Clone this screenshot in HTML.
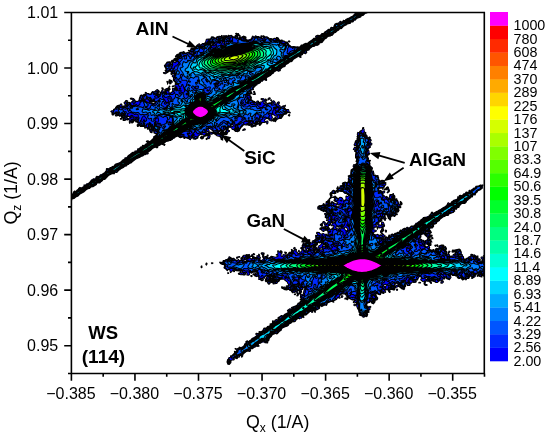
<!DOCTYPE html>
<html><head><meta charset="utf-8"><title>RSM</title>
<style>
html,body{margin:0;padding:0;background:#fff;}
body{width:550px;height:437px;overflow:hidden;}
svg{display:block;font-family:"Liberation Sans",Arial,sans-serif;}
.tk{font-size:16px;fill:#000;}
.cb text{font-size:14.3px;fill:#000;}
.ti{font-size:17.8px;fill:#000;}
.an{font-size:17.5px;font-weight:bold;fill:#000;}
.ct path{fill-rule:evenodd;stroke:none;}
.ct path.cl{fill:none;stroke:#000;stroke-width:1.05;stroke-linejoin:round;}
.ax{stroke:#000;stroke-width:1.6;fill:none;stroke-linecap:butt;}
.ar{stroke:#000;stroke-width:1.8;fill:none;}
</style></head><body>
<svg width="550" height="437" viewBox="0 0 550 437">
<rect width="550" height="437" fill="#fff"/>
<defs><clipPath id="cp"><rect x="71.40" y="12.50" width="412.90" height="360.95"/></clipPath></defs>
<g class="ct" clip-path="url(#cp)">
<path fill="#0000ff" d="M372.4 8.5l-.5 1-1 0-4 3.5-1.5 .2-2.5 2.3-1.5 .2-.7 1.3-4.3 1.6-3.5 3.3-2 .2-.5 1.2-3 .6-4 2.4-2 2.3-2 .5-5.5 4-1.5 2.2-3.5 .7-1.6 1-1.4 1.6-1.3 .4-2.5 3.5-2.7 .6-.5 1.5-2 .9-1-.5-2 1.5-2 .4-2.1 1.6-.8 1.5-2.1 .6-.1 1.9-.9 1-3-.2-.4 1.2-1.8 1 .2 1.9-1.5-.4 .4-1-1.4 .2-5 3-2 2.5-1.5 .1-4 2.7-1 1.9-2.5 .9-1.9 1.7-.6 1.8-1.5 .4-1.5-.8-3 1.6-.4 1-3.1 2.6-3.7 1.9-.3 3-2.5-.8-1.5 1.6-1-.2-1.5 1.8-3.5 1.6 .5 .5-1 .2-3 2.8 .6 1.5-2.9 1 1.5 3-2 .5-.6 1.5 1.2 .5 .8 2-2.2 1.5 2.1 0 1.5 1.5 1.8 .5 2.3 2.5 .6 0-.9-2 .7-1 1.2 .5-.3 1 .6 .5 4.4-2-.9-1.2-1.5-.8 .5-.4 2.5 .2 1 1.7 .4-1.5 1 .5 .7 1-1.3 .5 .7 1.5-2-.7-.9 1.2 .4 .7 1-.3 .5 .6 6-1.2 .5-1.5 1.5-.6 1.3 .8 .7 1.3-.3 1.2 .8 .7 1.5-2.2 1.5-.8 .6 1.3-1.4 1 1.8 1.5 .1 1 1.9 .3 3.5-1.6 0 1.1-1-.2-.1 1.4 1.6 1.9 2.7 .1 .4 2 1.3 1-.4 .6-2-.8-1.5 1.7-2.5 .4-2.5 3.8-2.5 0-2.5 1.8-1 1.7-1-.8-1.5 .1-.3-1 2.8-2.5 1.5 .6 .5-2.1-1.5 .3-3-2.2-1.3 1.4 .8 2-1 3.6-2.2-1.1 .2-.9 1 0-.5-.6-1.5 .5-1.5-.7-2.1 1.2-.2 1.5 3.3 .3 .1 1.7-.8 1-1.3-1.9-3.5 .3-2.5 3-.8-.9 .3-2.5-1.5-.7-1.6 .7 2.1 1-.5 1.3-2.4 .7 .6 .5-.2 .7-1.5-.2-2 1.1-1.5-.6 0-1.4-1.5 .3-1.5-.5-.5-1.4-.7 .5 .2 1.1-1.3-.1-.7-.9-2.5 1.3-.1 1.1-1.4 1.1-1.5 3.2-2 1-1-.6-1 .2-2-2-1 .1-.6-1.5-2.9-1-.6 .5-.3 2.5 .4 .6 1.2-.1-.2 1-1 .1-1.6 2.9-2.4-.2-1 .7-.9 3.5 .3 1.5-1.9-1 .1-1-1.6-1.9-3.1-.6 .1-1-1.5-.1-.5-1.1-3 .9-1.5-1-.5 .3 .8 2.5-1.3 2.7-1.3-.7 .5-1.5-.7-.9-2.5 .7-.5-1-4.5-1.1-1.6 1.8-.5 2-2.4 1.3-2.2-.3 .7-1-.5-.8-2.5 1.3-.5 1.2-7-2.9-3 .9-2.5-1.6-2.5 .8-1.5 1.5-1-.3-.5 1.4-1.9 1-4.5 1-2.4 1.5-1.2 1.6-1.5-.5-.6 .9-2.5 1-.4 1.7-2-.6-2.5 1.1-4.7 3.8-.3 1.9-4 .9-1 1.2-1.5 .2-2 1.4-3.6 1.4-4.4 3.8-2 .6-.9 1.1-1.1 .1-1 1.4-1.5 .2-6 3.9-2 2.4-2-.5-.5 1.7-2-.1-3.5 1.6-4 4.1-2 .2-.3 1-2.7 2.4-1 .2 0-.6-1.5 .4-.9 1.6-3.6 2.3-2 .3-1.5 1.4-3 1-2.7 2.5-3.7 2-1.8 2-2.5 1-1.7 1.5-2.1 .5-.3 1.5-1.2 1.2-2-.1-1 .7 0-5.3 1-2.6 .5-.4 1 1.5 2.7-1.5 1.8-3 1.5 .4 4-4 1.5 .6 2.5-1.5 0-1.5 2-.2 1-1.1 2-.6 2.5-3.1 2-1.2 2.5-.3 .5-1.9 2 .1 2-2 1.5-.3 3-2 1.4-1.9 .1-1.7 2.5-.1 1.5-1.2 3.8-1.5 1.7-2.1 4.5-1.6 4.3-3.3 .2-1.2 1.5 0 5-4.7 3-.8 .5-1.4 2-.1 1-2.1 1 .1 2-2 1 .4 1-2 1.5 .3 1-1.3 1.7-.7 .2-1-1-1 .6-.5 3.5 .2 3.1-2.7 .3-2 2.5-1.5-.4-1.2-1.9-.8-1.1-3.8-.8 .3-.2 3.3-1.5-.6-1.1-3.2 2.3-.5-.9-1.5-1.5 .5 .1 1-1.4 .7-1.5-1.9-1.5 1 0-1.9-4.5 0-1-1.1-2 1.2-.3-1.5 1.9-1-.6 0-1.1-2 .6-1-.5-1.1-.8 .6-.2 1.6-1.2-1.6 .2-1.2-3 3.6-.6 .1-1.4-1.4-.5 1.8-.5-.3-.1-3.1-.9-.6-5 1.2-.5-.6 .4-1.5-1.7-1-.2-1.5-2 .2-1-1-2.7 .8-.4-.5 1.1-3-3 2.4-1 0-.5-.9 .2-1.5-1.3-1 2.5-1 .2-1 1.9-1 1.4-2.5 2.6-.6 1.5-1.4 1 .5 0 2.4 3.3-1.4 .6-1-1.3-.5-.4-1.5 .8-.7 1.3 .7 .2 1 1-1 2-.2 1 1.7 .1-1 2.4-2.5-.5-.9-2-.6 .5-.9 2.5 .3 2 3 3-.3 2-5.6 1-.6 1.5 .7 1-1.3 1.5 .5 0-2.4 5 1.7 2-2.5 2.5-.1 2.5-1.9 2 1.9-1.6 2 1.6 .7 .7-.2 .1-1.5 1.5-1 .7-2-.5-1.8 1.3 .8-.3 2 .4 1.5 .6 .1 1.1-1.1-.2-1.5 4.1-1.9 1.2 1.9-.7 .7-2-.3-.1 .6 1.6 .8 1 2.1 .5 .1 .5-1.1 1 0 .8-1.9-.3-1.7 .5-.6 1.5 .7 .9-2.4-.5-.5 .5-3.5-2-2 .1-3-1.3-1.5 .8-1 1.5 0-1-1.8-2.1 1.3-.2-3-1.7-.6-4 2.8-2-.7 0-.5 3-.3 .2-.7-1.5-1 1.2-1-1.9-4 3-3.5 2.5-.3 1 2.3 1.6-.5 .2-.5-1.4-1 .1-1 2-.6 .6-1.4 1.4-.9 1.5 .4 .2-1.5-1.2-.1-.3-.9 1.3-1.4 2-.6 .5-1.1 4.5-1.4 1 1.6 4-.9 2 .8-.2-1.5-2.3-1 1.5 .4 1.5-2.8 2 .4 0 1.2 .4-.7-.4-.5 1.9-1 2.1-2.7 .5 .2 1.5-1.2 .5 1.4 2.5-1.7 2-.3 1.1-.7 .9-3.3 4-.4 1.5-2 4 1.3 1.5-1.5 1 1.1 .5-1.4 2.7 .2 .3-1.1 .5 1.6 2 2 .3-1.5-1.1-1 .1-1 1.2 .6 1.5-.5 .3 .9 .7 .2 1-1.5 1 .5 2-.4 2.5 1.8 1-.5 .5-1.3 1.2-.3 .2-.5-1.2-1 .8-.3 .5 .5 1.5-.1 1.9 2.4-.4 .6-1.5-1.8-1 .1 .5 3.4 2-1.3 1.5 .2 2-1.1 2.5 .9-.5 2.2 2 .8 3.7-1 1.3-2.8 1.5 .9 2-1.3 1 .8 2-.1 1.5 1 .5-1.5 1-.1-.5 1.6 .5 .8 1.5-.8-.6-1.5 .6-.3 2 1.3 1.5-.3 2.5 2.1 1.5-.3 2.5 .7 1-1 1.5 .5 1-1.3 1.4 .6 1.6 2.4 2-.5 1 1.7 1-.9 1 1.4 2.5 .2 2 3 2 1.5 8 .2 1-.5 .8-1.5 1.7-.1 3-1.6 1.5 .1 6.5-5.2 1.8-.2 .8-1-1-.5 1.9-1.2 2.5 .3 2-2.2 1.7 .1 .8-1.3 4-2.9 1.5 .1 1-2 2.5 .1 1.6-3.5 3.4-.8 2-2 1 .8 1.5-.5 .5-1.3 1.5 .5 .9-1.2 7.1-3.6 2.5-3.1 6-2 .9-2.3zM250.4 122l-.5-.5-.9 .5 .9 .7zM252.7 124l1.2 1.4 1.4-.4-1.4-1.6zM271.5 103.5l.9 .5 1.2-1-.2-.4-1.9 .4zM274.9 109.6l1.8-1.6-2 0zM126 105l.9 .8 .8-.3-.3-.8zM126.9 117.5l1.5 1.3 1-.8 1.5 0-1.5-1.4-1.5-.2zM133.6 117.5l1.3 .7 .6-.7-.6-.7zM149.4 101.5l0 .5 4 1.2 1.7-.7-.7-1.1zM173.4 60.9l.5 1.4 1.5 .4 .5-.7-.5-1.3zM179.1 89l1.3 0 .3-.5-1.3-.1zM192.9 52.5l-1 1 1 .9 .7-.9zM205.6 132.5l.4 .5 2.7 0-.2-1-1.1-.5zM208.1 129l1 1-.2 1.6 3 1.1 1-.6 .2-1.1-3.7-2.8zM211.4 42.6l-.5 2.4 1 .9 1.1-2.4zM223.9 41.2l-1.5 .7 .5 1.3 1-.4zM225.8 129l-.6 0-1.8 2.5 .5 1 1-.1 .5-1.3 1.3-.1zM235.4 125.4l-.7 .6 .7 1.6 .6-1.6zM275.4 110.4l.5 1 1.1-.4zM149.6 123.5l0 1 .8 .5 .2-1zM192.9 134.2l1 1.6 .2-1.3zM221.4 130.5l-.5-.3-2 1.6-.9 2.2 .4 .4 2.5-2.2 .2 1.8 1.3-.3-1.2-2.2zM230.9 125.5l1.5 1.1 .9-1.6-1.4-.5zM290 41.5l-.6 .5-1.2-.5 1.2-.6zM169.4 79.7l2 .8 1 1.5-.5 .4-1.8-.4 1 1.5-.7 .4-.8-.4-.6-2zM166.9 81.3l1.4 .7-.9 2.1zM172.2 86.5l.7-.7 1.2 .2-1.2 .8zM168.9 87l.5-.9 .5 .2-.1 .7zM253.9 91.3l.6 .2 .9 2.7-1-.2-1 .6 1.2-1.1-1.1-1.5zM270.2 98l-1.3 1.7-1-.1 .3-1.1 1.2-.7zM270.9 99.7l.7 .3-.2 .9-.7-.4zM125.6 101l.8-.6 1.4 .6-.4 .5zM288.9 114.6l1 .4-.5 1.1-1.1-.6zM120.4 118.5l1-.3 .3 .8-.8 .4zM483.1 185l-.8 1.5 .1 1.5-2.5 2-2 .7-2.1 2.3-.7 2-1.7-.3-1 2.2-1.5 .2-2.5 2.1-2.5 3.3-1.3 1-2.8 0-2.4 2.5-.5 1.4-1.5 0-1 1.8-2-.2 .4 2-1.5 1.5-4.4 1.4-1 1.6-1.5-.1-3.5 1.6-3.2 2.5-.3 1.1-2.5 1.4-.6 1.5-3.3 1 .6 2-1.2 1.4-2.5 .4-.4 1.2 1.9 3-1.4 1-.2 2 .6 .3 1.5-.8 .3 .5-.3 .9-1.5 .4-1.6 2.2 .6 .8 1.6-.8 .1 2 .9 1-1.6 .5 .7 1.5-.2 1.4-2 0-2.5-1.5-2.1 .6 1.6 2.2 1.5 0 1.5-1.1 1 4 2 .6 1.7-.7 1.3 1.9 .7-.4 .4-2.5 2.8 0 .3-2.5 2.3-.9 2.5 .4-.3 1 .8 .5 1-.4 1 1.4-.2 1.5-1.1 1 1.7 1 .3 1.5-1 .5 .8 1.3 1.1-.3 .9-3.4 1.2 .4-1.7 2 1 1-.2 1 1.2 1 1-.5 1.5 .3 .1-1.3 1.8-1 .6-2.1-3.4 .1 .9-2.1 1 .4 5.5-1.2 1.9 2.9 0 2.5 1 0 .2 1.5 1.1 1-.1 1.5 .9 .6 1.5-.1 2.8-1.5 .2-.8 1.5-.3 .6-.9-.2-1 .6-.3 1.3 .3 0 1.5 .7 .6 .8-.6-.4-1 .6-.2 2 1.5 1.5-.4 .5 4.6 .7 0-.3-1.5 1.1-.1 .5 1.1-.5 1 1 1.1 .6-.1 .4-1.6 2-1.3 1-.1 .5 1.6 2.5-.9 0 15.5-2.5-.9-2 1.8-1.5-.9-.5 .8 .5 1.1-3.5-1.3-1 .6-.3-.9 1.3-.3 .3-1.7-.8-.6-.6 1.1-1.9 .5 0 .9-.2-1.4-1.3-.2 .5 1.7 1 0-.2 1-2.8 1.9-1-.4 .7-.5-.2-.9-1.5-.7-1.5 2.3-2.3 .3-.7 1.5-1-1.5-1 1.1-1.5 .4-1.1-1.5 .1-1-.5-.3-1 1.2-1 .2-1-1.1-.5 .2 .5-1.4-5.5-.9-1-1.3-1.1 1.4 .7 2-1.6 2.2-2.5-.7-.4-2-.6-.3-1.3 2.3-2.1 0-1.1 1.6-2.5 .5-1.6 1.4-1.4 0-4-1.7-2.5 1.1-.5-.8-1.5 .2-1.5-.6-.8 3.3 2.2 1-1.4 .4-1.5-.7-.5-2.9-3-1.8 .4-2.5-1.9-1.1-1.8 3.6-1.7 .1 .4 1.4-.4 .7-2 .4-2-.5-.5 1.1-1.3 .3 0 1.5-.7 .5-2 .1-.7-1.6-.8-.3-.7 .8 .3 2-1.6 3.2-5.3-3.2 1.9-.5-1.6-.9-1.5 1.9-2.4 1-.6 1.9-3.5-.5-1.5 .6 .8 1.5-.3 .9-1.2-.9-.7-1.5-1.1-.4-2.3 .9 1.2 1.5-.4 .4-2-.8 .5 1.9-3-.7-.3 1.7-.7 .2-4-1.4 .4 2.7 1.5 2-.4 1.4-2 .7-.7 2.4-1.3 1.4-1.8-.9-.7-1.3-3.5 1.2-.7 3.1 1.2 .1 .5 1.4 1.5-1.2 1 .7-.9 1 0 1.5-1.6 1.2 .9 1.3-2.2 1 .6 1.5-.8 2.1-1.5-.3-2 .9-1.3-1.2-2.7-1 .5-1.5-3.1-7-.4-3 .5-1-.5-.5-1 .6-1.5-.5-.5 .6-.1-.7 1.2-1-.5-1-2.6-.4-2-1.1-1-2.1-2-.1-.3-.8 1-1-.2-1.2-1.5 1.3-1-.9-2.7 .3-2 1.5 .2 2.8-1.2-.3-.3-1-2 2.6-3 1.4 .5 1.1-3-.7-3.5 1.5-1 2.5-1.5-.7-1.5 1-1-1-.5 .3 .5 1-.5 .6-2-.8-.5 2.7-4.3 2 .3 1.8-.9-.3-.6-1.5-1-.2-.8 .7 .7 1-.9 .5-.6-1-1.4 0-3.5 3.5-1.5-.2-1.2 .7 .2 2.1-1.2-.6-.3-1.3-1 .2-.5 .7 1.4 .4-.9 1.3-1.5-.1-.5 .7-1-.6-2 1.2-1 1.7-3.5 .7-.7 1.1-2.2 1-.6 1.3-6.5 3.1-.9 2.1-1.1 .4-2.5 2.8-2-.3-2.7 1.1-3.4 4-.8 2.5-1.4 .5 .6 1.5-2.8-.3-1-.8-5 1.6-.7 1 1 1.5-1.3 .5-2-1-.4 .5 .5 .5-3.6 2.3-1-.2-1.4 .9 .4 1.6-3-.1-4 2.8-1.5 3.4-1-2.1-1.3 .9-.2 1.1-1.5-.4-1 2-1.5-.8-2 .6 1 1-3 .7-1.5 3.9-2 .1-.9-2.2 .7-2.5 1.2-1.9 1.7-.6-.1-1 1.6-.5 2.6-3-.3-1.1 1.5 .5 .5-.3 .5-2.6 2-.4 .5-1.5 1.5 .6 3.5-2.3 0-1.4 1.7-1-.2-1.5 1.5-.8 .5 .7 1 0 2.7-1.9 .3-1 5.7-3.5-1.7-.4 0-1.1 3-.2 .3-1.8 1.2 .3 2.1-.8 1.4-2.7 1.5 0 1.5-.7 .5-1.1 2.1-.5 .7-1-.2-1 1.4-.1 1-.9 0-2 2 .2 2-1.8 1.5 .6 .6-1-.6-.5 .2-1 3.3-2 2 .2 1.5-1.5 3.4-2.2-.9-1.5 2.5-1.8 1.6 .3 .6-.5-.7-1 4-1.4 2-1.5 .8-1.6 1.2 0 1-1.6 1.2-.4-1.5-1.5 1.7-1-1.4-1.2 .3-2.8-1.1-1-.5-3-1.1 0-.9 1 1.8 2.5-1 1.8-1 .2 .7-2-1.7-2.2-3.5 .9-1.5-2.3-1 .1-1-1.3-2.5 .7-4.3-1.4-.6-1.5 .4-.3 4.5 1.3-.2-2 1.7 .1 .6-1.1-1.1-2.9-2.6-1.6 .4-.5-.8-.9-2-.2-2.5 .6-.7 1.5-2.8 2.5-3.3 .5-.7-1.7-2 .5-1.5 1.5-1.4-1.8 .9-2-1-.3-1 1.6-1.1-.8 .6-2.4 1.6-.1-1.1-.9 1-.9-.5-1-1.7 .8-.8 1.8-4 .2 .5 .8 2.5 .2-.5 1-1 .3-1.5-1.2-1.5-.1-.4-.5 .7-1-1.6-2-1.2 .6-3.5-2 .5-.8 2-.3 2.5 .6 0-1.1-2-.9-3 .2-1.5 .9-2-1-.4 .3 .8 1-.2 1-1.2 .8-1.6-.3 .4-1.5-.8-1.1-.6 .1-.9 2.5-6-.5-.5-1.2 1.5-.3 .5-1.2 1 1.4 1.2-1.2-1.7-1.3-1.5 .4-3-.3-3-1.3-.4 1-2.6 2.1-.7-3.1-1.3-.2-1 1.5-3.2-2.8 .5-2-.8-1.5-3.5-1-.6-1.5 1.1 .5 1.9-.5 .5-1.5 4.1-1.2 2-2.6 3 1.9 1.5-.3 1 1.3 2 .8 1.5-1 1.5 1.3 2.2-1.7-1.2-.3 0-.7 3-2.8 1.5 .1 1.5-.8 .9 .5 .1 1.3 1.5-.7 .9 .9-.7 1.5 2.3 .9 .6-.4 .1-1.5 .8-.4 2 1 2.2-.1-1-1.5 1.6-.5 .7-1.4 .8 .9-.8 1.9 1.5 .6-.5 2.5 2 .5 2.5-3.5 1-.5 3 1.6 3-1.9 4 1.1 2.3-.8 .2-1.5-1.7 0 1.5-1 .2-3.3 1.5 1.6 .5 0 .5-1.6 1.6 .8 .1 1.5-1 1-.1 1.5 .9 1.1 .9-.1 0-1.5 .6-.4 4 .5 2-2.9 1.5 .4 .8-2.1-.4-1 .6-.1 2 1.6 1.5-1.6 1 0-.5 2.1 2 1-.1 1 2.1 .1 0-1.5 1-.2 1.1-1.4-.1-1-1.5-1.5 2.1-1.5-.4-1 1.3-2.8 1 1.1 1-.2 2.9-2.1-.1-1.5 .7-.4 1 .4-.5 1 .4 1 1.1 1 1-.2 .4-1.8 1.6-.4 2-1.8-.3-3.3 2.3-.5-1.3-1.5 .3-1.2 2.5 .1 .2 1.1 1.8 .8 2-.8 6 1.9 0-.7-1.3-.7-.1-3-.9-.5-.1-4-1.6-.2-1.2-2.3 .2-1.1-1.7 .1 .2-1.1 1.3-.4 1.9 2-.3 1 .6 .2 1.7-2.7-.2-2 .9-1-.3-1.5-1.6 1.2-1.7-1.2 .1-2.5-.8-1 .4-.8 1.5 .8 .8-.5-2.3-2.3-1.5 .4-2.8-1.6 .8-1-1 .5-2.5-.4-.2-1.6 1.2-1.6 3.5-.7 1.5-1.7 .8 1.5 .8 0 .9-3.5 3-1.9 .4 1.4-.4 2.4 1.5-.5 1-1.4 3 2 2.5 0 .5-1-3.9-2 .9-1.5-1-1.8-1.3 .3 .3-.7 1.5 .2 .5-1 3 2.6 2-1.3 1.5 .2 1.8 2.5 1.2 .4 1.6-.9-.1-3.1 .5-.5 .2 .6 1.2 0 .8-1-.2-1-1 .1-.5-.8-2-.4-2.5-2.2-3.5-.1-1 1.5-1.5-2.1 3.9-3.5-.2-1 3.8-1.1 0-.8-1.5 .2 .5-1.5 2.5-.7 1 .5 1-.5 1.1 .4-.2-4 .6-1-.7-1.5 3.1-1.5-.6-1 .4-3.5 2.8-1.7-.8-1.8 .8-2 1 .5 1-.7 1.1-1.8-1-1 .7-3-1.2-1 0-2.5 .8-2.5-1.8-1.5 1.6-1-.1-.5-2.7 0 1.4-2.5 1.2 1.4 .3-.4 .1-2-.9-.8-1 .3-.3-1 1.4-3.5 1.6-1 .4-7 .4-.6 1 .3 2-2.1 1-.2 1.3-2.9 .5 0-.3 1 1.4 3.5-1.4 .9 0 .6 1 .4 1-1.3 .5 .2-.4 1.2 1.5 1.5 .4 2.1 1 .2 1-.9 .9 .6-.9 2 1.8 .5-1 2 1.7 1.5-.2 1.5-1.2 0-.2-.5 .1 2.7-2.3 1.8 1.5 4.5-2.2 2.5 1.1 2.5-.6 2.1 2.6-.1-1 1.5 .3 3 2.6 3-.8 2 .6 1 1.4 .5 .4 2-.6 1.1 3 1.2 1.5-.3 .1 1.5 .6 .5 .9 3 .9 .4 1.5-.6 2 .1 .6 1.6 1.6 1-.9 .5 .7 1-.5 .8-1 .1 .1 1.1-1.6 2 0 1-.5-1.6-2.5 .1-1.1 1 .3 2 1.8-.5 1.2 1.5 .6 2.5 2.7 3 1.5-1 1.5 2.1 .9-1.1 .6-3 2.5-.3 1-.7 1.6 3.5-.9 2 2.8-.2-.3 .7 1.7 2.5 .6 2.4 1.4-.9 .1-2.1 1.7 2.1-.2 1-2.1 1 1.1 1.4-.1 .6-2.5 1 .9 1.5-.8 1.7-2.4 .8 0 1 1.4 .5-.1 .5-1.4 .2-1.4 1.8-2.1-.8-1.3 .8-.6 3.5-.6 .1-1.6-1.6-1.1-3.5-.8-.4-1.5 .6 .5 1.9-1.6 .4 .6 1 1.5-.5 .3 .5-1.3 2-1-1.6-2-.5-.1 2.6-2.7 1-.5 2 1.3 1.3 1.8-.8-.3-1.5 1-.9 1 .4 1.2 3.5-1.8 1.5 .9 3-1.7 1.5-.1 1.5-1.3-1-.1-1.5 1.7-3-.8-.8-1.5 .9-.5-.8-1-.1-1 2.1-.3-1.8 1-2-.8-2-.7 0-.4 1 .2 2.3-2.3 .7-.2 2.6 2 .2 .5 .7-2.5 1.2-.5 1.8 2.5 .9 2-.7 1 1.4 1.5-.9 1.5 .6 .5-1.7 2.7 2.4-1.5 1 .1 1-.8 .5 .5 1.2 2.5-2.9 3 .7 0-2.4 .5-.1 .4 1.5 .6 .1 .6-2.1 1.4-.5 1.5 .7 1-1.4 1.5-.1 1-.9 2-.1 1-2.2 1.5 .4 2.5-2.2 1.5 .2 1.5-1.2 2 .7 2-1.9 2.5-.1 2-2.6 4.5-2.6 3-3.2 6-1.5-.2-1 1.2-.3 1.5-2.6 1.5 1.4 13.3-8 1.2-2.6 1.5 .8 1.5-.7 2.5-2.7 3.9-1.3 .5-1-.2-1 1.3 .2 .5-1.7 2.8 0 4.2-3.4 1 .3 2.1-.9-.1-1.2 .5 .9 .7-.2 .5-1 2.7-2 1.6-.3 .5-1.5 2.5-.1 2-1.2zM372.9 297.8l-1.1 1.2 1.1 2.4 .8-.9zM374.4 293.9l-.7 .6 .7 .9 .8-.9zM382.3 290l-.9 .2 0 .9 .8-.1zM383.8 284.5l-.2 1 1.3 1 1-.3 .6-1.2-.6-.8zM397.4 283.3l-1-.1-1 .7-.8 2.1 .3 .6 1.5-1.3 1.5-.4zM408.4 246.8l-1 .6 .5 1.2 1-.8zM423.9 233.7l-3 1.2 .1 2.1-1.3 1.5 4.7 2.8 3-1.6 .5-1.7zM425.9 231.4l.2 2.1 2.1-.5-.8-1.3zM425.4 277.2l0 1.8 1.6 .5-.1-2zM432.4 277.9l-.5 2.4 1.2-.8zM440.9 278l-1 .2 0 1.1 .8-.3zM454.5 255.5l1.4 .5-.5-1zM457.8 255.5l3.1 1.5 .9-.5-1.4-1.5zM471 273l1.4 .7 1-.2-.5-1.2zM475.1 259l1.3 .1 0-.6-.5-.4zM242.2 258l1.2 .9 .9-1.4-.9-.5zM243.8 260.5l1.1 1.1 1.8-1.1-.8-.7-1.5 0zM249 258l-1.1 .1 0 1.1zM270.6 277.5l.8 .7 1.3-.7-.3-.6-1.5-.1zM275.4 280.9l-1 1.1 .5 .5 1.1-.5zM305.6 248l-1.2-.4-1 .5 0 2.8 1.7-.9zM305.4 246l0 .8 1.3 .2zM306.5 249.5l1.9 2.3 .8-.3-1-1 .7-1 1 .9 1.4-.9-1.4-.6-1 .6-1.5-1.1zM311.4 245.4l1 3.7 .5 .1 .8-1.2-.6-1.5zM317.6 238l1.4 1-.1-1.3zM321.9 237.4l.5 1.9 .5-.8zM325.1 245l-1.7-.7-1 3.2-1.5 .8-1.5-.3 .8 2 2.2-.5 0-2 1.5-1.3 1-.1 1.3 1.4zM324.4 237.1l-.7 .9 1.2 .9 .6-.9zM330.6 217.5l1.3 2 .8 0-.8-2.2zM335.4 220.2l-2.6 1.3 .6 1.5 .5 .2zM335.6 227.5l2.3 1.7 1.5-.7 1.5 .6 .6-1.1-1.1-1-1.5 .2-2.5-.6zM341.7 200.5l-.3-.5-1.2 .5 1.2 .6zM344.7 227.5l-.1 1.5 1.8 2.1 1.5-2.1-1.5-1.8zM345.9 216.6l-.6 .9 .6 .7 .7-1.2zM354.9 165l-.5 2 1.1-1zM409.4 281.6l-1 .4 .5 .9 .6-.4zM304.4 287.5l-1.3 .5-.7 1.4-1.1 .1 .3 2.5-1 1.5 1.3 1.6 1.6-1.1 .4-4 1.3-2zM321.4 242.5l-2 .4-1-.8-1 2.6-1.5 .9-.2 .9 1.1 1.5-1.6 1-.8 3.5 1.5-.5 .5-2.8 1-1.2 1.2 0-.2-1.9 2.5-1.5zM331.9 222.3l-1 .2-1 2.9-1.6 .6 1.4 3 1.2 .5 2.5-2 .7-1.5-2.7-.5 1-2zM334.9 244.6l-1.2 .9 .7 1.2 .9-1.2zM340.5 203.5l-2.1 1.4-2-.1-.4 1.2 1.4 .9 2.5-.9zM245.4 129.3l-.5 .8-2.2 .4 1.7-1.7zM200.3 137.5l1.1-1.1 1 .6 1-.8 .7 .3-1 2-1.2 .5zM183.7 138l.7-.5 .7 .5-.7 .5zM206.4 138.2l.8 .8-.3 .6-.9-.6zM163.9 143.8l1.1 .7-.6 1-.7-.5zM337.9 186.4l0 1.6-1 .7zM384.3 189.5l1.6-1 .4-1 1.6-.7 1.6 3.7-.6 .3-1.5-1.3-1.5-.1-1 .6zM335.9 191.2l0 2-1.5 .6-2-.4-.9 .6 .6 1.5-.9 1 .4 1-2.2 1.9-.1-.9 .6-.1 .9-1.9-.9-2.5 .4-1 3.1-2.7zM382.5 192.5l.4-1.4 1.5 .1 .5 .8-1.5 1.2zM387 192.5l1.4-1.4 1 .4-2 1.4zM326.4 220.5l.5-1 1 .5zM321.9 223.3l.7 2.2-.7 .9-1.6-1.4zM320.4 227.9l1.5-.4 .5 .9 1-1.4 1.5-.4 1.4 1.4-.4 2.5-1.5-.6-.5 1.6-.5 0-2.2-2-1.3-.3zM385.9 230.1l.7 .9-.7 1.2-.6-1.2zM431.9 237.3l1 1.4-1-.3zM436.6 245l1.1 0 .2 1.2-1-.2zM435.4 245l.4 .5-.4 .9-.6-.9zM294.9 247.4l.1 1.6-1.1 .1 0-1.3zM298.9 250.2l.5 .8-.5 .6-.5-.6zM284.9 251.9l1.6 .6-.6 1.2-1-.7zM261.9 252.7l2.2 .3-.7 4.3-.9-.3 .3-1.5-1.7-2zM254.6 254l.1 .5-1.3 .2-1.5 1.9-1.2-.1 .7-1.5 1.4-.5 .6-1zM248.7 254.5l.7-.1 0 .9-.9-.3zM267.4 254.9l.6 .1-.1 1.2-.9-.2zM483.3 256l1.1-.8 3.5 1.8-1.5-.3-1 .6zM239.7 256.5l-.3 .8-1-.2-1.5 1.4-.5-.5 .5-1zM481 257.5l.4-.6 2.6 .6-1.6 1.9-1-.7zM206.7 263l.4 .5-.7 1.6-.6-.6zM211.4 263l1.6 0-1.1 .7zM201.4 265.9l.7 1.1-.7 .8zM233.4 271l.5-.4 .7 .9-.7 .2zM227.6 273l.8-.3 .3 .8-.8 .1zM250.8 275.5l1.1 0 .4 .5-.9 .7zM442.9 280.8l.6 1.2-1.1 1.1-1.5 0 0-1.2zM418.7 283l.7-.8 1.2 .3-.2 .6zM430.9 282.2l.6 .8-.6 .5-.5-1zM396.9 288.9l.7 .6-.7 1-.5-.5zM294.3 294.5l.6-.7 .8 .2-.8 .8zM341.4 295.8l1.4 .2-.4 1.3-1-.1zM347.4 297.3l.8 .7-.8 1.8-.6-.3-.1-1.5zM344.9 298.2l.6-.2 .5 1-1.1 .1zM354.4 303.9l1.1 .6-.6 1.3-1.1-.8zM235.1 348.5l.8-.1 .3 .6-.8 .3z"/>
<path fill="#002aff" d="M372.1 8.5l-4.2 2.8-1 1.4-2 .3-2 2.1-1.5 .3-1 1.4-3.5 1.1-3.5 2-1 1.9-1.5-.2-6.5 3.7-10.5 7.5-1.5 2.2-1.5-.1-4 1.8-4.2 3.8-.8 1.5-2.5 .4-.7 1.6-1.3 1-1.5-.4-6.1 3.4-3.8 3 .4 1-1 1.5-1-.9-1.5 .2-1 1.8-3.5 1-5 3.1-1.5 1.9-2 .6-4.7 3.3-.4 1.5-2.4 .9-3.2 3.6-2.3-.4-3.3 1.4-3.5 4-3.3 1.5-.9 2.3-2.5 .1-1 1.5-1-.1-3 2.6-1-.1-3.8 2.7 0 1-1.1 1 .1 1.5-1.7 .2-.7 .8 1.3 2.5-2.1 .9-1.2-.4 .3 2-1.7 .5 .1 1.4 1-.4 1 3.3 2.5 .1 1.1 1.1-.1 .8-1.8 .2 .1 1.5 5.7 .8 4.5 3 1.5-.6 2.5-2.2 2 .4 .5-1.4 1-.4 2.5-.1 1 1.7 3-.6 1.7 .9-.7 1.5-2.4 .5 .1 2.5-1.5 3.5-1.2 .4-1-.7-1.8 .3 1.7 2-.9 .8 .1 1.7-2.6-.2-.5-.8-1-.1-2.2 1.1-.1 1-2.3 1.5 1.2 2.5-1.5 2-.6-1 .8-1.5-1.8-1.7-2.5-.1-.5 3.1-5.5-2.8-3 .7-2-.6-1.5 1.9 .5 1.1-2 .7-1.5 3.2-1 .3-.5 2.1-1 .3-1.5-1.5-.3 1.3-.7 .4-1.1-.9 0-1 2.6-1.3 .9-1.2-1.4-1.9-1.9-.6 .3-1.5-.9-.4-1 1.8-2.6 1.1 .1 1.6-2.2 .4-.8 3-2.3-2-.7-1.5-.8 .5-.3 1.5 .9 .5-1.2 3 1.2 1.5-1.3 1.8-1 3.8-1.7-2.6 .7-1.5 2.3-1-1.5-2.5-.1-2-2.2 1.4-.5-.3-1 2.7-1 .9-2-1.3-2.3 .1 1-1.5-.9-1.5 .4-1.5-3.2-1.5-2.3 1-1.2 2.6-1.8-.1 .3 1.5-.5 .6-2.1-.1-.4 1.5-2-1.1-1.5 .9-1-.1-2-3-1 .3 .4 1-1.9 1.4-1.4-.9 .4-1-1.5-.4-1.5 1.9 1.1 .5-1.1 .3-1.5-.7-.2 .4 2.3 2.5-.1 2-5.5-1.5-.4-.5 .8-1-1.4-.8-2.5 .6-.5 .7 1 .8 1.5-.6 .4 .3-.4 .7-2 .6-2.5-1.6-2 .6-2 1.5-2.2 .2-1.3 2.1-1-.3-1.5 1.2-2 .3-2.9 1.7-.6 1.3-1.5-.6-3.8 2.3 .3 1.3-.5 .2-1-.9-3.5 1.6-7 6.3-1.5-.1-1 1.3-1.5 .2-5 2.5-4 2.7-1 1.4-2 .7-1 1.1-1.5 .1-.5 1.2-1.5 .1-1.5 1.4-1.2-.1-5.8 5.4-1.5-.7-6.2 3.3-3.8 4-1.5-.1-3.5 3.4-1-.4-2.8 1.6-1.5 2-8.2 3.8-3 2.7-3 1.4-2.6 2.6-1.9 .4-4.2 2.6-1.3 2.4-3 .4 0-4.4 1.5-1.5 4.1-1.9 .9-2.3 2 0 3-2.2 .4-1 2.1 0 2.8-2 .2-1.4 1.5 0 1-1.2 1.5-.2 3-3.3 4-1.2 .8-.7 .2-1.7 2 .1 2.1-1.9 4.4-2.2 1.7-2.3 .1-1.5 1.2 .5 3-.8 1.5-1.9 2.3-.8 .6-1.5 3.6-1 8.2-6 4.3-4.1 6-2.2 .9-2.2 1 0 1.6-1.8 1 .2 1-2 1.5 .4 1-1.3 2-1 .4-1-.9-1 1-.3 .5 .7 2-.4 3.5-3 .1-1.5 2.6-1.5 0-1.5-2.4-1.5 .1-1.5-.9-.9 .2-1.1-.8-.5 .8-1-.2-.7-1.5 .5-1.5-1-2.5 2.2-.3-1 1-2-1.2-1.8-.9 .8-.1 1.7-1-.5-2 .6-3.2-.3-.6-1.5 .4-2-1.8-.5 1-4-1-1.5-.3-2.1-2-.5-1.5 .6-1-1-3-1-2.7 1 .1 2-.9 .8-2-1.9 0 1.6 2.7 3-.7 .7-1-.5-1 1.1-1 .2-.7-.5 .3-2-1.6-1.5 2.3-2.5-.3-.5-1.5 .1-1 1.5-1.5 .5-3-3.7-1-.2-1 1.5-1-.2-1 1-.5-1 1.3-1 .7-2.5 4-3.8 1.8 .8 .2 1.1 2 .8 1.5-2 1.5 .8 .5-.7 1.7 0 .9-1-1.3-1.5 .7-1.2 1 0 .5 1.7 1.5 .1 1 .9 3.2 0 .8-1.5 1.5 1.5 2-.6 .7-2.4 1.3-1-.5-1.3-1 1.3-.6-2 1.1-1.5 .1-2 .9-.7 .8 .7-.8 3.7 2.5 .2 .5-.4-1.8-1.5-.1-1 1.4 .2 .6-1.2-.7-.5 .1-.8 2 .7 1-1.8 3 1.1 1.9-.7 .6-1.7 3.5-1.1 1.6 1.3-.3 1.5 1.7 .6 2-.5 0-1.3 3-.2 2-.8 .9 2.2-.9 .6 2.5-.8 1 1.2 1.5-.8 1.5 .4 2.5-1.6-1.6-1.5 2.1-2.5 1.5-.5 1.5 2.5 1.5-.7 1.3 .2-.3 1.4-1.8 .6 .3 1.2 1 .2 1.4-1.4 2.1-.2 1-1.3-2-6.1-1-.4-.3 1.5-1.7 1.2-1.1-1.2-.3-1.5-2.1 0-.7-3-1.8-1.5 1.8-1.5-1.5-1 .2-1.5 .8-1-.8-3.1-1.9 .1 0 1-.6 .1 .4-1.1-.9-1.1-2.5-.8-1.7 1.9-.1-2.5-2.2-3.5 .5-.6 3 .3 .9-.7-.9-1.1-2.1 .1 .8-1.5 1.8-.2 1.2 1.7-.6 1 .4 1.2 .9-.2 .8-1.5 1.2 0-1.7 3 .3 1 1.5-.5 1.5 .3 .5-2 2-.5 1.8-2.3-.3-2.1-.5-.4-1 .7-2.4-2.2 .9-.9 2.5-.1-.5-1.7-1.5-.8 1-1 4-1.4 .2-1.1 1.3 .2 1-.6 1 1.5 4.5-.7 .4 1.1 4.1 1.3 1.5-2.1 .5 .3 .5-.7-1.5 .1-1-1.7-1.5 .4-1.1-.6 1-2.5 1.6 2.1 4-5.3 2 .8 3.5-2.2 1.5 1.3 .5-1.7 2.5-1 .5-1.5 1.4-.5-.7-1 2.3-.6 1-1.9 1.5 .2 1 1.2 2.5 1.1-.4-1 .9-1.4 1.2 1.4-.5 1 .8 1.6 .5-4.6 1.5 .7 1-.3 2 3 1.6-.9-.1-2.6 .5-.2 2.5 2 .8-1.2-.8-.3 0-.8 1 .4 2-.5 1.1 1.2-2.1 .6-.6 2.9 .6 .6 2.2-1.1 0-2.5 1.8 .4 1.5-2.1 1-.4 .2 2.6 .8 .7 2-1.3 1.4 .6 .1 1.1 1.5 1.1 3 0 1.5 .6 3 0 2.5-2.8 5.5-1.2 1 1.3 3.1 .9 1.4 1.2 1.2-1.2-1.2-1 0-1.5 1 .9 1.8-.4 2.4 2 3.8 .7 2 1.2 2.5-3.1 2.5 3.1 2-.6-.9 1.7 .9 1 3 .5 1-1 1.5 .3 2.1 3.7 2.7 1 .4 1 1.8-1.2 5 .1 2.1-.9-.1-1.2 3-.6 1.5-1.1 1.5 .2 6-4.9 2-.3 2.8-2.1-.7-.5 2.4-.2 2-1.8 2-.4 4.5-3.9 1.5 .1 1.3-2.3 2.2 .3 1-.8 1-3 1.5-.5 2.5 .2 4.5-2.6 1.3-.1 .8-1 6.9-3.8 3-3.2 6-2.3 .9-2.2zM260.4 115.9l-2.6 3.6 1.6 .5 .4-.5zM144.4 116l-1.1 0-1.1 1.5-.6 2.5-1.5 1 .8 1 3.5 .1 2-1.4 .4-1.7zM145 100l.4 1.3 8 3.1 2.3-1.4-.2-1.5-1.1-.8-2-.4-2 .5-2-.9-2-2-.3 1.6zM155.1 93l-.1 1 .9 .6 .5-1.1zM162.5 96.5l3 5-1.2 1.5 .6 1.3 1.5-.8 .2-1.5 1.8 1.5 .5-2.5-1.3-2 .8-.9 1.8 .4 .2 1.6 1.6-.1-1-3-1.1-.7-4 1.2-1.4-.5-.6-1.2zM183.8 55.5l1.1 .6 .8-.6zM186.9 93.2l-.9 .8 .4 .8 .7-.3zM202.4 45.8l-1 .4 0 .8 .6 0zM210.7 42.5l-.2 3 1.9 2.5 2.5-.2 1.9-1.3-.6-2 1.1-1.5-.5-1-1.4 .2-.9 1.3 .8 1.5-1.4 1-.9-.5 .7-2-1.1-1.5zM217.9 83l-1 .2-1.2 1.8 .7 1.8 .9-2.3 1.2-1zM224.4 40.1l-4.5 1.4 1.6 2.5-1 1 .4 .6 3.6-1.1 .6-3.5zM226.9 40.9l-.7 .6 .2 .5 .8-.5zM226.7 123l.7 .7 .8-.2-.7-1zM241.9 102.1l0 1.1 1.5 .1-.5-1.5zM245.6 104l-1.7 .4 0 .9 1.5-.3zM148.8 123.5l1.1 1.9 2.7-.4-2.7-2.4zM154.4 98.8l-1.2 .7 .7 .6 .8-.6zM154.5 96.5l1.4 1.8 3-.8-2.5-2.4zM169 122l.9 1.1 1.3-.6-1.8-.9zM238.5 123l.4 1.4 1-.1 0-1.2zM244.4 118.1l-2 .2-.5 2.2 2.2-1zM157.9 117.8l-2.5 .9-.4 2.3 1.3 1-2.2 1 1.8 .3 1 1.1 1-.9 .8-3zM158.4 123.5l2 1.9 .5-.4-1-1.8zM155.4 130l-.7 .5 .7 .6 .7-.6zM242.5 37.5l.9-.9 1.9 1.4-1.4 1.3zM171.8 61l.6-.2 .3 .7-.8 .2zM169.3 81l.6-.6 1.1 .6-1.1 .6zM176.9 86.9l0 .7-1.5 .6 .5-1.1zM167.8 89l1.1-.6 .6 .6-.6 .5zM165.9 90.1l.5-.2 .3 1.1-.8-.1zM157.6 91l1.3 .5-1 .6zM249.9 96.4l.6 .1-.1 1.8zM133.9 99.6l1.5 2.9-1.3 .5-.2 1.4-1.2-1.9zM253.1 102.5l.8-.7 .9 .7-.9 .7zM259.9 103l.8 1-.8 .9-1.2-.9zM277.4 106.3l.9 .2 .1 1.7-1.5-1.2zM283.4 106.4l1.9 3.6 1.4 .5 .4 1.5-.7 1.1-3.4 .9-.2 1.5-2.1 1.5 .7 .6-2 0 .4-1.1-.9-2.2-1.5 .6-2.3-1.9 .3-.6 2-.2 .8-2.2 1.6-1 0-1.5 2.1-.1zM116.9 113.9l1.1 .6-.2 .5-.9 .3zM130.7 116l1.2-.7 1.2 1.2-1.2 .7zM136.4 117.3l1 .1 .9 1.6-1.8 0zM276.5 119l-1.1 2.1-2.5-.6 .5-1 2-1.3zM131.4 119.4l2.6 .1-.2 1.5-1.4 1.3-1.6-1.3zM143.9 119.6l.7 .4-.2 1.3-1-.8zM256 123.5l.9-.9 .9 .4-.4 .9zM248.1 123.5l.8-.4 1.2 .4 0 .5-1.7 .3zM250.9 124l.5-.5 .5 1-.5 .3zM137.6 125l.8-.2 .2 .7-.7 .5zM251.4 126.5l.5-1.4 1.8 .9-1.3 .8zM150.9 129.2l.7 .3 .3 2-.5 .5-1-.5-.4-1.5zM481.7 186.5l.3 1.5-4.4 2.5-2.7 3.8-1.5 0-1.4 2.2-1.7 .5-5.9 6.2-2.5 0-2.8 2.3-.3 1.5-1.4 0-1.5 1.7-1.5-.1-1.5 3.7-2 .4-.5-.7-1.8 1.5-.7 1.6-1-.8-.3 .7-4.2 1.9-5.5 4.7-1.1 1.9-2.9 .7 .5 1.8-1 1.6-2.5-.7-1.4 .6 .8 1-.2 1-1.1 .5-.1 1.2-2-.7-.5 .3-.2 2.7 1.2 .7 3-.6 0 1.5-1.5-.2-1.5 .7-2.5-2.9-2.5 .6-1.3 1.2-.7 3.4-1 .4-1.9-.3-.5 1 .4 .4 1.5-.5 1.5 1.4 1-.6 1 1.9 2-.5-.4 2.9 1.9 1.8 0 1.4-1.5-1.5-1.6 .3-.3-.5 1.1-2-1.7-1.3-1-.1-.9 .9 0 1 1.8 1-.9 .5-.1 2 1.6 2.1 5.5-2.2 3 3.2 1.5-.1 1 1.1 1-1.5 2 1.8 .9-.4 .1-2.1 2.5-.1 1-2.4 1 1.1 1.5-.8 3 0 .2 2.3-1.7 .9-2.5-.5-.1 1.6 2.1 1.5 1-1.8 1.9 .3 .1 1.1-2.1 .9 1.9 1 .7 1.9 2.5 .6 0 1.4 1.5-1.3 2.5 .5 1.5-.7 1 .9 1-1.3 2-.1 3 2.5 2.5 1 1.5-.1 1.6-1.3 2.4-.3 .1 1.3 .9 .5 .7-1-.9-1 1.2-2.4 1 1.4 1.3 .5-.8 .5 .2 1 1.8 1 2-.1-.1 1.6 1.1 1 3.5 .2 1-2.1 1 .7 4-.2 0 7.8-.5 1.1 .5 2-2-.4-.7 1.4 .8 .5-3.1 1.9-2.5-1.2-1 1.4-.5-3-3 .8-1.6-.4-.9-1-2 .2-1.8 .8 .4 1.5-1.1 2.4-1-1-.7 .6 .7 .7 1-.1-.3 .9-3 0-.1-.5 1.3-1-.2-1.5-.7-.1-.8 .6 .2 2-2.4 2.2-1.1-.7-.4-2-.5-.3-1 1.2-1 0-.1-1.4-.9-.9-3-.6-.5-1.4-1.5 1.4-1-1.7-1.5 .6-1.5 3.6 .8 1-.3 .6-2.4-1.1 .1-1-1.1-1 .2-1-1.3-1-3.1 .5 1.1 .1 .3 1.4 1.4 1-.7 1.3-2.5-1.6-1.5-2.1-2-.5-.8 .9 1.3 1.9 1-.8 .7 .9-.8 1.5 .1 1.5-2 .5-1.5-1.1-.8 .6 .3 1-.5 .5-2.2-1 1.6-.5-.9-1-.1-1.5 2-.5-.4-.7-2.5 .8-1.6 3.4-.9 .3-.5-.3 0-1.5-1.5-.5 .5-2.3-1.5 .5-1-1.1-1.5 .1-.5 .8 .5 1.7-2 .3-1.8-2.5-2.2-.3-2 1.8 .9 1.5-.3 .5-2.6-.1-.9 .6 2.4 1.5-1.5 .4-1.2-.4-.3-1.1-3-.8-.8 .4 .1 1-1.1 0 1-2.5-.7-1.2-1.5 .7-.5 1.6-2-1.1-.5 1.8-2.2 .2 1.2 2 1-1.9 2 .3-.1 2.1-1.1 1.5 .4 2-2.7 2.3-1.3-1.8 1.4-.5 .1-1-1.7 .2-2.5-1.7 1.5 0 1.2-1-1.7 .3-2-1.5-2.6 2.2-.7 2 .3 1.7-2 .3-.5 1.1-1.5-.3-2.5 .5-.4-.3 1-.5-.1-1.6 1.5 .9 .4-1.3 1.2 0-1.1-1.6-1.5 1-1.5-.6-.1-.8 2.3-2-3.2-2.4-1 0-1 2-3 2.4 1.6 1-.4 3-1.8 2 .6 1.1 1 .1 0 .8-2 .1 0 1.4-.5 .3-2.5-1.9-2-.2-1.5 1-1-1-1.5 .2-1.4 1.1 2.8 .5 .5 1.5-.4 .4-2.2-.4 1.4 1.5-.2 1-2.4 0 .4 2-1 2-1.5-.3-.7 .8-.8 3.5 2.2 2 .3 1.5-.5 1 .5 1.5-2.3 1 .3 2.8-2 .6-1-1.1-3.1-.3 .2-1-2.2-6 .4-2-1-1.5-.8-3.1-2.6-1.9-2.9-.2-1.8-1.3 .3-.7 2.8 .2 .2 .8 .5-1.1 1.5 0 .8-.7 .2-1.3-1.5 .2-1.1-.9-1.4 0-1-2.2-1.3 1.2 1.2 1.5-1.4 1-1.7-.5 .1-2.5-.9-.8-1.5 1.2-1.5-.8-4 1.7-1.5-.2-1 .4-2.5 3.2 0 .6 1.3 .7-3.3 2.2-2-.1-3.5 1-1 3-2-1-5 .9-.5 .5 .2 1-.9 .5 .7 1-.5 .8-4 1.5-1-.3-3 .7-4 3.6-1-.4-2 1.4-2 .2-5.5 3.4-.7 2.1-3.3 .2-1.5 1.7-2.1 .6-1.4 2.3-5 1.9-1.6 1.3 .4 1-.8-.1-1 1.6-1.9 .5 .7 1-1.3 .6-1-.7-3 1.1-4 4 0 1.8-2 1.7 0 .6-4.5-.4-1.5 1-2 .2-4.1 3.1-.2 1-4.2 2.1-.8 1.4-3.9 1-2.4 2-.4 1.7-1-.8-3 1.1-1.8 1.5 .3 1-1.5-.9-2 .2-1.5 1.1-.2-1.9 5-4.5 .7-3 1.5 .2 .5-1.4 1.5 .4 3-1.7 2.4-3-.1-2 .7-.4 1 .8 1-.2 3.8-2.2 .2-1 4.5-2.7 2.8-3.3 3.2-1.5 .5-2.2 1.5 .7 2.5-2.5 2.1-1 2.9-3.8 5-1.8 2.7-3.9 1.3-.6 1.5 .3 3.5-2.2 1.9-2-1-1.5 1.1-.7 .5 .8 .8-.1 2.2-1.6 1-1.6 4.1-1.8 .7-2 1.2 .1 .7-1.6 2-1-1.2-1.7 2.5 .6 .3-.4-.8-1.9-.5 .5-1.6-1.1 4-2-.5-1 1-1.5 .1-3.6 .5-.3 1.5 1.4 1.4 0-.9 0-1-2.4-3-.5-1.5 1.1-2-1.2 .9-2-1.4-.4-1.4 1.9 1.6 1 1 4.5-.7 .5-.7-2-1.3-.5-2.5 1.2-2.2-.7-.7 1.5-.6 0-1.5-2.2-1.1 .2 .1-1 1.1-.5-1.6-1.3-2.8 2.3-1.9-1 2.2 .4 .5-1.6 2.5-2.8 .6-2-.3-1.5-2.3-1.1 .5-2.2-3 .7-1.6-2.9-1.6 0-.4 .5 .6 1-.2 1-.8 .8-2 .2-1 2.1-1.5 .4-2-2.3-1 .2 .7 1.6-.6 1 1.6 1-1.7 .7-.7-1.7-1.8-.1-1.5-1.2-1 .1-.9-1.3 .9-.9 4.2-.6-.2-1.5-1.5-.2-1.5-1.1-.9 .3 1.2 1.5-.3 .8-1.8-.8-1.2-1.8-2 1-1 1.6-.9-.3 .2-1.5-.8-.8-1.5 1.5-2 .4-.5-.8 .9-.8-1.4-.5 .4-2.5-1.9-1.6-2 .9-3 .3-4.5-1.4-1 .6-1.5-.8-2 .5-2-1.3-3.5 .8-2-1.4-3.5-.8-3 .7-1 1.2-1-1.5-2-.9 .5-1 1.3-.3-1.8-2.5-1-.6-1 .7-1.2-1.1 1.7-.4 1.1-1.6 3.4-1 1-1.1 .8 .6 1.2-1.5 2 1.3 1.5-.7 3.5 4 5-2.6 .5 .5-1.1 .5 .3 .5 3.8 .7 2-1.7 2 .7 2-1.5 1.5 .7 1-.2 .8-1.2-1.8-.4 0-1.6 2 1.4 3.5-.1 0 1.7 3 1.5 2.1-1 .4-1.8 1.5-1.3 3 1.2 3-1.5 1 1.4 1.5 .1 1.5 1.1 2.5-.7 3.5 .2 4.5-3.6 1.5 .5 1-1.3 3 .7 0-1-1-.9-1.5-.1 .5-.7 1 .5 1.5-2.4 3.5 4.7 2-.8 2.7 .2 1.3-2.3 .5 1.7 .5-.1 1.2-2.8 1.3-.6 0 1.3 .5 .3 1-.9 .6 .4-.1 1.2 3 .6 1.5 1.3 2.5-1.2 2.5-2.6 2.4-.3-.9-.9-1 0 0-.6 1.5-.1 .5 1.6 1.5 1.6 1-1.1 1.7-.5 0-2 .8-.7 1.5 .6 2-.3 1 .8 1-1.4-.5-1.2-2 .6-1.5-2.8-3-1.2-1.5-1.9-2 .9-2-2.6-1.5 1.4-.4 1.3 1.9-.4 0 1.3-.6 1.1-1.7 1-.2 2.4-1-.4-1.1-4.5 .6-.9 1 .8 .4-.4-.8-1.5 2.4-2 .2-3 3.3-.5 0 1.5 1.6 2.5-.9 1 2.3-.6 1.5 .9 1.8-2.3-1.3-3.2 1-.5 1.5 1.2 2 .6 1-.4 0-1.8 2.2-1.4 .1-2 .6-.5-.8-1.5 .4-.4 1.5 1.1 1.5-.4 1.5 1.7 1.5-1.2 1 .1 3.3 2.6-.3 2.5 3 .2 .1-2.7 3.4-2.3 .5-1.2-.7-2-2.6-2 1.4-2-1.3-2 .1-2.5 .9-1.5-1.8-1.2-1.2 1.2 1.3 4-.8 1-1 3.5-1.2 1.5 .4 1-.5 .7 0-1.2-2.5-1.8-2 .6-1.8-.8-1.5-2.5 1.5-2.5 1.7-1-.1-1-.8-.5-3.5 1.9-.2-.9 1.2-1.7 1.8-1.3-.3-1-1.5 .7-1-.5-4.5 1-2.5 1.9-1.3-1.1 .7-2.5 4.1-.5 .5-1-3 .2-1.2-.7-.3-2.2-3 .6-1.9-.9 .4-1-.5-.4-2.5 .3-.5-.4 .8-1-.5-1 1.2-.6 3 .1 1-1.2 1 .6 2.5-.8 .9-1.6-1.7-1 2.3-1.8 .7 1.3-1.1 1.5 1 2-.8 1 .2 .6 1.7-1.1 1.3-3.2 3.1 4.2 5.4 1.9 1.9-2.4-.7-1.5 .3-.8 1 .3 0 1.7 1.4-.7-.2-2.5-.7-1 3.5-1.7 2 1.5 .7-.8-.8-2 1.6-1.5-1-3-2.4-1-.6-1.3-1.5 .4-2-1.4-2 .4-1-.9-2.1 .3 1.6-2.3 2 .8 .3-.5-.8-2.1 3.5-1.4 .4-1.5-1.4 .2-.4-.2 .4-.5 2-.6 1.5 .9 .5-.6 .5 .8-1.5 .7 0 .6 2 .8 1.6-.6 0-1.5-.8-1.5 .8-1.5-1.3-1.5 .4-3 .8 .1 2.2-1.6-1-1 .5-3.5 2.5-1 3.5-6.5-1-1.5 .3-3-1-.5 .5-.9 1 .9 .9-.5-1.4-1.5-.3-1.5 .6-1.5-2.1-1.5 1.6-1-.3-5.5 .7-1.5-1.5-.5 .3-1.1 2.2-.9-.7-1.5 .3-2.5 1.3-1.5 1.4-3.5 2.5 3 3 .8 1.5 3 2.6-.8-1.2 2 .4 1-.9 1 .9 3.5-.6 1 .7 1-1.9 1.4 .4 2.1-1 2.5 .3 3.5 .8 1.5-.9 3 1.9 .8 .8 1.7-.4 1.5 2.8 3-.8 2.5 1.9 5 1.8 0 .9 1.2 2-.8-.4 1.1 1.6 3.5 1.3 .7 2-.6 .7 1.4 1 .5-.2 1.6-1 .2-2-.9-1.6 1.1 3.6 .9 1 1.1-.5 1.2-1.5-.5-3.7 1.3 .4 3 2.7 .5 2.1 5-1 .5-.2 1.5 5.2 .5 4-1.2 .6-1.8-1.5-1.5 1.9-.2 1.5 1 .5 1.2-1 1.3-1-.4-.2 .6 3.7 1.2 2.1 2.3-.6 3.1 1.5 1.8 1-.5 .7 .6-1.7 0-1 1.5 .8 2-.8 1.1-2 .2-.1 2.2-.9 1.7-3-.4-1.3 1.2-.2 2.3-1-.3-1.8-3 .8-.4 1 .5 0-1.2-4.5 .2-.7 1.9-1.2 .5-.1 .9-1.6 .6-.6 2-.8 .6-1.5-.3-.5 1.4-1.5 .4-1 1.8-2.5 .6 .2 2-1.3 4 1 3.5 2.6 1.3 1.5 1.8 2.3-.1-.3-1 2-1.5 1.9 1.5-.7 1-.1 2 1.4 .9 1-.7 1 .7 .6-.9-.2-2 1.2 0 .3 1-.6 .5 .7 .4 3.7-2.9 .6-2 1.2 0 1.3 1 .7-1.8 2-.3 1-1 2.5 .7 1.5-2.1 2.5-.5-.5-1 .5-1 2.5 1.3 .8-.8-.9-1 .4-.5 1.7 .9 3-2.1 2 .3 2.5-3 3-1.6 2-2.2 1.5-.3 .5-1.4 1.5 .3 .5-1 4-.9 2.5-4 1 1.4 3.1-1.4 14.9-9.1 1.3-1.4 4.7-2.4 2.7-2.6 .1-1.5 2.2 .4 2-1.8 1.8-.6 .7-1.1 1 .4 3.6-1.3 2.9-2.8 2-.7 .5-1.5 3.5-.8zM377.4 201.2l-1.1 .3-.1 2-1 1.5 .7 1.5 2.5-2.5-.3-2zM379.4 210.2l-.6 1.3 .6 .5 .8-1zM380.1 213.5l.7 3 1.6-.3 0-1.7 .6-.5-1.6-.7zM391.4 212.8l-.3 1.2 1.3 .8 .8-.8zM394.9 209l0 .6 1.1-.1-.1-.7zM380.9 237.2l-1.7 .8 1.7 .7 .4-.7zM405.9 245.5l-.3 1 1.3 4.8 1.5 .2 1.2-1 .1-2 1.2-1.5-1.5-1.4zM411.4 252.5l-.7 1 .7 .7 .7-.7zM413.9 240.2l-.2 .8 .7 .2 .5-.7zM436.4 251.8l0 1.1 1.5-.2 1.3 1.8 1.7 0-1.8-1.5-.2-1-1 .3zM441.9 255.5l-.4 2.5 .9 .5 2.2-.5 .1-1zM447.8 275l.6 .6 .6-.6-.6-.5zM454.5 273.5l2.2-.5-1.8-1.1zM462.9 271.8l-.5-.3-.6 1-1.4 .5-1.4 2 1.9 .8 1.3-.3-1.1-1 1.3-1zM468.3 259.5l.1 .6 1-.1-.5-.7zM354.9 297.9l0 .9 2 .4-1-1.6zM231.6 260.5l.8 .6 1.7-.6-1.7-.7zM261 272l1.4 1.2 .9-.2-.4-1.4zM290.7 285.5l1.7 1.7 1.5 .4-1.5-2.2zM294.4 279.5l.5 1.3 1.5-.1 2 1.1 .8-.3-.8-1.7-1.7 .2-1.3-.9zM299.4 277.2l-.9 .8 .9 1.2 .8-1.2zM302.4 281.7l-1.1 1.8 .6 1.4 1.1-.9zM306.4 286.3l0 1.1 .5 0 0-.9zM310.1 289l.8 .3 .6-.8-1.1-.1zM319.4 236.9l-2.2 1.1 1.2 1.6 1.2-.6zM338.4 243l-1-.2-1 1.2-1.5-1.4-1.5 2.1-1.5-.3-1.2 .6 1.8 2.5-1.7 1-.1 1 2.7 2.1 1-1.7 3.1-.4-1.6-3 .5-1 2.2-1.5zM344.9 236.3l-1.5 1.3 .5 .4zM327.4 208l-.5 1.8 2 0 2 2.4 .5-.2-.6-2-1.4-.5 0-.8zM333.4 213.5l.5 1 1.9-1-1.4-.8zM334.5 210l1.4 .5 1.7-1-1.7-.2zM348.9 201.5l-.5 1.5 1.7 .5 .1-1zM348.4 188.2l-.7 2.3 1.7 1.9 0-2.9zM375.6 217l.8 .8 2.2 .2-1.7-1.4zM378.4 213.2l-.6 .8 1.1 .7 .3-1.2zM381.4 239.8l-.5-.1-.1 1.3-1.5 1.5 .6 1.1 1.5-.2 1-.9zM411.9 277.6l-.3 1.4 1.3 .5 .2-1zM440.4 273.5l.5 .7 .8-.2-.3-.6zM296.4 288.4l-1.3 .6 .3 .9 1.1-.4zM350.4 208.6l-1.5-.5-1.5 2.2-2-.3-.8 .5 1.4 1.5-.1 1 1 1.3 1.9-.8 .2-2 2.4-1.4zM348.7 217l.2 1.2 1.1-.2-.1-1zM226.9 132l-.5 2.4-1.5-.4 .5-1.6zM220.4 133.3l.3 1.2-.8 .3-.4-.8zM206.4 133.7l.7 .8-1.7 1.5-.2-1zM207.4 134.5l2 0 0 1.3-1.5-.5zM191.9 134.8l1 1.2-1.5 1.7-.5-.2 0-1.5zM194.3 137.5l1.1-1.1 2.3 .6-1.8 1.7zM201.1 137.5l1.6 .5-.8 .6zM369.9 142.5l.2 1-.7 .4-.5-.4zM368.9 153.1l.1 .9-1.2 .5zM387.9 187.3l-.2 1.2-1.2 0-.1-.5zM335.6 191.5l.1 1-.8 .7-3.5 .1-.4 1.2 .4 1-.5 .2-.5-2.2 2-.7 .3-1.8 1.7-.1zM334.9 197.3l3.8 2.7-1.8 .5-.5 .9-1.6-.9 .7-1zM386.4 197.2l.8 .3-.3 .8-.5 .1zM400.9 202.3l.9 1.7-1.4 .7zM346.9 212l.5-.9 1.3 .4-.8 .9zM330.4 219.2l.5-.1 .9 1.4-.4 1.2-.7-.2zM328.9 221.5l1.2 1.5-.2 1-1 .7-1.3-1.2zM321.4 224.1l.5 0 0 1.7-1.1-.8zM382.9 224.5l1.2 1.5-1.7 1-.4-1.5zM323.2 228l1.2-.9 1.4 1.4-.4 .5-.5-.9-1.5 1zM327.9 227.3l.7 .7 .2 1.5-.9 .5-.5-.5zM320.5 228.5l.9-.6 .3 1.1-1.1 0zM382.4 228.7l.9 1.3-1.9 1.7-.2-.7zM401.4 231l-1 .5-.3-.5 .8-.5zM428.5 231l1.4-.3 .7 1.8-2.2-1zM330.4 230.7l.3 .8-1.8 1.4-.2-.9zM321.9 235.2l.9 .3 .6 1.9-1.8-.9zM428.9 236.2l.9 1.3-1.4 .9-.4-1.4zM427.9 240l2.5 .2 .3 1.3-.7 1.5 .4 1.6-2.5-.2-1.1-.9 1.1-1zM426.1 241.5l.3 .5-2 1.5 .4-1.5zM306.9 242.5l2.5-.2 .9 .7-.7 2.5 1.4 1.5-2.1 1.9-1.2-.9-.2-1.5-2.6-1.5 .3-1zM302.5 245.5l1.4-.8 .4 1.3-1.4 .1zM440.6 246l.8-.6 2 .1-1 1zM302.9 247.3l-.5 2.2-1.2-1zM313.9 249l.6 1-1.1 .6-.2-.6zM461 253.5l-2.1 1.2-2.5 .1-1.1-1.3 1.6-1.3-2-1.1-2.5 .4 .5-1.1 1 .3 5.5-1.4 .7 .7zM310.9 250.5l2.3 .5-.3 2.3-.6 .2-.4-1-1.1-.5zM280.9 251.3l.8 .7-.3 1-1-.4zM262.4 252.9l1.3 .6-.8 1.4-1.1-1.4zM249.7 256.5l-.3 .9-1.5 0-1 1.9-2.5-.3 .5-1.1 1-.3-.2-1.6 1.2-1 1 1.9 1-.6zM474.9 256.5l.5-.3 .6 .8-.6 .4zM476.9 257.2l.7 .3-.2 .9-.7-.4zM243.4 272.6l1.9 .4-.4 1.2-1.1-.2zM487.9 273.1l0 1.7-1.1-.8zM254.9 275l.5-.9 .9 .4-.9 1zM471.4 274.1l2 .5 .4 2.4-.4 .5-1-1.5-1.5-.5zM266.4 279.4l.5 1.1-1 1-.3-1.5zM428.8 280.5l-1.4 .6-.9-.6 1.4-1.3zM424.9 280.7l.2 .8-.7 .3-.1-.8zM269.4 281.1l.6 1.4-1.1 1.4-1-1.4zM407.2 282l1.2 1.6 1 .1 .2 1.3-2.1 0-.9-2zM281.9 287.5l.5-.5 1.3 1-1.3 .4zM385.4 287.2l.5 1.6-2 1-.7-.8 1.7-2zM392.4 289l1.5-.4 .4 .9-.9 .2zM388.9 290.3l.8 .7-.3 .8-.8-.8zM375.4 295.5l.5 1.5 1.5 1.5-.5 1.1-1.8 .4-1.1 2.5-1.1 .9-.9-.9 2.1-1.5-.4-2 1.8-1-1-2zM370.9 298.7l1.2 1.8-.2 .9-2-1.4zM257.4 344.6l.6 .4-.1 1-.9-.5zM227.9 359.8l1.5-.5 1 1.4 0 1.5-2.5 0zM228.5 363.5l.4-.7 1.2 .2-.7 1z"/>
<path fill="#0055ff" d="M371.5 8.5l-5.1 3.7-3.7 1.8-2.3 2.5-7 2.9-1 1.1 0 .9-1-.5-7 4.1-10.5 7.5-1.5 2.1-2.5-.1-3.4 2-5.1 5.3-2 .3-2 2.2-1.5-.2-6.5 3.7-5 4.1-11.5 6.6-8.5 6-5 4.8-6 1.9-4 3.8-2.5 1.5-1.5 2.4-2 0-5 3.8-3.4 1.3-3.6 2.9-1.5 3.6 .6 2.5-2.6-.5-1 2-1 .5-1.5 4.5-1 .7-1.8-.2-1 3.5 3.3 3.3 3.5 .2 2-1.6 1 1.9 2-1 3.5-.2 1.5 2.4 2-.2 1.5 .9 3.5-1.9 1 2.1 1.5 .7 .9-.6-1.4-.4-.7-1.6 2.7-2.4 .3 .9 2.7 2-.3 2-1.7 1.7-2.4 1.3-1.1 1.5-2 .6-.5 1.5-1.5 .9-.1-1.5-.9-1-2 .1-1.5-1.3-1 0-1.8 4.2 1.3 .2 1-.7 .5 .7-3.5 2.1-.5 1.5-1.5-1.5-1 .4-2-.6-2.1 .9-1.1-1 .1-1.5-.9-1-3-.2-2.5-1-2.3 1.7-.2 2.7-4 .4-1-1.6-1 0-.4 1 2.1 1-.6 2-1.6 .6-2-2.5-4.5-1.2-3 2-2.3 3.1 .3 .5 1-.2 3-3.1 1.5 0 4 2.8-1 1.2-1.3 .3 1.3 1.1 0 1.3-1.6-1.4-.9-2.2-3 .4-1.5 2.9-1.1-1.1-.4-2-1.5 1 0-1-1.5-.6-.6 1.1 .6 1.5-.5 .4-1-1.3-2 0-1.5-1-4.5 .5-.5 2.5-2.5 .4-1 2-2 .9-2-1.6-3-1.2-5 .4-2 1.4-2-.5-3 .8-4.5 3.5-7.5 2.4-3.3 2.9-7.2 2.7-2.5 1.9-6 2.7-4.2 3.2-2.8 3.1-1.5-.1-1.1 1.5-1.9 .1-5.5 3.1-7 5.2-1.5 0-1 1.1-3.7 1.5-2.4 2.5-1.6 .5-1.6 2.5-1.2-.7-7 3.5-3.5 3.8-2.8 .9-.2 1.1-6 2.7-3 3-2.5 .5-3.5 1.9-3.5 2.9-3 1.4-3 2.9-1.5 .3-4.5 2.8-1 2-3 .6 0-3.9 6.7-4.2-.2-1.6 1.5 .3 2.5-2.1 4-1.5 7.5-5.3 2.5-2.8 1.5 .2 3.5-2.7-.3-1 1.8 .2 8.3-5.2 1.2-1.3 3.5-2 1-1.7 3-1 .3-1.5 3.7-.9 8.5-6.4 1-1.6 8.6-4.1 3.4-3.6 1.8-.9 .2-1.2 1 .5 10-7.3 3.7-4-.6-1.5 .4-1-1.1-1 2.1 .1 .2-.6-4.6-2.5 .6-4.5 .7 0 .3 1 1.3 .9 2 .1 1 1.7 1-.2 1-2.6 4.2-1.4 .8-2.9 2 4.3 3-1.2 .6-4.7-1.1-2-1.6 .5-.9 1.9-1 .4-.3-2.3-1.7-1.1-1.5-.1-1.5 1.1-4-1.8-4.8 2.9-.1 2-.6 .8-1.5-.2-.7-.6 .5-1.5-.3-.7-2.5 .5-1.2-1.3-.1-1 1.3-1.6-6.5-.6-1.5 .6-2.5-2.3-6.5-.4-2-2.1-1.5 1.3-.9-3.4 2.4 1.9 .4-1.9-.6-2 .7-.6 3.5 1.3 2-.7 2 1 2.5-.3 3 .7 1.2-2.9-.9-2.5-1.8-1.5 1-.4 1.2 .4 .6 1.5 3.5 2.5-1.5 3 .4 1 1.3 .7 1.9-1.7 1.1-2.4 1 .1 1 1 2.5-1.1 1.6-1.6-1.1-2 2-.9 2-2.1 1 .8 1.8 .2 .7 1.5-1.5 .6-1.3 2.9 .2 1 1.6 .4 .5 1.1 2.5 .5 1-2.1 2.7-.9 .5-3 2.8-.2 .4-2.3 1.5-1 1.1-3.8 1.5 .3 1 1.5 1.5 .5 3-2.9 .9 .4-.1 2.5 1.2 1.8 1.4 .2 1.6-1.2 .2-4.3-.7-1.6-2.2-1.9-.4-1.5 1.6-2 1.1-3.5-.8-2-4.8-.2-.4-2.8 1.1-2-1.2-1.3-1.2 1.8 .4 1.5-2.2 2 .8 2 1.7 .1 0 .9-2 1-2 0 .4-4.5-.9-1.7-1.4-.8 1.1-1.5-1-2-.2-2.5 2.6-1.5 .6-2.5 2.2-2.5-.5-2 2.5-2.5-.4-2 .9-1 1.2 0 .1 2 1.3 .6 1.2-.6 .1-3.5 .7-.5 2.4 2.5 .1 1.6 1-.1 1-2.3 2 .1 2.7-.8 1.5-4-2.7-.3-.8-1.2 1.3-1 .2-1.5 1.3-1.6 1.5 .7 1.5-.4 1 1.2 1 .2 1-1.5 3-1.9 1.9-2.7 1.6 0 .1-1.5 1.7-1.5 .2-1.2 1.3 .2 .2 .7-1.4 2.8-1.9 1.5-.3 2 1.1 3.5-.3 1.5 .8 .5 6-2.4 1.5-1.9 2 .8 3.5-.5 2-2.7 2 .2 .5-1-3.5-4.5 .5-.8 2.5 1.8 1.3-1-.9 3 .6 .5 1.5 .2 1.5-.8 .4 1.6 3.6 .6 1.7-1.1-.5-1.5 1.2-.5-.1-1 1.2-1.3 .7 .3 .3 2 1 .8 2 .5 2-.4 3.5 1.6 3-1.1 2.1-1.9 .4-1.5 1 .2 2.5-.7-.9 1.5 .4 .8 2 0 4.5 1.5 1-.5 .5-1.5 2-1.2 1 1.2 6.5 2.1 2-3 1.4 2.6 1.3 .5 .8 2.1 4 .7 1.9-1.3 .6 .3-.2 1.7 1.4 1.5-1 2-.4 5 .7 .1 2.5-2.2 3.8-1.4 1.2-2.2 4.5-.2 2-.8 1.5-1.6 4-.9 6.2-4.8 1.8-.5 9.9-6 .4-1 2.7-1.8 1.9-.2 1.1-2.3 1.5 .6 2.5-1.8-.5-.5 .5-1.7 6-.8 11.5-7 3-3.1 1 .1 .6-1 1.4 .2 3-1.6 1.6-2.6zM165.6 126l-1.2-.3-1.7 1.8 .2 1.3 1 0zM191.5 87l1.9 2.5 2 1.4 1-2.2 1.6-.2 .5-2-.6-.5-2.5 .3-.3 .7 .8 1.6-1-.2-.6-1.4-1.4-1.1zM197.9 79.9l-.5 1.1 1 .6 .1-1.1zM204.9 48l-1 0-1 1.3-3-1.2-1.5 3.3 2 1.2 2 0 1.1-1.1zM209.9 86.9l-6.3 2.1 .8 3.6 3 1.4 3.1-2.5-.7-1.5 .6-2zM217.4 81.6l-1.2 .4-1.4 3.5 1.1 2.8 1.5-.2 1.1-2.6 2.1-1-.7-1.6zM234.9 117.4l-.2 1.1 .7 .6 1-1.1zM236.4 35.9l.7 .6-.7 2.6-1-1.6zM221.9 37.3l1.1 1.2 0 1.5-3.1 .7-.4-.7 .4-1.5 1 0 .1-1zM243.1 37.5l1.5 .5-.2 .5-.9 0zM212.5 41l1.4-1.4 1.5 .8 2-.5 2.5 3.1-1 .2-2.5-1.7-2.5 1.2 .1-1.2zM183.4 52.8l.2 1.2-.7 .3-.6-.8zM176.7 55.5l3.2-1.5 1 .3 .5 .7-.1 3-2.4 .4-1-1.9-1.4-.5zM175.4 59.5l3.1 0-1.6 .9zM165.6 66.5l.3-.5 2 .2 1.3 .8-.1 .5-2.2 .9zM169.2 69l.7-.3 .7 .8-1.2 0zM172.1 70.5l.8-.9 1 .9-1 .6zM176.4 89.5l.5 .5-.5 .9-.7-.9zM206.9 90l1.1 0 .7 1-1.5 0zM165.9 92.6l.1 .9-1.1 .3-1 1.2-1 .3-.8-.8 .3-1zM153.9 93l.5 1-.5 .6-.5-.6zM157.3 95l2.6 .1 .6 .9-2.1 .3zM146.4 96l3 2 1-.8 1.4 1.8-.3 1-.6 .4-.5-.4 .3-1-.8-.7-1.5 .9-2.2-2.2zM246.9 98.5l1 .2 0 1.9 1.3 .9-.3 2.3-1-.7-.5 .4-2.2-1.5zM247.9 101.4l-.7 .6 .7 .9zM118.9 106l.7 1-.7 .8-.9-.8zM123.5 108l.4-.7 2.8 .7-.8 1.3-2-.5zM116.2 108.5l.7-.9 2.6 .9-2.6 .9zM278.6 112l.3-1.5 2.5-2.6 2.6 .6 .3 1-1.4 1 .5 1.3 2.5-.9 .3 .6-1.8 1.7-1.8-.2-1.7-1.4-1.5 1.1zM118.9 109.1l3.5 .4 1.3 1.5-2.4 2-.4 1.6-1.1-1.1-.4-1.8-.5 1.2-.6-.4zM124.9 111.6l1.5 .4-.6 1.5-1.1-.5-.3-1zM280.1 114.5l.8-.5 1.4 1-1.4 .3zM123.9 115.2l1.5 3.3-1 1.7-.8-.2 .6-1.5-.3-1.1-1.6-.9zM273.5 120l1.9-.5-.5 .8zM133.4 119.9l.1 1.1-1.1 .7-.7-.7zM239.7 122l1.2-.6 1.4 1.1-1.4 .8zM143.4 122.9l1.5 1.1-.4 1.5-1.1 .5-.5-.9 1.5-.6zM141.4 123.5l.6 1.5-1.1 .9-.7-1.4zM237.3 124l.6-.1 .5 1.1-.8 0zM151.5 126l1.3 0 0 .5-.9 .2zM238.4 127l.4 2.5-.9 .6-1.2-1.6zM216.4 128.9l1 .6 0 1.7-.9-.7zM235.4 128.9l0 1.3-.8-.7zM215.6 130.5l.3 1.8-2.2 .2 .7-1.8zM221.9 131l.5-.9 .9 .4-.9 .9zM216 132.5l1.4-.4 .3 .4-.8 1.1zM225.9 132.4l.7 1.1-.7 .8-.7-.3zM480.4 186.5l.3 .5-.8 2-3.5 1.8-1.5 2.2-1.5 .8-1.5 2.2-2 1-5.7 6-1.8-.1-2 .8-1.9 1.8-.1 1.2-1.5 .1-1 1.5-1-.3-1.1 .5-.9 2.1-3 .7-2 2.3-2.3 .4-9.7 7.7-.5 1.7-2.7 .6-.4 1 .8 1-.7 1.2-1.4-.2 .1-1.5-1.2 .3-2.4 2.2 1.4 1-1.5 .9-1.5-.2-3 2.5-2 .7-3.5 3.8-2 1-.5 1.5-1.7 .3-.3 1 .5 1.4 1 .1 1.5-1.5 .2 1-1 1 .1 1 2.4 2-2.7 1.5 1 .1 .5 1.9-2.1 1.5 .6 1.2 2.5-.5 2-1.6 .8 1.4 1.1 0 1.6-1.5 2-.5 2 2 1.5-1.1 .5 .5-1.4 1.1 .4 1.4 2.5-1.4 1.5 1 1.5-1.5 2.5 3.2 1 .3 1-1 0 3.9 1.1-.4 .4-1.4 1 .3 .1 2.6 2.4 1.1 5-.8 5.5 1 3.5-1.1 2-1.9 .6 .2 0 1-1.5 0 .4 1 1.5-.3 4.5 2.4 2.5-.3 1.6 .7 2.9-.9 1.5-1.3 1.5 1.2-1 1 .3 .5 1.2 0 1-1 .8 1.5 1.7 1.1 1.5-.4 2 .5 2.5-1.8 3.5 .2 0 5.9-1.5 1.1-1.5-.6-1 1.3-1 .2-.3 1.5-.8 .5 .2 2 1.9-.9 .3 .9-.8 1.1-2.8-1.6-1.2-2-1 .6-1.4-.1-.1-1.5-1.5-.6-2.5 1.6-2.5 .4-2-1.7 .1 2.3-3.6 1.9-1.1-3.9-.9-.5-6 5-1.2-.5 1.6-1 .1-1-1.1-1-1.9-.5-7.5 3.2-2-1.2-1.5 0-1.5-1.2-6 2.4-3.5-1.3-2.5 1.2-2.5-.8-5.7 .7-.3 1.1-2.5-.4-4.5 1.6-2.1-.3-1.9 3-.6-.5 .6-1-.5-1.5-2.4 0-2.1 1.3-1.5-1.2-1.5 1.9-2 .7-1.5-.4-.2 .7 1.6 2 1.6 .5 .5 1.3 .6 .2 .9-1.2 .8 .2 .5 1-1 1.5 .5 1.5-.8 .5-1.5-1.7-1.5-.3 .9-1.5-.4-.5-2 .2-1.5-1.5-2-.1-3-2-2 .4-2 1.2-1-1.5-2-.3-3.5 2.3-1 1.7-2 .5-1.8-.9-.2-1.3-.5 .1-1.5 1.9-2 .7-.2 .6 1.2 1.8 1-1.1 1.5 .2 1-.6-1.1 1.7 1.6 4-2 1.3-1.5-1.5-.5 1.2-3.5-.4-2.4 2.4-.5 5-1.9 3-1 4 .8 1.8 1.7 .7 .2 3.5-2 1-.3 1 .7 1.5-1.3 .6-.5-1.4-2.7 .3-2-3-.8-3.5 .3-2.5-1.6-4.5-1-9-2.7-.7-2 .6-1-3.1-1.5 .7-.5 1.8-3-.6-3.5 1.3-2.5 0-3.7 2.5-3.3 4.4-.5 1.8-1.5-.2-.5-1.5-5.5 4.4-5.8 1.1-2.6 3.5-5.6 1.4-2 1.4-1.5 2.3-2 .2-1.5 1.4-4.5 1.1-1.5 1.8-2 .8-2 1.8-3.1 .8-.9 1.2-2 1-1.9 2.3-4.8 2-3.3 3.3-2 .5-2 1.9-2 .3-2.5 2.3-2.1 3.2-.3 1.5-1.6 1.2-2-1.2-5 1.7-5.5 4.7-4.5 2.7-4 1.4-1 1.5-5 1.9-2 1.7-2.3-.1 1.3-2.4 2.5-1.6 .5-2 3.2-1 3.3-2.6 1.9-2.4-.4-2.2 3 .3 3.8-2.1 4.7-3.9 3.6-4.1 2.4-.6 5-3.8 4-4.7 2.5-.3 2.4-1.1 1.6-2.3 7.6-4.7 2.9-3.3 4-2.7-.1-1 4.6-1.8 2.3-2.7-.2-1 3.9-2-.5-3.3 3.2-1.2 1.5-2.5 0-1.5 2.3 .1 1.7-2.1 1.5-3 .2-2 1.2 0 .9 3.3 1-.1 1.3-3.7-.6-3.5 1.1-2-1.3-.9-2 .7-1-1.3-1 0-.4 2-1.3 1.5 .1 2.5-.9 3-3 1.2-2-1.8-1.5 1.3-.8-.7-.9-3.5 1.8-2-2.8-1-2.3-3-4.5 .7-3 2.3 1.4 1.5-1.9 1.5-5-8.5-3-.6-3.5 2.2-2.5-.7-1 .5-2-1.8-.3 .4 .8 2.2 2-.1 .7 .9-.2 .5-2 .3-.5-1-1.9 1.7-.4-3 1.1-2-1.3-1-1.6 1.5 .7 .5 0 1-2.6-1.4-1.1 1.4 .6 1-.5 .2-2-3.2 1.5 .1 1.4-1.1-1.3-1-3.1 1.8-.7-.8 1-1-.2-.5-3.6-.2-1.5-1.4-1.1 .1-.9 .9-2.5-.3-1.5 1.4-2 .1-2.9-1.6-1.1-1.4-4-.2-1.5 1.5-1.5-.8-4 .1-6-2.2-3 .3-.5-.3 .2-2-1.7-.4-2.1-2.1 1.1-1.1 2.5 .6 .3-1.5 .7-.4 1.5 1.1 .4-.2-.2-1.5 .8-1 .8 1-.8 1.5 1 1.4 5 1.2 5-1.2 4.5 .8 1.5-2 2.5 .6 1.8-.8 3.7-.4 1-2 1 .4 .1 1.5 .9 1.2 3 .5 2.5-.8 2.5-3 3 .9 4-.1 2.5 1.3 2-.8 3 .3 1.8-.5 3.3-2 .4-1 .8 .5-.1 1.5 1.9-1 .4-1.6 4 1.8 3 .4 2.5-.4 1-1.3 2-.4 2-1.7 3 .8 2-.8 1.2 1.7 2.8-.1 4.5-3.6 1.5 1.1 5 1.3 .3-.7-2.3-.9 .5-.7 2 0 1.5-.7 2 .6 2.5-1.4 2 1.8 1.8-.2 .7-1.7 3.5-.9 .5-.5-2.2-2.4 1.7-1.6 2.5 .5 1-.4 .7 1 1.3-.1 .8-1.4-1.8-2.5-1.5 2.2-3.5-3.4-2 .7-2.2-1.5 .6-1.5-.5-4 .5-1 1.1-.5 2.2 1.5-.7-2.5 2.5-1.2 .6 1.7-1 1.5 1.9 .7 .5 1.3-1 1.8-1.5-.2-.8 .9 1.3 1.8 1.5-.2 1-1.2 2-.1 1.5-1.9 2 0 .4-1.4-.9-1.6 4.4-5.9-.5-3.5-1.2-2-.3-3 1.6-2-.4-2.5 1.5-2.5-.3-4-2.8-3-2.5 3.1-1.5-.4-2.5 1.1-.9-.8 1-2 2.9-.5-.5-2 .5-1.3 .5-.2 2.5 1.8 2-.1 .8-1.2 .7-3-2.1-1.5 1.3-2-1.3-2 .3-3-.6-3 .3-1.5 1.2-1.5-.7-3-1.1-1 1.9-3-1.3-2 .6-1.5 1.8-.5-1.4-2 .8-3 2.6-1 3.1-4.5 1.1-4-.5-.9-.5 1.4-.8-.5 .5-2 1.9-.5-1.6-4 .7-2.5-1.1-1.5-.2-5.5 1.5-4-.6-2 2.2-5.5 2 2.3 2.5 .4 1 2.5 2.5 1.4-.9 1.9 1 3.5-1 .5-1.1 2 .6 2.5-1.1 3 1.1 6.5-1.4 2.5 2.1 1.5 2.7 3.8 1.4 .7-1 2 1.7 9.5 2.4 1.4 1.3 3.1 1.2 .8 .2-.8-1.2-1 .8-1-.5-1 .4-1.5-1.8-.5-.3-1 .4-.9 1.8-.6 1.8 4.5 4.5 2-.6 .5-3-.4-1.9 .9 1.3 3-1.8 1.5 .4 2.4-2 .4-2.2 1.7-.1 1.5 1.2 3 2.6 .4 3.5-1 .5 2.9 3 .6 0 2.3 2 0 1.5 1.4 1.5-1.1-1.5-3 2.5-.9 5 1.4-.8 .5 .1 .5 1.2 .5-.5 .6-1-.2-.1 1.1 1.6 .4 2.4 3.1-.8 1.5 1 2-1.6 1-1.1-1 .8-1.5-.5-.5-1.2-.2-.7 2.2 1.2 .3-.3 3.7-.7 1-1.6-.5 1.3-1.5-.2-1.2-3 .5-.3 1.2 .9 1-.6 .7-1.5-2.1-2.4-.1 .4-2-.6 .5 0 1.5-2.9 1.1-2-2.1 .5-1.5-1.8-1.5 .8-2.2-.5-.5-1.5 .6-1.1-1.4 1.6-2.5 1.9 0-.9-1.5-1 1.5-1.1-1 .1-1.8-2-1-2.5 1.5 .1 2.3-.8 2 .3 3 1.4 4.2 1.1 .3 .5 2-2.1 .4-.1 5.6-1.4 1-1.2 2.5 0 2.5-1.4 4 1.1 1.5 0 2.5 1 1.2 1.5 .2 2.5 1.9 1.8 .2 .7 2.5-1 2 1 1.5 3-.8 1-2.4 2.5 0 3.5-1.7 .5-1.7 2-1.1 1-1.4 1 1.6 2.9-2-1.9 0 .3-1 2.2-.3 1-1 2 .7 1.5-1.7 2.5-.6 .1-2.1 2.4 1.2 1.5-1.4 3-.3 5.1-3.5 .3-1 5.1-3.8 1.9-.7-.1-.5 6.3-2.5 1.9-3.2 1 1 8.5-4.2 11.6-8.1 3.9-1.9 3.8-3.1-1-.5 .2-.9 1 1.1 1-.4 2-1.9 8-2.8 4.7-3.6 .3-1zM386.9 208.2l-.5 1.9 .9-1.1zM390.4 205.7l-2.3 .8 .7 1.5-.7 1 .7 1-.8 1.5 1.4 .8 2-2.3-.7-.5-.2-1.5 .5-2zM390.9 199.6l-.9 .9 .4 1.5 1-1.5zM376.4 243.9l-.5 .6 .5 .6 .7-.6zM400.6 249l1.3 2.1 1.6-.6 .1 1.5 1.8 2.1 2.2 .4 .8-1.7 .8-.3 1.7 4.1 3.1-3.1-3.6-4 2.1-2-1.9-3-4.7 .4-2.1 3.1zM294.5 276l-1.6-.2-1.1 1.2 .6 .7 1 0zM321.9 275.3l-.9 .2 .1 1.5-1.5 1 1.3 .6 1.5-.6zM341.9 246.5l-.7 1 .7 1.4 .6-1.9zM351.9 233.9l-.5-.3-1.5 2.4 1.5-.9zM222.4 134.7l-.5 2.5-1 0-.3-.7zM191.9 135.5l.5 .5-.5 .5-.5-.5zM188.1 136l1.1 .5-.3 1.2-.6-.2zM350.1 186l-.5 1-2.2 .8 0 1.9-3.5-.9-.5 1.2-2.5 .5 1.9-2.5 0-1.5 .6-.6 3.5-.5zM334.4 191.4l1 .4-.1 .7-1.1 0zM378.2 193l.7-.7 2 .7-2 .6zM392.7 196l.8 0-.1 1-.8 0zM328.9 200.8l.2 .7-.7 .7-.4-.2zM328.7 205l-2.3 4-1.5 0-1 1.3-.5-1.2-1.5-1-2 .3-.2-.4 .2-1.6 2 1.4 4.5-.8-2.5-1 2.5-.7 1 .4 1-1.1zM331.9 205l4.8 3-.3 .6-3 .4-.5 2.4-1.5-.8-.2-1.1 1-1.5-.9-2zM376.9 208.7l1.1 2.3-1.1 1.1zM327.4 211l2.1 .5-1.6 1.2-.9-.7zM339.9 210.7l1 .2 1.6 1.6 .4 1.5 1.8 0 .5 1-1.3 1.2-1-1.1-1.7 1.9 .7 1.3 1.5-.5 1.6 2.2-.5 1.5-4.6 1.3-1-.3-.5-1 2.1-3-2.5-2-.1-2-1-1 1-1.2 1 1.1 .5-.2zM332.9 211.6l.1 2.9-.6 .3-.9-1.8zM326.1 217l.8-2.3 1 .6 2-.6 .5 .3-3.5 2.4zM347.8 215.5l1.1-.6 .5 .6-1 .5zM381.6 217.5l-2.2 2.8-1.3-.8 1-1 .3-2zM389.4 216.3l.8 .7-.3 1.4-.8-.9zM341.9 224l1.2 1-.7 1-1.3-1zM348.9 224l.6 0 .8 2-1.9-.8zM331.4 235.5l1-1 .8 .5-.8 .9zM428.6 237l.8-.1 .1 .6-.6 .3zM327.4 238.1l5-.1 1.4 2.5-.8 1 .4 2-.8-.5 .1-1.5-4.8-.3-2-1.2zM316.2 240l-1.3 1.3 .4-1.3zM429.9 240.5l.3 1-.8 2.1-1.5 .2 .7-.8-.2-2.3zM322.9 240.8l.9 .7-.4 1-.8-.5zM418.4 240.5l.8 1-.8 .9-.5-.9zM324.9 242.7l2.5 .1 .4 .7-.9 .7-1.7-.7zM316.9 242.8l-.5 1.4-1.5 .5-.6 1.3 .4 1-.6 0-.6-2zM305.3 244.5l2.1-1.5 2.5 .2-.7 2.3 1.2 1-.5 .4-2-.6zM328.9 244.4l0 1.5-1 .6-.5-.5 .3-1zM445.2 248l-.3 1.4-4 .2-.5 3.2-1.5-1.6-1 .3-1.2-1 .7-.8 1 .6 1.5-2.1 .5 .5 2-1zM458.1 250l1.3-.4 .4 .4-.4 1.2-1 .3zM455.9 250.9l.5-.2 .6 .8-.6 .2zM291.9 252.3l.5-.1 .8 1.8-1.4-.5zM457.1 253l.8-.6 1.5 1.6-1 .5zM442.9 254l2.5 .5 .5 .8-2.5 .1zM246.4 256.5l1.2 1-.7 1-.9 0zM447.4 257l.6 .5-.6 .6-.5-.6zM486.4 270.3l-2.5 2.5-.3-.8 .8-1.4zM467.5 274l1.8 .5-.3 1-1.2-.5zM285.4 276l1-.3 .3 1.3-.8 .2zM429.4 276.4l1.8 .6-.3 1.8-1.7-1.3zM461.9 276.3l2.1 1.7-.6 1.3-1.4-.3zM413.9 276.8l.6 .7-.6 .4-.5-.4zM278.3 278l1.1-.6 2 .1 .2 .5zM433.7 278.5l.2-.6 2.5-.6 2.2 1.7-.7 .6-1.5-.7-2 .4zM268.5 279.5l4.9-.9 .2 2.4-2.2 .5-1-1.9-1 .8zM275.6 279l1.8 .6 1-.3 .1 1.2-1.6 .3zM265.9 280l.6 0-.1 1-.5 0zM394.8 282l-.4 1.2-1-.5-2.5 1.7-.8-.4 2.3-2.7 1 1zM299.9 289.9l-2.4-.4-1.1-2.3-1.5 1.1-2-3.7-2 .1-.1-1.2 1.1-.4 1 1.1 3.5 .2 1.5-1.5 1.5-.3 .4 .9-1.9 3 .5 1.1 1 .4zM391.4 284.7l2 .7 0 1.6zM301.4 286l1.7 1-.9 .5-1-1zM381.6 286l.4 .5-.6 1.3-1.3-.3 .1-1zM289.9 287l.5-.5 1.2 .5-.7 .6zM390.9 287l1 .3-.2 1.2-1.1-.5zM403.4 286.8l-.1 1.2-.9 .5-.4-1zM292.9 287.9l1.5 .9 0 .7-2 1.6-.8-1.6zM379.9 289.9l.5 2-.9-1.4zM371.6 294.5l.8-.2 .4 .7-.9 .1zM376.7 299l-1.3 .1-1 .9-.3-.5 1.8-1zM228.9 360.6l1 .3 .1 .6-1.2 0z"/>
<path fill="#0080ff" d="M370.9 8.5l-2.2 1-1.8 1.8-4.6 2.2-2.4 2.7-6.5 2.7-21 14.2-6 3-4.3 3.9-.7 1.4-1.5 .1-7.5 4.1-8.5 6-11.9 6.9-11.1 8-2 2.5-2.5 .4-3.4 1.6-6.6 5.3-1 1.4-5.6 2.8-1.4 1.5-4 1.7-4 3.3-1.5 2 .5 2.1-1.9 .4-1.1 2.3-1.5 1.2-1.5-.1 0 2.5-2.5-.4-3.5 3.1 1.1 3.4-1.5 4 .4 .5 1-.4 .2-1.1-.6-1 1.9-.5 1.5 .9-.2 1.6 2.2 2.1 2.5-1 2.5 .5 1.5-.6 1 1 1.5-.4 4.5 1.9 3.5-.7 1.6 1.2-.6 1.4-2-.5-1 .8-2-.6-4.5 4.4-1.5-1 .6-2.5-1.1-.5-1 .4-1 1.5-2.5-.8-1.6 .9-.4 1.3-4-1.3-3 1.4-2.5-.2-4.5 2.6-.2-.8-3.3-1.4-2 .9-3.5 .1-4.5 4.6-1.5 .1 .1 3.2-.6 .7-1.1-.2-.4-2.4-2-1.1-.5 .9-2-.1-1 1.4-4.1 2.3-1.4 2-1.5-.2-1 .6-1.5-.7-4 .3-2-.6-2.5 1.6-5.5 .8-4.5 3.4-7.5 2.9-3.5 3-7 2.6-3 2.2-5.5 2.4-2.9 2.7-2.2 1-1.9 2.6-1-.2-23 13.2-4 3.4-9 4.4-3.5 3.2-9.5 5.6-2 1.8 .1 .5-5.6 2.1-20.5 13.6 0-3.1 6-3.6 4.5-3.9 4-1.7 9.1-6.9 2.9-1.2 6.5-4.8 7-4 6-4.6 6-3.4 15-11 3.5-1.4 2.5-2.9 5-2.8 14-10.7-.1-1.2-1.6-.5 .7-1.2 1-.4 .5 1 1 .1 1.5-2.3 5.5-1.7 3.5-3.4 1.4-2.1 .7-3.5-.6-3.5-3-.1-1.5-1.1-2 .1-2.5-1.1-2 .8-3-.7-4 1.6-1.5-1.3-2 .9-1.5-3.2-2 1.2-2-1.7-2.5 .5-1.1-.4 .6-3 6.5 1.3 1.5-1.2 3.5 .7 .7-.3 0-2 .8-.5 2.5 2.6 2-1.9 6 .9 1.2-1.1 0-1.5 .8-.3 2.5 2 1.3-1.2 .2-3.4 2.5 2.1 1-.7 2.5 .1 1.1-1.6-1.3-1-.4-1.5 .8-2-2.2-.9 .5-.4 4.5 2 2-1 1 1.7 1 .1 1.5 1.9 .6-.4-.1-1.5 2.8-2 2.6-3-1.4-.4-1 2.3-1-.5-.3-3.4-1.5-3.5 .8-1.9 1 .7-.1 2.2 1.1 .8 2-1.1 .6 .8-.4 1.5 .8 .6 3-1.4 1-1.6 5-.6 .8 3 4.2 2.6 4-2.1 .8-1.5-.4-1.5 1.6-2 1 .2 .4 2.3 .7 .5 3.9-1-.6-1 .6-.9 .6 1.4 1.9 .9 1.1-.9 .3-2.5 1.6-.5-.9-1.5 .4-.4 3.5 .7 1.5-1.7 1.5 1.1 .8-.2 1.2-3.5 2.2-1-.7-2.3-1 0-2 1.5-2-.6-1 2.7-3-2.8-2-.4-.5 .4 1.2 1.5 2.4 1 .1 1-1.2 .6-1-.1-1-2.3-2 1.5-4-1.2-5 .6-.7 .4-.8 2.6-.5 0-.7-2.6-1.3-.5-1-1.6-1 1.5-.8-1.4 1.1-1-3.3-3.4-.7 .4 .2 .7 1.7 1.3-3.1 2.5 2.2 2.5 .3 2 2 1-.1 2-1 .1-1-1.3-4.7-2.8 .6-2.5-1.1-2-.3-2.2-3-.2-2 1.8-3-1.2-1.5 2-4.5-2.7-4.3-8.5 3.1-1.5-1-1.5 1.2-3.3 2.5 1.1 2.3-1.3-.7-1 .4-.4 1.5 .7 1.5-.7 1.5 .1 2.5-3.2 1.5-.1 1.5-1.4 1.8-.5 .7-1.3 2.5 .2 1.5-1.9 1.6-.5 .9-1.7 1 0 1 .9 3 0 1.5-1 12-3.2 1.5-1.7 2-.4 1.5-1.8 3.5 1.4 4.5-.9 11 .3 3-.8 2.5-1.5 5-.1 2 1.5 5.5-.6 8.5 .6 1-1.4 .5 1.7 2-.9 0 3.1 .5 .4 4-.6 2.5 .7 .2 1-1.2 3.3-2.3 2.7 .3 1.5-.5 1.5 .5 .8 3.8-.8 2.7-2.1 2.8-.9 5.1-4 4.1-1.1 2-1.6 3.9-1.3 6.1-4.6 12.5-6.7 6-4.4 2-.7 1.5-1.6-.5-1 .4-1 5.6-.5 4.7-2.5 10.3-7.2 5.5-2.7 1.9-2.1 0-1zM236.5 77l.9 1 2.7-.5-1.7-2-1 .2zM249.4 76.4l-2-1.4-2.5 1.1-2.5-.5-2.2 3.4-.2 1.5-1.1 .5-1-.6-.2 1.6 2.2 .1 1.5-1.3 2.5-.3 1.8-1.5 .1-2.5 2.6 1zM249.3 73l1.6 1.9 2.3-.4-.3-1-2-1.2zM222.7 38.5l-.1 1-.7 .5-2 0 0-.7 1.3-.3 .2-1.1zM239.9 38.2l.4 .8-.4 .5-.7-.5zM269 40l1.6 .5 .8 1.3zM277.1 40.5l.8-.5 .4 .5-.9 .5zM208.9 42.2l.3 2.3-1.3 1-1.5 2.9-2.7-1.4 2.7-1.7zM196.3 48l1.1-1.4 1.5 .8 1.5-.4-3 1.6zM209.4 47.1l.5 1.4-1 .9-.5-.9zM180.4 54.4l.4 .6-.9 2.6-1 .1-1-1.6-.8-.1 .3-.7zM177.9 70.5l1.5 2-1 1.7-1.2-.2-.9-1 .4-1.5zM188.4 80.7l2 .7 .1 .6-1.1 .2zM206.5 81.5l.4-.4 1.3 .4-.8 .7zM228.4 81.8l.6 .7-.3 1-.8 .1-.5-.6zM195.5 82.5l.9-.3 1.2 .8-1.2 1.3zM221.9 82.7l.5 0 .4 1.3-.9 0zM213.9 83.4l.8 .1-.3 .8-.5 0zM187.7 85l.7-.6 1.9 1.1-.9 .6zM160.4 101l-.5 1-1.3 0 .8-1.2zM159.4 103.7l0 3.1-1.5-.1-.6-.7 1.6-1-.1-1zM145.9 106l0 1.5-.5 .4-.2-.9zM131 107l1.6 0-.2 1.3-1 0zM136.2 109l2.4 0-.1 .5-2.1 .2zM263.4 112l.5 0 0 1.3-.5-.3zM249.2 117.5l-.3 1.5-.7 0 .1-1zM251.9 117.9l.7 .6-.2 .8-.6-.3zM216.5 123.5l.9 0-.2 1-.6 0zM154.9 125.8l1.5 1 1.5-.2-.3 1.4 1.9 .5-.1 1.4-.5 .2-1-1-2.3-.1-1-2zM237.3 128.5l.6-.3 .5 .8-.5 .5zM360.9 135.4l1.5 1 1.8 .1 1.5 5 1.9 2-1.8 2.5-.6 2 .8 2-1 3 .6 4-.7 1.5-1.5 .9-2.4-2.4 .3-2-1.7-1.5 .5-2-1.3-1.5-.6-3.5 1.3-2-.6-2 .4-3.5zM472.4 192.5l.2 1-1.2 1.9-6.5 5.4-1 2.2-1.5-.5-2 .6-4.5 3.7-7 4.3-1 1.4-3 1.3-13 10.5-2.5 1-6.5 6.1-5.1 3.1-1.3 2-4.1 2.3-.6 .7 .1 2-1.7 1.5-4.8 1.5-2.5 3-3 .5-.9 2-1.6 1-2.1 3 1.1 .9 2-.7 1-1.4 1.5 1.1 1.5-1.1 2.5 3.8 .9-1.1 2.6 .2 3 2 2.5-1.2 1-1.2 2.5-.1 3-3.1 1 .4-.2 1 3.7 .3 1.5-1.4 .4 .6-.4 1-4 1.5-.1 1 .6 .3 3-.6 2.5 .5 3-2.7 .5 1.4 2.5-.2 2.2 .8-.2 1.3-2.9 .7 1.4 1.3 4-.4 4 1.5 6-.4 2 .9 6.5-.3 3-.8 2 1.9 4 .8 3-.3 2 1.6 2-.7 5.6 1.9 .6 2.5-1.2 2-2.5-.7-2.5 1-1-2-6 2.2 .7 2-1.2 1.6-1.2-1.1 .9-1.5-2.7-1.7-4 .7-1 1.2-4.5-.9-6.5 2.2-3-.5-1-1-1 0-4 1.3-4-.7-4.5 1.3-6.5-.3-7 2.4-4-.8-3 .9-5.5-.3-2 1.6-3-.2-1-1.3-1-.1-.6 .7 1.3 2.5-.2 1.2-2-.2 .3-2.5-1.3-.5-3.5 2-5-.3-1.5 1.5-4.1 1.3-.4 1.5-2-2.4-2.5 1.5-2.1-.6-.6 .5 .2 1.1-1.6 .9 1.6 2.9-2.1 .6 .3 2.5-2.1 1.5-1.6 8-3.1 5.5 .7 3.5 .9 .8 2 .2-.3 3-3.2 2-3.6-1.5-.7-4 .2-4.5-1.4-2-1-10-2.2-1.5-.6-3.5-4.2-1.3-3.2 4.3-2.3 .3-2.5 1.3-3 0-7.5 5.8-3.5 1.6-3.5 4.1-5.5 1.2-3.5 2.7-.6 1.5-4.4 .6-3.5 3-8 3.6-2 2-4 2.5-3 .8-4.9 4.5-4.6 2.1-3.5 3.3-2 .6-1.7 1.5-2.3 .6-4.4 4.4-.6 3.2-1.5 0 .7-1.2-7.2 2-8.3 6.5-6.2 2.2-1.2 1.8-1.6 0-.1-1.5 4.3-3 2.8-4 5.8-3.1 7-7.2 3.5-1.4 4.5-3.3 4.5-5 2 .1 2.5-1.4 2-2.6 4.5-2.5 6-5.5 8-5.3 6.7-5.8 .2-2 1.5-.5 2.1-1.8 .5-2.1 2.3-.6 1.2-2.5 1.4-1 .6-2 .6 1.5 2.4-.5 3.6-3 .5-1-1.6-.8-1-1.8 .5-.6 1.5 .7 .5-.5-.5-2.4 2-.6 2.3-2-1.8-1.8-3-1.2-3.5 .2 0 1.8-1 .8-3.7-1.3-.7 2-1.7 1-.8 2.5 1.7 .5 .2 1.8-1 1-1-.6-.9 1.8-.6 0-1.7-1.5 2.2-2-1.7-.5-1.3-2.5 .1-2 1.2-1.5-.8-1.1-2.5 .7-1.5 1.8-.7-.4-.4-1.5-3.4 .8-1.5-2.1-1.5 .6-2.5-1.3-2.5 1.4-1.9-1.4-3.6-1.2-2.5 1.9-2.5 .7-2-.4-1.5-3.3-4.5 1-1-.8-4.5-.7-2-1.3-1.5 .9-4-1.4-5 2.2 .4-1.1-.8-1-2.6 .1-2-1.6 1.9-4 2.1-.3 2-1.2 5 1.5 3 0 4-1.3 1.5 .1 1.5-1.4 3-.3 4 1.1 15.5-2.1 2 .6 1.5-1 2 .4 3-.5 4-2.5 9.5 1 2.5-1.4 1.5 .9 2.5-2.1 5 1.4 4.5-2 1.5 .5 6-1.4 1.5-1.8 7.5-.1 1-.8 1.5 .1 2.7-1.4 1.8-2.5-2-1-.2-1.5-1.3-.7-1.5 1.5-1 0-1.3-1.3 .7-1.5-1.4-.2-1.7-1.3 1.7-.3 1.5-1.2 3 .9 4.5-5.9-.1-2.5-1.7-1.5 1.4-3.5-2.5-6 1.3-1.5-.4-3 1.4-3.5-.1-4-1.2-2 1.1-2.5 .3-3.5-2-7.7 .7-3.3-.9-1 1.5-1.5-.7-4-.8-1.5 1.5-2.5-1.7-2 .4-.8 1.5 .5 .6-.7 .1-4-1.6-.5 .4-1.4 2 .5 1.6-2.6 3.4-3.7 1.5 .1 2-1.4 4.5 1.4 3 4.1 0 4.5 1.4 7 5.1 6-1 1.7-1.7 .8 .7 2-1.6 1-.8 2.5 1.1 5.5-1.1 9 1.8 4.5-.7 5-1.4 1.5 .1 2.5-2.1 8.5 1.4 7-.7 2.7 2-.4 1.5-2.1 2.6 1.8-.3 1 1 1-.3 1.3-2.5 .7 1 2.6 2.5-1 1.5 .8 3-1.7 1.5-2 5.5-1.3 2-2.5 4.5-1.9 1.6-1.5 .4-1.9 2 .8 2-1.5 9.5-3.7 8.5-6.8 10-5 2.5-2.1 9-4.3 1-1.2 3.5-1.8 7-5.3 3-1 7.6-6.2zM369.9 244l.5 1.3 1 .6 1.5-1.4-1-1.2zM420.9 253.6l-1.5 1.6 .1 1.3 1.6-1zM277.4 273l.5 .2 .5-.9-.5-.3zM310 276l-1.6-.1-1.2 1.1 1.2 .5zM378.2 182l.7-.6 .6 .6-1.1 .5zM343.9 186l.8 .5-.2 1.5-.6 .2-.6-1.7zM346.4 186.5l.6 .5-.1 2-.5 .2-.9-.7zM342.9 188.8l.3 .7-.9 .5-.2-.5zM392.4 200.1l1.2 .4-.3 .5 .6 1-.5 1.3-2.2-.8zM393.4 203.7l1.8 1.3-.3 1.2-1.3-.2-.8-1zM387.7 205l1.2-.7 .7 .7-1.2 .5zM382 205.5l1.6 0 .1 2-1.3 .4-.7-1.4zM391.9 205.4l1 1.1-.9 1.5-.6 0zM394.5 207.5l2.4-1.6 .9 1.1-.9 1.4zM323.7 208.5l1.7-.8 .9 .3-.4 .6zM394.3 208l-.5 3.5-3.1 .5 2.1-3.5zM385.4 208.4l.2 1.1-1.7 1.3-.8-.8zM332.4 208.8l0 1.9-.7-.7zM396.9 209.7l.9 .3 .1 .7-1 0zM382.7 212.5l1.2-1.2 2.4 .7-.3 1-1.1 .7zM340.9 212.6l.1 1.9-.6 .4-.8-.9zM342.2 220l1.2-.7 .8 1.2-.8 .8zM432.4 225.8l-.2 1.2-.8 0 0-.9zM332.1 239l-.2 .7-2.9 .8-1.2-.5 .6-.8zM305.7 244.5l2.2-1 1.4 .5-.9 2.1zM414.2 244.5l.7-.2 .9 .7-1.4 .6zM347.4 245l.8 1.5-.8 1.3-1.7-.8zM441.3 249l1.1-1 1.1 1zM228.4 260.7l2.5 2.2-.1 1.1-2.5 0-.3-1zM483.6 264l.8-1.3 1.2 .3-.7 1.2zM486.8 263l1.1-.2 0 2.2-.7-.5zM244.3 264.5l-2.9 3.8-2.5 .3-3-1.3-3-.3-.2-.5 3.2-1.8 2.5 .4 3.5-.8 1-.8zM485.4 265.9l1-.2 .9 .8-.4 1.4-1.6-.4zM480.8 267l2.1-.5 .8 1-.2 1.5-2.4-.5zM480.9 270.1l0 2.7-1.2-1.8zM274.4 275.3l.4 1.2-.4 .6-.8-1.1zM462.4 278.2l1 .2 .1 .6-1.1 .1zM272.6 279.5l.3 1.1-1.5 .4zM298.9 283l.3 .5-1.3 1.2zM294.3 285l2.6 .3 .4 1.2-1.9 .1-1.3-1.1zM292.4 290.4l0-.8 1.3-.1zM236.9 354l-.5 1-.6 0 .1-.7z"/>
<path fill="#00aaff" d="M370 8.5l-1.6 .5-1.9 2-4.6 2-1.4 2-7.1 3.4-2 1.7-4.5 2-14.4 10.4-8 4.5-4.4 4-8.2 4.3-8.1 5.7-12.9 7.7-12 8.9-8 4.3-6.3 5.6-5.2 2.6-1.5 1.5-3.5 1.5-6.6 5.4-1.4 2.5-3.3 1-.3 1-3.1 2-.4 2-3.9 3-1.5 .1-1.5 1.2-2 .5-1 1.7-2.2 0-.8 1.7 4 1.8 1.5-1 0-2 2.7 0 .2 1-1.8 1 .8 2 2.6 1.3 2-.3 1.5 1.7 2.2-.2 1.3 .9 2.4-.9 .4 1.5-1.8 1.3-1-1.1-1 1.8-2.5-.3-2.5 1.2-3.5-.5-1.5 .7-2-.6-1 1.3-1 .3-2.5-1-4.5 1.2-3-.4-2 4.4-.7 .2-.3-1.5-1-.1-2 2.7-.7-1.6-.8 0-2 2.1-4.8 2.4-3.7 3.5-1.5-1.1-2.5 .7-1.5-1.5-2 1.6-1.5-.1-8 2.3-4.5 3.3-8 3.7-3.5 2.9-6.5 2.4-9 5-7 5.4-21 12-7.5 5.4-8 4.1-9 6.6-3.5 1.7-4 3-4 1.8-20.5 13.5 0-2.1 6.5-4.1 3.6-3 4.4-2.2 9.5-7 16-9.8 27-19.1 3.5-1.4 2.5-2.6 5.7-3.4 2.6-2.5 11.2-7.6 3.6-3.4 .8-1.5 3.6-1.2 3.7-3.3 2.3-4.2 3.5-3.8-.8-1-1.7-.4-2-1.7-2.5 .3-2-1.8-1.8 .6-2.2-1.2-2.5 .9-3.5-1.9-1.2 .2-.8 1.6-1.5 .2-1-1.8-1.4-.5 .4-1 3-.8 2 .9 2.5-1.5 6 .2 2.5-1.4 2.5 .2 2.5-1.9 6-.9 2.7-3.8-1.6-1 .4-.8 1 .1 .6 1.2 1.5 .5 .4 1.4 3.5-.2 2.1-1.2-.3-2 1.7-.7 2.4-3.3 .5-2 3.6-2.3 2 0 5.5 4 5 1.8 3-2.8 2-.7 0-1.6 2-.6 5-.3 1-1.4 3.4-1.1 2.1-2.1 3.3-.9 1-1 0-3 4.2 1.7 2.5-.7 9.4-5 1.6-1.7 2-.3 2.5-3.5 2.6-.5 2.7-2 .5-2.5-3.8-.3-2.5 1.5-.5 2.1-7 .7-1 2.2-2 .3-1-.7-.5 1.3-2.5 .6-3-.7-2 1.3-4.5-.3-4.5 2.2-4-1.6-2.5 2.4-3-1-2 1.9-4 .8-2-2.7 .5-1-2.5-.5-3.5-2.3-2 .6-1 1.3-2-.8-3.5 .3-2-2.5-1-.2-1.8 1.6 .3 2-1 0-.6-.5 .1-1.5-2.1-.5 .1-.9 1.2-.1 0-1-1.7 .2-1.5-.6-.2-1.6 2.5-2 2.2-5 1-.8 2-.2 5.5-5 5-2 4-2.5 4.5-.6 2-1.1 7-1.4 3-1.6 13.5-2.9 12-.1 6.5-2.5 6.5 1.8 2-.7 4 .2 8 2.1 2-.9 .5 2.2 2.5 1.4 2-2 2 0-1.1 3.6-.9 .4-3-.8-.4 1.9 1.6 1.5-.3 3 2.1 2.3 2-1.3 2.9-.5 10.1-6.7 4-1.4 5.5-3 11.5-7.8 7.5-3.6 5.5-4.1 2.5-1.1 3.5-3.1 2.5-.5 6-2.9 9-6.7 6-2.8 2.5-2.7 2.5-1zM281.1 58l-1.7-1.6-1.5-.4-1.7 2 1.5 2-1.3 .1-2-1.2-1.6 2.1-1.9 .2-.9 1.3 1.9 1.1 .6-.1 .4-1.7 2.5 1 3.5-1.8 2-2zM208.6 43.5l0 1-1.2 .3zM178.4 55.9l1-.4 0 1.5zM187 76l.9 0 .5 1.2-1-.2zM219.5 79l1.4-.4 .5 1.4-1 .2zM362.4 137.9l1.6 2.1-.8 2 1.8 1-1.1 5 .5 2.5-1 3.7-2-1.2 .1-1.5-1.2-1.5 .2-1.5-1.4-2 1.4-2-.2-5.5zM362.4 156.5l1-.7 1 .7-1 .8zM471.2 194l-3.5 4-2.3 1.3-2 2.2-3.5 1.2-4.5 3.7-3.3 1.6-2.1 2-5.6 3.4-12.5 10.2-2.5 1.1-12 9.3-1.3 2-4.6 2.5-1.6 2.9-2 1.5-1.5-.1-3.8 3.7-3.1 1-4.1 4.8-2 .9-1.1 1.3 2.6 1.7 2-.2 2.5 .7 1.5-1.2 3.5 2.1 3-.6 4 1.3 3.5-.1 3-.9 4 .6 9-.4 .6 2.5 3.9 .7 3.5-.5 4.5 .9 5.5-.1 1.5 .5 6 .4 3.5-1 1.5 1.3 4.5 1.1 2.8-.3 .2 1 1.8 1.5-.4 1-4.9 2.7-2.5-.7-4 .4-1.5 1-2-.7-8 1.2-4.5-.5-6 1.1-3.5-.2-5 1.2-5-.3-6 2-2.5-.9-7.5 .9-4.5-.4-4 .8-2.5-.3-2.5 1.1-2.8 .1-.7 1.6-1.5-.7-4.5 .5-.7 1.6-1.3 .7-5-.2-5 1.3-3 2.7-1.1 2 1.2 4-1.9 1.5-1.8 8.5-2.4 3.4-1 .5-2-.7-.8-1.2-1-3-.5-6-2.3-3.5 .3-2-1.2-1.1-4.5-.9-4 3.7-3 1.8-4.3 1-7.4 5.5-3.8 1.5-4 3.1-2.6 .9-5.9 4.4-1 1.7-4.5 .7-7.5 5.1-3.5 1.5-4.5 3.4-5 2.2-4.6 4-4.4 2.3-3.4 3.2-5.6 2-2.1 2.5-2.4 1.5-1.5 2.6-7 2-8.7 6.9-2.3-1 1.5-2.5 8.2-5 4-5 3.3-1.4 5-3.4 4.4-4.7 3.6-1.3 2.5-2.9 3-1.2 8-7.1 5.5-3.4 7-5.6 7.5-7.9 2-.7 1-2.4 5.4-2.5 1.4-2 2.2-1.3 1-1.4 1.9-.8-.5-2 1.6 0 1.6-1.5-1.4-1.5 0-2-1.4-2.5-4.3-1.4-4.5 .4-1.5 1.5-2.5-1-3 .5-1-1.6-1.5 .7-1.5-.9-2 .5-1.5-.8-3.5 1.4-3.5-2-1.5 1-2-.9-2 .7-1.5-1.4-1.5 .4-3.5-.8-3.5 .7-2-1.4-4.5-.4-1.5 .7-2-1.1-2 .8-6-3.6-2.5 1.1-1.4-2.1 1.4-.9 2 .5 2-1.5 2.5-.9 3.5-.1 2.5-1.3 3 .9 16.5-2.1 2.5 .2 1.5-.6 4-.1 4.5-2.2 2.5 .7 2.5-.4 2 .4 8.5-.8 2-1.3 3.5 1.1 4.5-1.5 4 .1 .9-1.2 3.6-.6 1.5-1.2 3 1.2 4.5-1.7 1.5 .2 2-1.9 2.2-1 2-6-.9-2 1.6-2.5-.6-1.5 .3-6.5-.7-7.5-1.3-7.5 .9-3.5-.4-6 .7-2-.1-4-.8-2.5-.1-8 .5-2-.9-3.5 .8-2-.1-4.5 .9-2-.2-4 4.7-5.6 4-2.2 3.5 .4 3.2 4.4 1.5 11 1.8 5 2.5-.3 .7 .8-3.3 3-1 5.5 .9 6-1 9 1.7 3.5-1.1 1.5-.3 2 .5 1.5-1.1 1.5 .1 2.5-1.6 6.2-.4 11.8-1.1 2 .3 2.5 3.2 5.5 3-.3 2-2 2.5 0 5.5-3.6 6.5-2.4 1-1.4 4-1.8 2-2.4 13.5-6.4 12.5-9 6.5-3 2-1.7 4-1.7 3-2 2.5-.8 1.2-1.5 7.3-4.3 2.9-2.7 2.6-.4 8.8-7.1 5.2-1.3zM329.4 276.4l-.2 1.6 1.7 .5 .2-1.5zM351.4 241.1l1.3 .9-.8 .6-.6-.1zM308.8 244.5l-.9 1.2-1.9-1.2 1.9-.5zM251.9 266.5l1.4-1.5-.5-1.5 1.1-1 1.5 1.3 1 .1 1.4 1.6-2.9 2.5zM361.4 309.2l.6 1.3-.6 .6-.5-1.1zM364.9 311l1-.7 .7 .7zM364.9 311l-1 1.7-1.1-.7 .6-.9z"/>
<path fill="#00d4ff" d="M366.9 9.5l-3 2 .5-1zM360.5 13.5l-1.2 1.5-3.4 1.4 .4-.9zM340.4 26l-8.5 6.3-4.5 2.2 .4-1 3.6-2.8 7-4.3zM327.4 34.5l-3.5 2.2-4.5 4-8 4.3-21 13.5-12 8.5-7.5 4.3-7 5.7-10 5.7-5.5 4.6-12.1 8.2-1.8 2.5-4.6 2.7-1.3 1.3-1.7 .4-2.2 3.6 .1 1 4.6 3 1.5-1.2 1 0 1.4 1.2-.4 1.1 6 .2 1.2 .7-1.2 1.2-3.5-1.1-2.5 1.2-1.5-.4-2.5 1-2.5-.2-8 1.2-3 2.3-5 2.2-10 7.2-1-1.4-4-.4-2.5 1.4-9.5 3-5 3.3-7.5 3.7-3.5 3-6.9 2.8-8.6 4.8-8.6 6.2-22.4 13-5 3.8-7.5 3.8-15 10.4-5.5 2.7-11.5 7.8-2.2 .5 3.7-3.2 4-2.1 18-12.5 8-4.6 27-19 3.5-1.6 4.5-3.8 3.5-1.9 14.3-10.3 4.7-4.3 4.5-2.7 5.2-5.5 1.8-1 .6-1.5 1.9-.1 .5-2 2.2-1.4-.2-1.2-4 .8-2.5-1.2-2.7-2.4-2.3 .5-2-1.6-5.5-.4 4-1.3 1.5 .3 1.1-1 6.9-2.5 4 .3 3-2.7 3-.1-1.3 1 .3 1 5.6-4 1.9-3.1 1.6-.9 0-1.5 2.4-3.4 2.5-1.1 3.5 .8 3.5 4.3 3.5 1.2 2.5-1.8 2.3-.5 .8-1 5.9-3.4 2.2-.1 1.3-1.8 3-.3 4.5-3 6.6-1.9 2.4-2 12-6.5 3.5-3.2 3-.9 2.3-2.4 2.1-3.5-.1-1.5-1.3-.2-3 .9-2-.3-2.8 1.6-1.7 2.2-8.5 1.1-4.5 2.7-3.5 .1-2 1.1-3.5-.6-3 1.6-6.5-.7-1 1.7-2.5-.9-2 .8-2-.1 .5 1.5-.5 .1-1.2-1.1 .2-1.5-1.5 .4-3-2.3-2 .3-2.5-2-1 .1-2.5 1.5-4-1.8-2 .1-2.2-1.3-.8-1.8-1.5-1.2 1.9-4.5 1.6-.6 1.5 .6 1.3-3.5 2.2-1.9 1.5-.3 1.5-1.7 3.5-.3 5.2-2.8 11.3-3.1 2.5-1.5 12-2.4 3 .1 1.5-.6 5.5-.3 3.5 .3 6-2.5 6.5 2.1 6.5-.1 2 1.5 2-.1 3.9 4.1-.7 5-2 1-2.3 3.5-3.4 1.1-.3 1.9-1 1 .3 1 2 1.2 1.5 0 4.5-1.4 7-5.2 11-5.3 5-3.6 12-6.3 3.5-3 12-6.3zM362.4 145.5l.7 1-.7 1.6-.8-1.6zM468.9 195.5l-2.5 2.5-2 .5-1.5 2.6-3.5 1-4.7 3.9-2.8 1.2-2 2-6 3.6-12.5 10.4-2.5 1.2-1.4 1.6-8.6 6-3.3 3.5-2.7 1.1-4 4.2-3 1.3-4.4 3.9-2.6 1.1-2.5 2.9-2 .5-2.5 2.2-1.3 2.3 .8 1 3.5 1.4 5 .6 2-.6 2.5 .9 3-.2 1.5 1.1 6 .3 2-.9 10 .6 1.5-.7 1.3 .5 1.7 1.9 4 .6 4-.5 17.5 2.2 2-.8 1.7 1.1 .3 1.3 3.5-1 2.7 .7-.2 1-3 .1-2.5 2.1-1.5-.2-2 .6-1.5-.4-4 1.2-6 0-13 1.2-4 1-6.5-.1-5 1.6-2-.6-18 .6-7 1.2-4 1.6-2.5-.1-2 2.3-2-.5-2.5 .3-8.5 2.4-2.8 4.2 .8 4-3 11-2.5 1.9-1.2-.4-.9-1.5-1.1-7.5-1.2-3.5-.1-3.2-1.5-1.4-4-.6-1.5 .4-7.5 5.2-7.5 3.3-4 3.5-4.5 1.8-6.4 4-2.6 2.5-4.8 3-3.7 1.3-5.5 3.9-18.7 10.8-8.8 7.1-5.5 1.4-2 3.1-3.5 1.5-1.5 2.7-2-.1-2 1.2-1.2-.4 1.2-3 4.3-2 4-3 1.7-.2 .9-2.3 3.5-3 4.3-2.5 1.8-2.1 3-1.2 8.5-7.7 3-1.5 13.5-10.6 6.5-6.8 2-.6 1.2-1.5 2.2-1 1.6-2.2 5-3.3 1-1.8 2.5-1 2-3 2.6-1.2-1.2-1.5-3.4-1.2-2.5 .5-1.6-1.8-1.9-1-4-.2-5.5 .7-9.5-1.4-6.5 .4-4.5-1.3-4.5 .7-1-1-2.5-.6-5 .4-7-1.2-5.7-1.5-1.8-1.5-2-.5 2.5-1 2 .1 1.5-1.3 3.5 .1 2.5-1.1 6 0 6.5-1.3 10-.6 5.5-1.4 17.5-.5 7-1.7 5 0 5.5-1.2 1-.8 5.1-.3 3.4-1.1 4.5-3.4 1.3-2 .4-7 1.1-3.5-.9-3 .5-1.5-2.4-14.5 .6-6.5-.3-5 .7-2.5-.9-7 .5-9.5-.5-3 1.1-12.5 4.3-5.4 3.5-1.7 2.5 .3 2.7 2.3 .8 2 2 12 1.6 5-1.3 7.5 .6 9-.8 5.5 .2 8.5-2 10.5-.5 11-1.4 3 .2 2 1.3 2 .3 3.5 2.3 1.3 4-.2 1.5-1.3 5-2 6-4.2 3.5-1.1 5.5-3.5 1.5-2 14.5-7.3 11-8 7.4-3.7 1.7-1.5 9.9-4.5 1-1.3 7-4.2 2.5-2.4 3-.4 8.6-7.2zM74 195.5l-6.6 4.7 0-1.2 4.5-3zM251 345l-1.1 .7-.8-.2 .8-1z"/>
<path fill="#00ffff" d="M321.7 38l-6.3 4.5-2.4 .5 1.8-2zM273 50.5l.2 4-1.4 1-1.1 3-2.8 1-1.5 2.2-4 1.7-1.3 1.1-3.2 .4-3.4 1.6-1.6 1.5-9 2-2 1.6-7 1.5-4-.2-2.5 1.7-6.5-.9-2 .6-2-.8-3 1-5.5-2.2-2.5 .1-5.5-2.8-1.5 0-1.5 .8-2.5-1.6-1.5 .4-1.2-.7 .7-1.5 1.5 .5 .3-1 1.2-.7 .2-2.8 1.2-2.5 2.6-1.5 1.5-1.8 3.5-1 2-1.7 4.5-1.7 21.5-6.2 5.5-.2 7-1.1 3.5 .3 6-2.2 8.5 3.1 6.5 .7zM310.4 45l-1 1-3 1.2 2.7-2.2zM306.3 47.5l-6.8 5-28.6 18.3-13.5 9.7-4 1.9-5.5 4.6-12 7.7-2.5 2.8-7 4.1-4.2 5.9 1.1 2 2.1-.3 1 1.1 3.3 1.2 .3 .5-.6 .6-6-.1-4.5 .9-16.5 10.4-2 .7-3-.9-2.5 .4-11.5 4.5-12.5 7.1-3.5 2.9-7 3.1-8.5 4.8-9 6.3-22.5 13.1-4.9 3.7-6.6 3 52-36 2.5-2.4 8.3-5.6 2.7-2.9 5.5-3.7 3.6-3.9 .4-3.4-5.5 .7-1.5-1.6-6.5-1.4-.3-.8 1.3-1.2 13.5-1.4 9.5-7.4 1.8-5.5 3.2-2.1 3.5 .6 2.7 4.5 1.3 .9 3 .3 2-1.2 3-.6 3.5-2.8 7.5-3.1 6-3.7 7.7-2.8 2.8-2.3 13-7.1 2.2-2.1 2.8-1 4-2.6 1.2-1.9 2.3-.3 2.2-1.7 5.3-2 10.7-7 10.3-5.3 2-1.7zM441.6 213.5l-3.7 3.7-1.5 .6-1.5 1.9-15 10.6-4.9 4.7-4.8 3-2.2 2.5-15.8 10.5-4.2 5 3.9 1.7 6 1.3 4-.4 4.5 1.2 7.5 .5 3-.6 2 .6 6.5-.5 3.5 .4 2.5 1.3 2.5 .4 6-.1 7 1.4 3.5 0 4.5 1.8 0 2-2-.8-1.5 1.4-2.5 .7-3-.1-16.5 2.1-7 0-10.5 1.3-13.5 .1-7.5 1.3-4 1.4-2.5 0-3 1.4-12 2.8-1.5 1-1.9 3.9 .3 4.5-1.9 7.1-1 .2-1 1.8-1.5-.2-1.5-2.9-1.5-10.1-2.4-2.4-3.6 .2-5 2.5-4.5 3.3-7 3.3-5 3.8-4.2 1.9-6.2 4-2.6 2.5-2 .5-3.5 2.5-3 1.1-5.8 4.4-2.7 .8-6.5 4.5-9.5 4.9-8.8 7.3-3.8 .5 3.1-3.5 9-5.5 8.7-8 2.3-1 7.5-6.3 6-3.9 6.5-6.9 2.8-1.4 14.7-12.1 4.5-2.9 1.4-2-2.4-1.6-4.5-.2-6.5-2.3-11 0-2-.8-8.5-.3-3 .3-6-1.2-4 .3-4-1.2-4.5 .3-2-.9-4.9-.4-2.4-2.5 .3-.5 2.5 0 2-1 12-2.4 10-.6 5.5-1.1 22-1.1 2.5-1.1 6-.2 6-1.8 5.5-.3 7-3.7 2.5-2.7 .1-5.5 1.2-5.5-1.5-12-1.5-7.5 .5-7.5-.4-4 .6-2.5-.6-7.5 .2-15 1.2-9 1.2-2.5 2.1-2.5 5.4-1.3 2.6 1.8 3.9 18-.9 12-.2 21-1.7 8-.9 10.5-1.4 5.5 1.2 5 1.9 2.5 2 .8 4.3-.3 1.7-1.6 4.8-1.9 5.7-3.9 6.5-3.2 7-4.9 11.5-6.2 10.9-7.8 5.1-2.5 4.3-3 2.2-.5 4-2.3zM107 174l-6.5 5-4.9 2 4.6-3.5zM94.9 182l-1.5 1.6-3 1.3 1.5-1.9zM454.2 204.5l-.3 1-1.3 0 .7-1z"/>
<path fill="#00ffd4" d="M271.3 51.5l-.3 2.5-4.3 3.5-1.7 3-9.1 3.5-5 3.2-3.5 .6-10 3.7-3-.7-2 .9-8 1.3-2.5-.8-2 .3-3.5-.5-2 1-1.5-1.1-6.5-1.2-4.5-2.7-2 0-1.1-2.5 2-4.5 2.3-2.5 4.8-3.1 12.5-4.4 13.5-3.7 16.5-1 3.5-.9 5.5 .1 4.5 2.3 2 0 1.5 .7 2-.5 .6 .5-.1 1.5zM289.2 58l-2.3 2.1-16 10.1-11.5 8.3-6.3 3.5-5.7 4.7-7 3.9-7 5.8-7.3 4.6-5.6 6-.6 4.9-1.8 .6-11.7 8.3-6 2.7-3-.6-3 .2-11.2 4.9-12.8 7.3-3 2.6-7 3.2-33.4 20.4-2.7 1 37.4-26 23.2-17.8 .8-3.2-1.3-2.1-3.5-.4-1.5-.8-5.8-.2 .3-.5 9-.5 2-.8 8-7 2.2-1.2 1.6-5.5 1.2-1.2 2.5-.9 2 .4 1.7 2.2 1 3 2.3 1.5 1.5 .1 5.5-1.8 4.7-3.3 3.1-1 9.2-5.5 9.4-4 2.6-2.1 12-6.4 2.5-2.1 7.3-3.9 1.2-1.3 6.5-3.8 3-1.1 10.9-6.8zM434.9 217.5l-.5 1.6-15 10.6-5 4.8-2 1-5 4.5-15.5 10.5-5.3 4.5-.8 1.5 3.1 1.7 8.5 1.6 16 1.2 11.5-.2 9 1.8 9 .6 4.5 1.7 1.7-.4-1.7 2-4 1.2-29 3.1-15.5 .1-15 2.8-16 4.8-1.3 1.5-1.2 3.5 .2 4-1.2 4.4-1 1.2-2.5 .8-.6-.4-1.2-8.5-1.2-3.5-2.5-1.4-3.5 .7-6 3-4 3-6 2.7-16 10.2-3 2.5-8.9 4.3-5.6 4.4-2.5 .8-5.5 3.8-5.2 2 .7-1.6 2-.9 14-11.5 3-1.6 7-7 2.5-1.3 14-11.6 6.7-4.5 1.1-2-.8-1.2-3.7-1.3-4.3 0-6.5-1.8-24.5-1-4.5-.9-5 0-6-1.4-2.5 .5-1.6-1.4 0-1.5 3.5-2 5.6-1.3 15-1.4 19-.8 6-1.5 5-.2 6.5-1.6 5-.4 8.5-3.6 2-2.3 1.7-11.4-3.2-22.5 .5-12.5-.3-22 .8-7.3 3.5-6 5.5-.9 1.5 1.2 .9 2 2.4 12.5-.4 35.5-4.3 25 1 4.5 2.4 3.9 2.5 .6 4.8-1 1.7-1.6 4.6-1.9 24.4-15 10.5-5.6 7-5.2 9.5-5.5z"/>
<path fill="#00ffaa" d="M266.3 51l-.6 2.5 .6 2-3.9 4.1-7 3.2-4.5 2.8-12 4.1-5 .1-6.5 1.4-15.5-.5-6.5-2.6-1-1.3-1.5-.8-1.1-2.5 .2-1.5 1.9-2.6 4.9-3.4 12.1-4.4 13-3.4 24-1.4 2 .3 1.5 1.4 3.5 1.1zM274.8 67l-1.9 1.6-1.7 .4 2-2zM269.9 70l-7.5 5.8-9.5 5.7-6.4 5-6.1 3.4-15.5 11.2-5.5 5.4-1.7 .5-1.5 1.5-.3 1.5 1 2-.7 1-9.8 7.3-5.5 2.5-6.5-.5-11.5 5.3-11 6.1-5 3.8-6.5 3-18.5 11.5-2 .7 4-3.6 18-12.1 23.9-18 1.4-2.5-2.2-5 3.5-4 7.4-5.5 1.2-5 1.4-1.5 1.9-.6 2 .6 1.3 2 .7 3.1 1.5 1.5 3 .6 3.5-1 18.5-10.5 10.5-4.8 3-2.4 11-5.8 12.2-7.7zM365.4 169l1.8 2 2 9.5 .5 6.5-.5 32-4.3 25 .9 4.5 1.7 4 3.4 1.4 5.5-1.3 17.5-10 17.5-10.9 5.5-2.4 .5 .7-3.7 4-27.7 20.5-1.3 1.5-.2 1.5 3.9 1.4 9 1.6 27.5 1.1 11.5 2.1 2 1 2.5-.2 .7 1-1.2 1.3-2-.2-2 1-2-.1-2 .7-18 1.9-15.5 .3-22 4.3-10.5 4-1.4 4.3-.6 6-2.5 2-1.5-2.5-1.8-8-2.2-1.2-2.5 0-5.5 2.2-5 3.6-4.8 1.9-22.2 14.4-8 3.9-2-.1 .1-.7 2.4-1.6 4.9-4.9 5.6-4 9-7.8 12-8.6 .9-1.6 .1-1.9-5.5-2-4.5-.1-5.5-1.4-27-1.3-10-1.3-2.9-2.5 1.9-1.6 4-1.3 32.5-2 22-3.6 10.5-4.5 1.2-3 1.4-9-3.4-24 .2-36 .8-5.5 2.8-5 1-.6 2.5 .2zM425.6 224l-4.2 3.5-1.5 .8-.7-.3 2.6-2.5zM302.6 308.5l.3-1 1.2 0z"/>
<path fill="#00ff80" d="M263.6 52.5l0 2.5-1.2 2.3-2 .6-4.5 3.4-7 3.7-3.5 .8-6.5 2.8-6 .2-7 1.2-15-1-1.5-.5-5.3-5 .8-3.1 6.5-4.3 9.5-3.7 13.5-3.5 16.5-1.1 6.5 .1 4.8 2.6zM251.7 81.5l-5.7 4.5-5.1 2.8-14.2 10.2-6.8 5.6-3 1.7-2.1 2.2 .5 4-3.9 3.9-5 3.5-6 2.5-6.5-.7-11.5 5.5-10.5 5.9-5 3.6-13.2 6.8 33.2-24.5 1.4-2-2.2-4.5 .2-1.5 3.5-4 6.4-4.5 1.2-5 1.5-1.7 2-.4 1.5 .8 .8 1.3 .7 4 .9 1 5.6 1 21-11.6 10-4.8 3.5-2.6zM365.4 170.4l1 .6 1.2 4 1.5 12-.6 32-4.3 22.5 .2 4 2.4 7.5 4.1 1.5 4.5-.8 18.5-10.4 14.3-8.8 4.5-2-.2 1-9.6 8-18.1 13-1.3 2 0 1.5 1.4 1 12.5 2.2 27 1.1 6.8 1.7 .7 2-1.5 1.2-6 1.4-30.5 1.8-16.5 3.6-11.4 4-1.4 3-.7 5-1 .9-2.1-1.9-1.9-5.5-2.5-1.2-3 .2-5.5 2.5-5 3.4-4.5 1.8-8.5 6-11 5.9-3 2.4-1.1 0-.6-1 14.7-12.6 12-8.8 1.6-2.6 .1-1.5-1.2-1.1-3-1-7-.7-5-1.3-28-1.2-8.5-2.2-.3-1 2.8-1.9 8.5-1.2 19.5-.9 17-2.1 9.5-1.9 10.7-4.5 2.3-8.2 .4-4.3-.3-5-1.8-7.5-1.4-11.5 .1-36.5 1.1-5 1.9-3.7 1-.7z"/>
<path fill="#00ff55" d="M260.2 53.5l-.2 2.5-4.3 4-7.3 3.8-10 3.6-13 1.3-8-.1-6.5-1.8-3.4-3.8 .1-1.5 1.3-2 4-2.9 9-3.5 12.5-3.2 16.5-1.3 4.5 .4 3.6 1.5zM236 91l-3.1 3-18.2 13-.8 1.5 .5 4-3.1 3.5-4.9 3.5-6 2.4-5-1.1-2 .3-21.5 11.2-5.1 3.7-3.5 1.5 1.1-1.5 17.5-12.1 7.1-5.9 .1-1.5-2.5-5 3.3-4.1 7-4.9 .8-4.5 1.2-1.7 2-.5 1.5 1 1.3 5.7 3.7 1.5 3 .3 2.5-.9 19-10.9zM365.4 171.6l1.5 3 1 4.5 .6 10.9-.6 29-1.5 8-1.4 3.5-1.7 11 .3 3.5 2.3 8 1.5 1.2 2.5 .8 5-.5 27-14.7-.3 1.2-17.7 13.4-1.7 2.6 .1 1.5 2.6 1.3 11.5 1.8 27.5 1.6 2.5 .8 1.7 1.5-1.2 1.2-2.5 1-29 2-16 3.1-13.5 4.5-3.5 6.3-1.5-1.2-2-4-2.5-1-2.5 .3-3.7 1.3-11.8 6.3-9.5 6.4-5 1.9 0-.6 4.6-4.5 13.1-10 2.6-4-.5-1-2.3-1.5-3-.9-7-.6-5-1.2-27.5-1.4-1.4-.9-.7-2 4.6-2 22-1.2 19.5-2.8 5.5-1.5 9-3.5 1-.9 2.4-8.1 .3-7.5-2.7-12.4-1.1-8.6 .2-36.5 1-4.5 1.4-2.7 1-.7z"/>
<path fill="#00ff2b" d="M257.7 52l0 3-.8 1.5-4.5 4.1-10.5 4.4-6.5 1.7-9.5 .7-8.5-.3-5.5-1.8-1.5-2.3 .6-3 2.9-2.8 5-2.3 11.5-3.3 7-1.3 13-.8 5 1.1zM226.8 97l-12.9 9.5-.8 2 .6 4-2.9 3.5-4.4 3.1-6 2.4-5-1.2-2.6 .2-15.1 7.5 12.2-9.9 .1-1.1-2.8-5.5 3.2-4.1 7.3-4.9 .4-4.5 1.3-1.6 1.5-.1 1.5 1.2 .6 5 3.9 1.9 3 .6 3-.8 12-6.7zM362.9 173.2l2 .1 1 .8 1.6 5.4 .5 4.5 .1 17.5-.9 18.5-1.4 6-2.5 3.5-.9 4.1-.3-2.1-2.2-3.5-2-11.4-.3-25.6 .4-10.5 .9-4.5 1.5-2.4zM423.2 265.5l-2.8 2-25 1.7-15.5 2.9-14.5 4.9-3 5-1-.4-1-2.6-1.5-1.5-4.5-.6-6.5 2.3-10 5-.7-.2 5.1-5 3.3-4-.1-1.5-1.5-1-5.1-1.9-12-1.7-21-1.2-4.1-.7-1.7-1.5 1.3-1.2 27-2.4 17.5-3.1 12.6-4.8 1.1-2 1.3-5.3 1.5-1.9 2.5 7.8 2.5 2.2 4 .8 3.5-.4 13-6.4 .5 .2-1 1.8-4 3.1-2.5 3.1-.1 1.5 1.3 1 3.1 1 11.2 1.7 22 1.2 2.5 .6z"/>
<path fill="#00ff00" d="M254.7 53l-.4 3-2.9 3.5-7.5 3.7-7 2-9.5 1.2-6.5-.2-3.5-.8-4.5-2.5-.7-.9 1.7-3.2 4.5-2.8 15-4.3 17-1.2 2.2 .5zM213.3 105.5l-1 2.5 1.1 3.5-.2 1-2.4 3-4.4 3.3-6 2.4-5.5-1.4-2.5 .1-6.1 2.6 4.6-4.5-3.1-5.5 .1-1.5 3.4-4 7.3-4.5-.3-3.5 1.1-2.1 1.5-.2 1 .8 .5 1.5-.5 3 1 1 5.5 2.3zM361.4 174.5l3.5 .2 .9 .8 1.7 8.5 .1 17.5-.8 17.5-1.4 5.2-3 3.3-1.5-1-1.5-3.4-1.3-15.1 .4-27.5 1.3-5zM305.4 265.5l1.9-1 26.6-2.7 11.5-2.3 13.5-5.1 1.1-1.4 1.4-4.7 1-.6 2.3 5.8 2.7 1.7 6.5 .8 8-2.6-2.5 4.6 1.1 1.5 2.4 1 13 2.1 18 1.1 4 .7 1.7 1.1-2.7 1.5-3.5 .7-15 .6-15 2.3-18 5.9-3 3.8-3-3.2-4-.9-4 .7-7.2 2.6 2.4-4 .1-2-5.3-2.9-14.5-2.2-17-1.1z"/>
<path fill="#2aff00" d="M252.6 53.5l-1 3-4.4 3.5-3.3 2-6 2-11 1.3-6.5-.5-3.1-1.3-2.4-2.5 .6-1.5 3.3-2.5 6.6-2.6 8.5-2.1 14.5-.7 2.4 .4zM200.4 97.1l1 .4 .7 1.5-.8 3.5 6.6 3.1 3.3 .9 1.8 5-1.3 2.5-2.8 2.7-3.5 2.3-5 1.8-8.6-1.8-.5-2-3.3-5 1.3-2.5 2.4-2.5 7.8-4.5-.8-3.5 .6-1.5zM361.4 176l4 .9 1.5 7.1 .2 17.5-.9 17-1.3 4.2-2.5 1.7-2-1.7-.5-1.2-1.3-13.5 .1-23.5 1-6.5 .7-1.5zM310.2 265.5l4.7-1.5 14-1.1 14-2.1 16.5-6.1 3-4.7 1.6 3.5 1.7 1.5 6.2 1.5 6.5-.5-.3 2.5 4.5 2.5 12.1 2 18.7 1.5 1.8 1-2.3 1.5-14.5 .8-14 2-19 6.2-3 2.7-2.5-1.9-2.2-.8-3.8-.3-5.5 .7-.9-3.4-6.1-3-14.5-2.1-12-.8-3.5-.7z"/>
<path fill="#55ff00" d="M249.8 54l-1.4 3-2.5 2.2-8.4 3.8-13.1 1-5-1.4-1.3-1.6 .8-2.5 3.4-2 11.6-3.4 11-.6 4 .6zM200.4 97.5l1 1-.6 .5 .6 1.5-1 .8-1-.6-.2-1.2 .2-1.4zM200.4 102.8l9.8 4.2 2.3 5-1.6 2.5-3 2.6-3 1.9-4.5 1.5-7.5-2.1-4.5-6.4 1.3-2.5 2.5-2.5 3.7-2.4zM362.9 177.7l2 .8 1 2 .7 15-.7 20-.5 3.5-2 1.5-2.5-.5-.5-.9-1.4-11.1 .5-26 .9-3.4zM314.1 265.5l1.8-.8 26.5-3.2 17-6.2 3-3.2 1.5 2.3 1.8 1.1 10.2 1.8 2.3 2.2 4.3 2 28.9 4-2.5 .9-24.5 2.9-19.5 6.5-2.5 2-3.5-2-8-1-3.7-2.8-5.8-2.5-24.8-3z"/>
<path fill="#80ff00" d="M246.7 55l-1 2-4.3 3-6.5 2.4-10.5 .1-2.5-1-.8-1.5 .7-1.5 2.9-2 10.2-2.8 7.2-.2 3.2 .5zM200.4 103.2l9.5 4.3 2.2 4.5-1.6 2.5-2.9 2.5-2.7 1.7-4.5 1.6-7-2.3-4.6-6 1.2-2.5 2.6-2.5 3.3-2.1zM362.9 180l2 .4 .5 1.2 .7 13.9-.6 17-.6 3.1-1.5 .8-2.5-.2-.5-.7-.8-7 .1-24 .7-3.6zM318.4 265.5l23.5-3.4 10.5-4.4 7.5-2.1 2.5-1.9 3 2.1 9.5 2.1 7.7 4.1 23.6 3.5-3.1 1-19.2 2.4-11.5 4.5-7.8 2.1-2.2 1.4-3.5-1.5-7-1.1-10.5-5.3-17.5-2.2z"/>
<path fill="#aaff00" d="M242.9 55.5l-.3 1-2.2 2-6 2.7-9-.6-1.1-.6 .2-1.5 2.1-1.5 8.5-2.5 5.8 .2zM200.4 103.6l8.7 3.9 1.9 2.5 .7 2-1.6 2.5-2.9 2.5-6.8 3-6.8-2.5-3.2-3.3-1.2-2.2 1.2-2.5 2.6-2.5 3.4-2.1zM362.9 182.9l1.5 .3 .7 1.3 .5 18-.7 7.6-3 1.4-1-.3-.7-2.7 .2-24.3 .5-.9zM322.5 265.5l19.4-3 10.5-4.4 7.5-2.1 2.5-1.3 3 1.6 8.5 1.8 9.5 4.5 19 2.9-18.5 2.9-11.5 4.7-10 3-10-2.3-11-5.2-17-2.4z"/>
<path fill="#d5ff00" d="M238.4 56.5l-.8 2-3.7 1.3-3.5-.6-1.3-1.2 3.3-1.8 3-.7zM200.4 103.9l4 1.3 4.5 2.6 2 2.7 .4 1.5-1.6 2.5-2.8 2.4-6.5 2.8-6.5-2.4-2.9-2.8-1.5-2.5 1.3-2.5 2.6-2.5 3-1.8zM362.4 187.5l1.5 .4 .6 1.1 .5 13.5-.6 3.3-3 .7-.5-2-.2-14 .7-2.7zM397.6 265.5l-13.7 2.5-11.5 4.8-10 2.7-10-2.2-11.5-5.3-15.2-2.5 15.7-2.5 11.5-4.8 9.5-2.7 11 2.9 10 4.7z"/>
<path fill="#ffff00" d="M200.4 104.1l4 1.4 4.2 2.5 1.9 2.5 .5 1.5-1.6 2.5-2.5 2.1-6.5 2.9-6.3-2.5-2.7-2.5-1.5-2.5 .8-2 2.7-2.7 3.5-2.1zM329.5 265.5l11.9-2.1 11.5-4.9 9.5-2.4 11 2.7 10 4.7 10.5 2-10.5 2.2-11.5 5-9.5 2.3-9.5-2-12.5-5.5z"/>
<path fill="#ffd500" d="M200.4 104.4l4 1.4 3.7 2.2 2.1 2.5 .4 1.5-1.2 2-2.8 2.5-6.2 2.7-6-2.3-2.6-2.4-1.6-2.5 .9-2 2.8-2.7 3-1.8zM333.6 265.5l8.3-1.9 11.5-5 9-2.1 10 2.3 10.5 4.9 7.9 1.8-7.4 1.8-12 5.2-9 2.1-9-1.8-12-5.4z"/>
<path fill="#ffaa00" d="M200.4 104.7l3.5 1.1 3.7 2.2 2.2 2.5 .5 1.5-1.4 2.2-2.7 2.3-5.8 2.5-6-2.5-2.5-2.3-1.3-2.2 .8-2 2.6-2.5 2.9-1.8zM337.1 265.5l5.3-1.7 10.5-4.8 9.5-2 10 2.1 10.5 5 4.9 1.4-15.9 6.6-9.5 2.1-9.5-1.9z"/>
<path fill="#ff8000" d="M200.4 104.9l3 .9 3.8 2.2 1.9 2 .8 2-1.2 2-2.8 2.4-5.5 2.3-5.6-2.2-2.7-2.5-1.2-2 .9-2 2.6-2.5zM339.4 265.5l13.5-6.2 9.5-2 10 2.2 12.9 6-13.4 6.3-10 2-9-1.8z"/>
<path fill="#ff5500" d="M200.4 105.2l6.4 2.8 2 2 .8 2-1.2 2-2.5 2.1-5.5 2.4-5.5-2.3-2.5-2.2-1.2-2 .9-2 2.3-2.2 3-1.8zM340.5 265.5l11.9-5.8 10-2 10 2 11.7 5.8-11.7 5.9-10.5 2.1-9-1.8z"/>
<path fill="#ff2a00" d="M200.4 105.4l6 2.6 2 2 .9 2-3.6 4-5.3 2.2-5.4-2.2-3.4-4 .9-2 2.4-2.3zM341.3 265.5l11.6-5.7 9.5-1.8 9.5 1.8 11.4 5.7-10.9 5.6-5 1.4-5.5 .7-9.5-2z"/>
<path fill="#ff0000" d="M200.4 105.6l6 2.7 1.7 1.7 .8 2-3.5 3.9-5 2.1-5-2-2.3-2-1.2-2 .9-2 2.1-2zM341.9 265.5l11-5.4 9.5-1.8 9.5 1.8 10.8 5.4-10.8 5.6-10 1.8-10-2.1z"/>
<path fill="#ff00ff" d="M200.4 105.9l5.8 2.6 1.9 2 .5 1.5-3.2 3.6-5 2.2-5-2.1-3.2-3.7 1-2 2.1-2zM342.5 265.5l10.4-5.2 9.5-1.7 9 1.6 10.8 5.3-10.3 5.3-10 1.8-9.5-1.9z"/>
<path class="cl" d="M372.4 8.5l-.5 1-1 0-3 2.2-1 1.3-1.5 .2-2.5 2.3-1.5 .2-.7 1.3-4.3 1.6-1 1.5-1-.1-1.5 1.9-2 .2-.5 1.2-3 .6-1.1 1.1-.9 .2-2 1.1-2 2.3-.5-.1-1.5 .6-1 1.2-1 .4-2 1.8-1.5 .6-1.5 2.2-1 .1-1.5 .8-1-.2-1.6 1-1.4 1.6-1.3 .4-1.2 2-.5 0-.8 1.5-2.7 .6-.5 1.5-2 .9-1-.5-2 1.5-1.5 .1-2.6 1.9-.8 1.5-2.1 .6-.4 .4 .3 1.5-.9 1-.5 .3-1.5-.7-1 .2-.4 1.2-1.8 1-.2 .5 .6 1-.2 .4-1.5-.4 .4-1-1.4 .2-5 3-1.1 1.8-.9 .7-1.5 .1-1.5 1.4-2.5 1.3-.6 .5 0 1-.4 .4-2.5 .9-1.9 1.7-.5 1 .4 .5-.5 .3-1.5 .4-1.5-.8-3 1.6-.4 1-1.7 1-1.4 1.6-3.7 1.9-.4 .5 .4 2-.3 .5-.5-.1-1-.7-1 0-.7 .3-.8 1.3-1-.2-.6 .4-.4 1-.5 .4-3.5 1.6 .5 .5-1 .2-1 1.3-2 1.5 .7 1-.1 .5-2.1 .4-.8 .6 1.5 3-2 .5-.6 1.5 1.2 .5 .8 2-.6 .9-1.6 .6 .6 .2 1.5-.2 1.5 1.5 1.8 .5 2.3 2.5 .6 0-.9-2 0-.5 .7-.5 .6 0 .6 .5-.3 1 .6 .5 1.5-1.1 1.5 0 1.4-.9-.9-1.2-.5 .1-1-.9 .5-.4 2.5 .2 .5 1.6 .5 .1 .4-.5 0-1 .6 0 1.1 1.5-1.3 .5 .7 1.5-.5 .1-1.5-.8-.9 1.2 .4 .7 1-.3 .5 .6 4.5-1.3 1.5 .1 .5-1.5 .5 .1 1-.7 1.3 .8 .2 .9 .5 .4-.3 1.2 .8 .7 .9-.7 .6-1.5 1.5-.8 .6 1.3-1.4 1 .8 1 1 .5 .1 1 .4 .4 1.5-.1 1.5-1 1 .2 1-.8 0 1.1-1-.2-.3 .9 1.8 2.4 2.7 .1 .4 2 .3 .5 1 .5-.4 .6-2-.8-.5 .2-1 1.5-2.5 .4-2.5 3.8-.5 .3-2-.3-.5 .6-1 .3-1 .9-1 1.7-1-.8-1 .4-.9-.8 .9-1.7 2-1.3 1 .8 .5-.2 .5-2.1-1.5 .3-1.7-.8-.8-1.5-.5 .1-1.1 .9-.2 .5 .8 2-.7 1.5 .3 1-.6 1.1-2.2-1.1-.2-.5 .4-.4 1 0-.5-.6-.5 .4-1 .1-1-.7-.5 0-2.1 1.2-.4 1 .2 .5 .8 .4 2-.3 .5 .2 .1 1.7-.8 1-.4 0-.1-1-.8-.9-.5 0-1 .5-2-.2-1.9 2.6-.6 .4-.5-.2-.3-.7 .3-2.5-.5-.5-1-.2-1.6 .7 1.1 .3 1 .7-.5 1.3-1.5 .1-.9 .6 .6 .5-.2 .7-1.5-.2-2 1.1-1.1-.1-.4-.5 .3-1-.3-.4-.5-.1-1 .4-1.5-.5-.5-1.4-.5 0-.2 .5 .2 1.1-1.3-.1-.7-.9-1 .9-1.5 .4-.1 1.1-.9 .4-1.5 2.3-.5 1.6-2 1-1-.6-1 .2-2-2-1 .1-.5-.5-.1-1-2.9-1-.6 .5 0 1.5-.3 1 .4 .6 1.2-.1-.2 1-1 .1-1 1.4-.6 1.5-.9 .2-1.5-.4-1 .7-.6 1.5 .4 1-.7 1 .3 1.5-.4 .1-1.5-1.1 .1-1-1.6-1.9-1 .1-2.1-.7-.2-.5 .3-.5-1.5-.1-.5-1.1-3 .9-.8-.2-.7-.8-.5 .3 .4 .5 .4 2-.3 1.2-.4 .3-.1 1-.5 .2-1.3-.7 0-.5 .5-1-.1-.5-.6-.4-2.5 .7-.5-1-2-.6-1 .1-1.5-.6-.3 .8-1.3 1-.5 2-2.4 1.3-2.2-.3 .7-1-.5-.8-.5 .2-.5 .7-1.5 .4-.5 1.2-1.5-1-3.5-1.3-1 .1-1-.7-3 .9-.6-.2-1.9-1.4-2.5 .8-1.5 1.5-1-.3-.5 .4 0 1-1 .3-.9 .7-1.1 0-.8 .5-2.6 .5-.6 .7-1.8 .8-.3 1-.9 .6-1.5-.5-.6 .9-2.5 1 .1 1-.5 .7-1 .1-1-.7-2.5 1.1-2.5 2.4-2.2 1.4-.4 .5 .5 1-.4 .4-1.5 0-1 .8-1.5 .1-1 1.2-1.5 .2-2 1.4-3.6 1.4-3.3 2.5-1.1 1.3-2 .6-.9 1.1-1.1 .1-1 1.4-1.5 .2-1.5 1.3-2 .9-1.5 1.3-1 .4-2 2.4-1 .1-1-.6-.5 .5 0 1.2-2-.1-3.5 1.6-4 4.1-.5 .2-1-.3-.5 .3-.3 1-2.1 1.5-.6 .9-1 .2 0-.6-1.5 .4-.8 .6-.1 1-3.6 2.3-2 .3-1.5 1.4-1.5 .2-1.5 .8-2.7 2.5-3.7 2-1.8 2-2.5 1-1.7 1.5-2.1 .5-.3 1.5-1.2 1.2-.5 .2-1.5-.3-1 .7 0-5.3 .7-1 .3-1.6 .5-.4 .5 1.3 .5 .2 2.7-1.5 .5-.5 .3-1.5 1-1 .5 0 .5 .5 .5-.1 1.2-1.4 1-.5 .5-1 1.3-1.1 1.5 .6 2.5-1.5 .3-.5-.3-1 2-.2 1-1.1 1 .1 2.2-1.8 1.3-2 1.5-.5 .1-.5 .4-.2 1.5 .2 1-.5-.1-1 .6-.9 .5-.3 1.5 .4 1.5-1.1 .5-.9 1.5-.3 3-2 1.4-1.9 .1-1.7 .5-.3 2 .2 1.5-1.2 1-.1 1-.9 1.8-.5 .8-1.5 .9-.6 3-.8 1.5-.8 2-2 2.3-1.3 .2-1.2 1.5 0 1-.8 1-1.6 2-1.1 1-1.2 1.5-.8 1.5 0 .4-.3 .1-1.1 2-.1 .7-.8 0-1 .3-.3 1 .1 2-2 1 .4 .6-1.7 .4-.3 1 .5 .5-.2 1-1.3 1.7-.7 .3-.5-.1-.5-1-1 .6-.5 1-.3 1.5 .7 1-.2 2.2-2.2 .9-.5 .3-2 1.1-.4 1.4-1.1 0-.5-.4-.7-1.9-.8-.1-1.5-.8-1-.2-1.3-.5-.1-.3 .4 .2 2-.4 1.3-1.5-.6-.9-2.2-.2-1 .6-.3 1.7-.2 .2-.5-1.1-1-1.5 .5 .1 1-1.4 .7-.5 0-.2-1.2-.8-.7-1.5 1-.3-.8 .3-1.1-4.5 0-1-1.1-1.5 1.2-.5 0-.3-1.5 1.3-1 .5 .4 .1-.4-.6 0-1.1-2 .6-1 0-.5-.5-.6-.6 .1-.2 .5 .1 1-.3 .6-.5-.2-.7-1.4 .4-1-.2-.2-2.3 3.2-.7 .4-.6 .1-.4-1-1-.4-.5 1.8-.5-.3-.1-3.1-.9-.6-1 .6-1.5-.4-1 1-1.5 0-.5-.6 .4-1.5-1.7-1-.2-1.5-.5-.2-1 .5-.5-.1-1-1-1.8 .8-.9 0-.4-.5 .9-1.5 .2-1.5-.5 0-.6 1-1.1 .5-.8 .9-1 0-.5-.9 .2-1.5-1.3-1 1.1-.8 1 .1 .4-.3 .2-1 1.9-1 .1-1 1.3-1.5 1.6-.8 1 .2 1.5-1.4 .5-.1 .5 .6 .1 1-.4 1 .3 .4 1-.7 2.3-.7 .7-.5-.1-.5-1.3-.5-.4-1.5 .8-.7 1.3 .7 .2 1 .1-.5 .9-.5 2-.2 .9 .7-.4 .3 0 .6 .5 .1 .4-.5-.3-.5 2.4-2.5 0-.6-.5-.3-2-.6-.1-.5 .6-.4 2.5 .3 1.5 1.6 .5 1.4 2 0 1-.3 .6-.6 .5-3 .5-.5 .1-1 .3-.5 1-.6 1.5 .7 1-1.3 1.5 .5 .3-.8-.5-.5-.1-.5 .3-.6 .5-.1 1 .9 1.5 .3 1 .7 1.5-.2 .4-1 1.1-1.4 1 .3 1.5-.4 2-1.8 .5-.1 1.5 1.1 .5 .8-.2 .5-.9 .5-.5 1 1.6 .7 .7-.2 .1-1.5 1.5-1 0-1 .7-1 0-.5-.7-1 .2-.3 1.1 .3 .4 1.5-.5 .5 .4 2 .6 .1 .9-.6 .2-.5-.4-1 .2-.5 1.6-.9 1 .1 1-1 .5-.1 1.3 1.4-.1 .5-.7 .7-2-.3-.1 .6 1.6 .8 .4 1.7 .6 .4 .5 .1 .5-1.1 1 0 .8-1.9-.3-1.7 .5-.6 1 .8 .5-.1 .9-2.4-.5-.5 .5-1.5 0-2-.5-1-1.5-1-.1-.5 .5-1-.5-2-1.1-1 .8-1 1.5 0 0-.5-.5-1-.5-.3-2.1 1.3-.4-.5 .4-2-.2-.5-2.2-.6-.2 .6-1.3 1.1-2 1.1-1.5-.3-.5-.4 0-.5 1 .2 1-.6 1 .1 .2-.7-.2-.5-1-.1-.3-.4 1.2-1-1.9-3.5 0-.5 .7-.5 1.8-2.8 .5-.2 2.5-.3 .4 .3 .2 1.5 .4 .5 1.6-.5 .2-.5-1.4-1 .1-1 .5-.6 1.5 0 .6-1.4 1.4-.9 1.5 .4 .4-.5-.2-1-1.2-.1-.5-.4 .2-.5 1.3-1.4 2-.6 .5-1.1 1.5-.7 1.5 .1 1.5-.8 1 1.6 1 0 1-.5 2-.4 1 .6 1 .2 .2-1-.4-.5-1.3-.3-1-.7 .5-.2 1 .6 .8-.9 0-1 .7-.9 .9-.1 1.1 .5-.2 .5 .2 .7 .4-.7-.4-.5 1-.8 .5 .1 .4-.3 .4-1 1.7-1.7 .5 .2 .7-1 .8-.2 .5 1.4 1.5-.7 1-1 1 .1 1-.4 1.1-.7 .9-3.3 4-.4 .5-.3 .5-1.5 .5-.2 1.8 .2 .7 .9 1.5 .2 .5-.3 .5-1 .5-.2 1 1.1 .2-.2 0-1 .3-.2 1-.1 1 .6 .7-.3-.1-1 .4-.1 .5 .6-.2 .5 .2 .5 1 .6 .5 1.2 .5 .2 .4-.5-.1-1-1.1-1 .1-1 1.2 .6 1.5-.5 .3 .9 .7 .2 .6-1.2 .4-.3 1 .5 2-.4 1 1 1.5 .8 1-.5 .5-1.3 1.2-.3 .2-.5-1.2-1 .8-.3 .5 .5 1.5-.1 .7 1.4 1.2 1-.4 .6-1.4-1.1-.1-.7-.5-.2-.5 .3 .3 1.1-.3 1.5 .5 .8 .5-.1 1.5-1.2 1.5 .2 2-1.1 2.5 .9 .2 1-.7 1.2 2 .8 2-.3 1.7-.7 .8-1.2 .5-1.6 .5-.1 1 1 .6-.1 .8-1 .6-.2 1 .8 2-.1 .5 .8 1 .2 .5-.5 0-1 .5-.3 .5 .2 .1 .6-.6 1 .1 .5 .4 .3 1-.1 .5-.7-.6-1.5 .6-.3 2 1.3 1.5-.3 1.5 .9 1 1.2 1.5-.3 2.5 .7 .3-.7 .7-.3 1.5 .5 .5-1.2 .5-.1 1.4 .6 .4 .5-.1 .5 1.3 1.4 2-.5 .5 .4 0 .9 .5 .4 1-.9 1 1.4 .5-.4 2 .6 2 3 1 .5 1 1 2.5-.3 2.5 .5 1-.3 1 .4 1-.1 1-.5 .8-1.5 1.7-.1 1.2-.9 1.8-.7 1.5 .1 2-1.8 3-1.8 1.5-1.6 1 .1 1.4-.8 .2-.5-1-.5 .4-.5 1.5-.7 2.5 .3 1.4-1.1 .6-1.1 1.7 .1 .6-.5 .2-.8 2.1-1.2 1.9-1.7 1.5 .1 1-2 .5-.2 1.5 .5 1-.7 .1-1 1-2 1.9-.8 1.5 0 2-2 .5 .7 2-.4 .5-1.3 1.5 .5 .9-1.2 2.1-1.1 1 0 1.5-1.2 2.5-1.3 1.8-1.9 .7-1.2 2.5-1.1 1.5-.2 2-.7 .6-.8 .3-1.5zM250.4 122l-.5-.5-.9 .5 .1 .5 .8 .2 .5-.2zM252.7 124l0 .5 1.2 .9 1.4-.4-1.4-1.6-.9 .1zM271.5 103.5l.4 .5 1-.2 .7-.8-.2-.4-1.9 .4zM274.9 109.6l1.8-1.6-.8-.3-1.2 .3zM126 105l.9 .8 .5 0 .3-.8-.3-.3-1 0zM126.9 117.5l1 1.2 .5 .1 1-.8 .5-.1 .5 .4 .5-.3-1.5-1.4-1.5-.2-.8 .6zM133.6 117.5l.2 .5 1.1 .2 .5-.2 .1-.5-.6-.7zM149.4 101.5l0 .5 4 1.2 1 0 .7-.7 0-.5-.7-.6-2.5-.2zM173.4 60.9l0 .9 .5 .5 1.5 .4 .5-.7 0-.8-.5-.5-.5-.2-.5 .4zM179.1 89l1.3 0 .3-.5-1.3-.1zM192.9 52.5l-1 1 .3 .5 .7 .4 .7-.9-.2-.8zM205.6 132.5l.4 .5 2.4 .3 .3-.3-.2-1-1.1-.5zM208.4 128.5l-.3 .5 1 1-.2 1.6 1 .6 1-.2 1 .7 1-.6 .2-1.1-3.7-2.8zM211.4 42.6l-.3 .4 .2 1-.4 1 .5 .8 .5 .1 1.1-2.4zM223.9 41.2l-1.3 .3-.2 .4 .5 1.3 .5 0 .5-.4 .3-1.3zM225.8 129l-.6 0-1.8 2.5 0 .5 .5 .5 1-.1 .5-1.3 1 .3 .3-.4 0-.5-.7-.5zM235.4 125.4l-.7 .6 .2 .9 .5 .7 .3-.1 .3-1.5-.1-.5zM275.4 110.4l-.1 .6 1.1 .5 .6-.5zM149.6 123.5l-.2 .5 .5 1 .5 0 .4-.5-.2-.5zM192.6 134.5l1.3 1.3 .4-.8-.2-.5-.7-.5zM221.4 130.5l-.5-.3-1 1.1-1 .5-.9 2.2 .4 .4 2.5-2.2 .3 .3-.1 1.5 .3 .2 1-.5-1.2-2.2zM230.9 125.5l.5 .7 1 .4 .8-.6 .1-1-1.4-.5zM290 41.5l-.6 .5-1.2-.5 .2-.4 1-.2zM169.4 79.7l2 .8 1 1.5-.5 .4-1-.6-.8 .2-.1 .5 1.1 1-1.2 .4-.3-.4 0-1-.6-1 .1-1.5zM166.9 81.3l1.4 .7-.3 1.5-.6 .6 .2-1.1-.7-1zM172.2 86.5l.7-.7 1.2 .2-1.2 .8-.5 0zM168.9 87l.5-.9 .5 .2-.1 .7zM253.9 91.3l.6 .2 .9 2.7-.5 .3-.5-.5-.3 .5-.7 .1-.4-.1 .7-.5 .7 0 .2-.5-1.1-1.5zM270.2 98l.1 .5-1.9 1.4-.5-.3 .3-1.1 1.2-.7zM270.9 99.7l.7 .3-.2 .9-.7-.4zM125.6 101l.2-.5 .6-.1 1.4 .6-.4 .5zM288.9 114.6l.5-.1 .5 .5-.5 1.1-1.1-.6zM120.4 118.5l1-.3 .3 .8-.8 .4-.5-.4zM483.1 185l-.8 1.5 .1 1.5-2.5 2-2 .7-.7 1.3-1.4 1-.7 2-.6 0-.6-.6-.5 .3-.6 .8-.4 1.4-1.5 .2-.6 .9-1.9 1.2-.5 .8-1 .6-1 1.9-1.3 1-2.8 0-2.4 2.5-.5 1.4-1.5 0-1 1.8-.5 .2-1-.7-.5 .3 0 1.3 .4 .7-.9 .6-.6 .9-1.4 .3-1.5 .8-1.5 .3-.4 1.1-.6 .5-1.5-.1-2 1.2-1.5 .4-3.2 2.5-.3 1.1-2.5 1.4-.6 1.5-1.9 .7-1 0-.4 .3 .6 1 0 1-1.2 1.4-1.5-.1-1 .5-.4 1.2 0 .5 1.1 1 .8 1.5-1.4 1 .2 1-.4 1 .6 .3 1.5-.8 .3 .5-.3 .9-1.5 .4-.5 1.2-.9 .5-.2 .5 .6 .8 1.6-.8 .1 2 .9 1-1.1 .1-.5 .4 .7 1.5-.2 1.4-2 0-2.5-1.5-2.1 .6 1.6 2.2 1.5 0 1.5-1.1 .8 1.9-.5 .5 .7 1.6 2 .6 1.7-.7 .6 .5 .2 .9 .5 .5 .7-.4-.2-1.5 .6-1 .9-.2 1.5 .6 .4-.4 .3-2.5 2.3-.9 2 0 .5 .4-.3 1 .8 .5 1-.4 1.1 1.9-.3 1-1.1 1 1.7 1 .3 1.5-1 .5 .8 1.3 .5 .2 .6-.5 .9-3.4 1.2 .4-1.2 1.4-.5 .1 0 .5 1 1-.2 1 1.2 1 1-.5 1.5 .3 .2-.3-.1-1 .9-.8 .9-.2 .6-2.1-.5-.3-2 .6-.9-.2 .1-1 .8-1.1 1 .4 5.5-1.2 .7 .4 1.2 2.5 0 2.5 1 0 .2 1.5 1.1 1-.1 1.5 .9 .6 1.5-.1 1-.8 1.8-.7 .2-.8 1 0 1.1-1.2-.2-1 .6-.3 1.3 .3 .3 .5-.3 1 .7 .6 .8-.6-.4-1 .6-.2 2 1.5 1.5-.4 .2 3.6 .3 1 .7 0-.3-1.5 .6-.3 .5 .2 .5 1.1-.5 1 1 1.1 .6-.1 .4-1.6 2-1.3 1-.1 .1 1.5 1.4 .1 1.5-.9 0 15.5-2.5-.9-.5 .1-1.5 1.7-1.5-.9-.5 .3 0 .5 .5 .5 0 .6-2-.5-1.5-.8-1 .6-.4-.4 .4-.9 1 .1 .3-1.7-.3-.5-.5-.1-.5 .3-.1 .8-1.9 .5 0 .9-.2-1.4-.8-.4-.5 .2 .5 1.7 1 0-.2 1-2.8 1.9-.5 0-.5-.4 .7-.5 .1-.5-.3-.4-1.5-.7-.8 .6-.7 1.7-.5 .3-1.8 0-.2 1-.5 .5-.5-1.3-.5-.2-1 1.1-1.5 .4-1.1-1.5 .1-1-.5-.3-1 1.2-1 .2-.8-.6-.2-.5-.5 .2-.1-.2 .6 0 0-1.2-.5-.2-1 .2-1.5-.8-2.5-.1-.5-.4-.5-.9-1 .8-.1 .6 .7 2-1.6 2.2-1.5-.7-1 0-.5-.5 .1-1.5-.6-.3-.5 .3-.8 2-2.1 0-.4 1-.7 .6-2.5 .5-1.6 1.4-1.4 0-1-.7-3-1-1.2 .2-.8 .9-.5 0-.5-.8-1.5 .2-1.5-.6-.7 1.8-.1 1.5 .3 .6 1.5-.1 .4 .5-.4 .3-1 .1-1.5-.7-.4-1.2 .4-1-.5-.7-1.1-.3-1.9-1.5-.2-.5 .8-1.5-.2-.5-1-1-.9-.1-1.4 2.1-.4 1.5-1.7 .1-.1 .4 .5 1-.4 .7-2 .4-2-.5-.5 1.1-1-.1-.3 .4 0 1.5-.7 .5-2 .1-.7-1.6-.8-.3-.7 .8 .5 1.5-.2 .5-.9 1 0 1.5-.7 .7-.5-.5-1.5-.3-2.5-2.1-.8-.3 .3-.2 1 .3 .6-.6-.6-.6-1-.3-1.5 1.9-1.5 .2-.9 .8 0 1-.6 .9-1 .1-1-.5-1.5-.1-1.5 .6 .9 2-.4 .4-.5 0-.7-.9-.7-1.5-1.1-.4-2.3 .9 1.2 1.5-.4 .4-1-.1-1-.7-.1 .9 .6 1-3-.7-.3 .2 0 1.5-.7 .2-2-.5-.5-.7-1.5-.2-.3 .7 .5 .5 .2 1.5 1.5 2-.4 1.4-.5 .5-1.5 .2-.7 2.4-1.3 1.4-1.8-.9-.2-1-.5-.3-.5 0-.9 .8-2.1 .4-1 2.6 .3 .5 1.2 .1 .4 .4 .1 1 .5-.1 1-1.1 .9 .2 .1 .5-.9 1 0 1.5-1.6 1.2-.1 .3 1 1-2.2 1 .6 1.5-.8 2.1-.5 .1-.5-.5-.5 .1-.5 .4-1.5 .5-.6-.2 .1-.5-.8-.5-1.7-.4-1-.6-.1-.5 .6-.4 0-.6-1-1.6-.4-2.4-.7-.5-1-2.5-.4-3 .5-1-.5-.5-.4 .5-.6 .1-1.5-.5-.5 .6-.1-.7 1.2-1-.5-1-1.6 0-3-1.5-.8-1-.2-1.1-1 .2-1-.3-.3-.8 .9-.5 .1-.5-.2-1.2-.5-.1-.5 1.2-.5 .2-1-.9-1.5 .4-1.2-.1-2 1.5-.2 1 .6 1-.2 .8-1.2-.3-.3-1-.7 .5-1.3 2.1-3 1.4 .5 1.1-.5 .1-1.5-.9-1 .1-3.5 1.5-.6 2.1-.4 .4-1.5-.7-.7 .8-.8 .2-.3-.7-.7-.3-.5 .3 .5 1-.1 .5-.4 .1-1-.8-1 0-.5 2.7-3 1.6-1.3 .4-.1 .5 .6 1-.2 .3-.9-.3-.6-1.5-1-.2-.8 .7 .6 .5 .1 .5-.9 .5-.6-1-1.4 0-4 3.7-1-.4-1.2 .7-.3 .5 .5 1 0 .6-1.2-.6-.3-1.3-1 .2-.5 .7 1 0 .4 .4-.9 1.3-1.5-.1-.5 .3 0 .4-1-.6-2 1.2-1 1.7-1 .5-2.5 .2-.7 1.1-2.2 1-.6 1.3-1.5 1-2.5 .7-2.5 1.4-.9 2.1-1.1 .4-2.5 2.8-1 .2-1-.5-2.7 1.1-1.2 1.5-.1 .5-1 .6-1.1 1.4-.5 2-.3 .5-1.1 0-.3 .5 .7 1-.1 .5-2.8-.3-.6-.7-2.4 .1-1.5 1.2-1.5 .2-.7 .5 0 .5 1 1.5-1.3 .5-1.4-.5-.1-.6-.5 .1-.4 .5 .5 .5-2.6 1.4-1 .9-1-.2-1.4 .9 .6 1-.2 .6-.5 .3-2.5-.4-1.5 .8-2.5 2-.6 1.2-.2 1.5-.7 .7-.4-.2-.2-1.5-.4-.4-1.3 .9-.2 1.1-.5 .1-1-.5-.5 1.7-.5 .3-1.5-.8-2 .6 1 1-.5 .5-1-.3-1.5 .5-.5 .3 .1 1.5-.3 1-1.3 1.5-1.5-.3-.9-2.2 .7-2.5 1-1 .2-.9 1 0 .7-.6-.1-1 .4-.3 1.2-.2 1.6-1.5 1-1.5-.3-1.1 .5-.2 1 .7 .5-.3 .5-2.6 1-.6 1 .2 0-1.1 .5-.4 1.5 .6 2-1 1.7-1.7-.2-1 1-.3 .7-.7-.3-1 .1-.5 1.5-.8 .5 .7 1 0 1-1 1.7-.9 .3-1 2.5-1.1 3.2-2.4-1.7-.4 0-1.1 .5-.3 1 .4 1.5-.3 .3-.3-.3-1 .3-.5 1.2 .3 2.1-.8 1.4-2.7 .5-.3 1 .3 1.5-.7 .5-1.1 2.1-.5 .7-1-.2-1 .4-.2 1 .1 1-.9 .2-1-.2-1 .5-.2 1 .6 .5-.2 1-1.3 1-.5 1.5 .6 .6-1-.6-.5 .2-1 1.3-.4 2-1.6 1.5 .5 .5-.3 1.5-1.5 3-1.6 .4-.6-.8-1-.1-.5 2.5-1.8 1 .5 1.2-.7-.7-1 4-1.4 2-1.5 .8-1.6 1.2 0 1-1.6 1.2-.4 0-.5-1.2-.4-.3-.6 .4-.5 1.3-.5-1.4-1.2 .3-2.8-1.1-1 0-1-.5-1 .3-.5-.3-.5-1.1 0-.9 1 1.8 2.5-1 1.8-1 .2-.1-.5 .6-.7 .2-.8-.2-.5-1-.6-.5-1.1-.5-.2-1 .9-2 .2-1.5-2.3-1 .1-1-1.3-2.5 .7-2.5-.4 0-.7-1.8-.3-.6-1.5 .4-.3 1.5 .5 1-.2 1 .8 1 .2 .2-.5-.5-1 .1-.5 .7-.3 1 .4 .7-1.6-1.1-1.5-.1-.9-2-1.5-.6-.1 .4-.5-.8-.9-1 .2-1-.4-2.5 .6-.7 1.5-1.6 1-.4 1-.8 .5-3.3 .5-.2-1.4-.5-.3-2 .5-.8 1.2-.7 .3-.9-.8-.5-1 0-.5 1.1-1-.2-.5-.5-.3-.5 0-1 1.6-.5 0-.6-.8 0-1 .6-1.4 1.6-.1-.6-.1-.5-.8 1-.9-.5-1-1.7 .8-.4 .5 0 1-.4 .3-1.5-.1-.5 .6-1-.6-1 .3 .5 .8 1.5-.2 1 .4 0 .5-.5 .5-1 .3-.7-.3-.8-.9-1.5-.1-.4-.5 .7-1-1.6-2-1.2 .6-.5-.5-1 0-.5-.9-1.5-.6 .5-.8 1 .3 1-.6 2.5 .6 0-1.1-2-.9-3 .2-1.5 .9-1-.9-1-.1-.4 .3 .8 1-.2 1-1.2 .8-1.6-.3 .4-1.5-.8-1.1-.6 .1-.2 1.5-.7 1-1.5 0-1-.5-2 .2-.5-.4-1 .2-.5-.5 0-.7 1 0 .5-.3 0-.7 .5-.5 1 1.4 1.2-1.2-1.7-1.3-1.5 .4-3-.3-3-1.3-.5 .5 .1 .5-1.1 .7-1 1.3-.5 .1-.7-3.1-1.3-.2-1 1.5-1.6-1.8-1.6-1-.2-.5 .7-1.5-.8-1.5-1.5 0-2-1-.7-1 .1-.5 1.1 .5 1.9-.5 .5-1.5 1.6-.1 1-.8 1.5-.3 1.4-1.3 .1-1 .5-.3 3 1.9 1-.4 .5 .1 1 1.3 2 .8 .5 0 1-1 1 1.3 .5 0 2.2-1.7-.2-.4-.5 .4-.5-.3 0-.7 1-.4 1-1.6 1-.8 1.5 .1 1.5-.8 .9 .5-.3 1 .4 .3 .5-.1 .5-.7 .5 .1 .9 .9-.7 1.5 2.3 .9 .6-.4 .1-1.5 .8-.4 .5 0 1.5 1 2.2-.1-1-1.5 1.6-.5 .7-1.4 .8 .9-.3 1-.7 .5 .2 .4 1 0 .5 .6-.4 1-.1 1.5 2 .5 1-1 1.5-2.5 1-.5 1 .1 2 1.5 2-1 .4-.6 .6-.3 4 1.1 2.3-.8 .3-.5-.1-1-1 .2-.7-.2 .2-.6 1 0 .3-.4 .3-1-.4-2 .3-.3 .7 .3 .8 1.3 .5 0 .5-1.6 .5 0 1.1 .8 .1 1.5-1 1 0 2 .8 .6 .9-.1 .2-.5-.2-1 .6-.4 1.5 .5 2-.4 .5 .4 .9-1.6 1.1-1.3 1.5 .4 .8-2.1-.4-1 .6-.1 .5 .8 1.5 .8 1.5-1.6 .5-.2 .5 .2 .1 .6-.6 1.5 2 1-.1 1 2.1 .1-.2-1.1 .2-.4 1-.2 1.1-1.4-.1-1-1.5-1.5 1-.3 1.1-1.2-.4-1 1-1.5-.1-1 .4-.3 1 1.1 1-.2 1-1.2 1.9-.9 .2-.5-.3-1 .7-.4 1 .4-.5 1 .4 1 1.1 1 1-.2 .3-.3 .1-1.5 1.6-.4 2-1.8-.3-3.3 .3-.2 1.2 .2 .8-.5-.5-1-.8-.5-.1-.5 .4-.7 2.5 .1 .2 1.1 2.3 .8 1-.9 .5 .1 .5 .5 3 .2 .5 1 2 .2 0-.7-1-.3-.3-.4-.1-3-.6 .1-.3-.6-.1-2.5 .2-1-.2-.5-1.6-.2-1.2-2.3 .2-1.1-1.7 .1 .2-1.1 .5-.4 .8 0 1.9 2-.3 1 .6 .2 .6-.7 .1-1 1-1-.2-2 .9-1-.3-1.5-1.6 1.2-1-1-.7-.2 .2-1.5-.1-1-.8-1 .4-.8 1.5 .8 .8-.5-1.3-1.7-1.5-.7-1 .5-1-.9-1.3-.2-.5-.5 .8-1-.7 0-.3 .5-2.5-.4-.2-1.6 .4-1 .8-.6 1-.3 1 .1 1.9-.7 .4-1 .7-.5 .8 1.5 .8 0 .4-.5 .2-2.5 .3-.5 1-.3 1-1.4 1-.2 .4 1.4 0 1-.6 1 .2 .4 1.5-.5 1-1.4 3 2 2 .3 .5-.3 .5-1-2.5-.9-1.4-1.1 0-.5 .8-.5 .1-.5-1-1.8-.4 .3-.9 0 .3-.7 1.5 .2 .5-1 3 2.6 .7-.1 1.3-1.2 1.5 .2 1.1 1 .7 1.5 1.2 .4 1.6-.9-.1-3.1 .5-.5 .2 .6 1.2 0 .8-1-.2-1-1 .1-.5-.8-1-.5-1 .1-2.5-2.2-1.5 .2-2-.3-.7 .4-.3 1.1-1.5-2.1 1.5-1.1 1.5-2.1 .9-.3-.2-1 .8-.4 1 .1 2-.8 .2-.4-.2-.4-1 .4-.5-.2 0-.8 .5-.7 2.5-.7 1 .5 1-.5 1.1 .4-.2-4 .6-1-.7-1.5 .7-.4 1-.2 .5-.6 .9-.3-.6-1 .4-3.5 1.8-1.4 .5 .1 .5-.4 0-.6-.8-1.2 .3-1.4 .5-.6 1 .5 1-.7 1.1-1.8 0-.5-1-.5 .6-1.5 .1-1.5-1-.5-.2-.5 0-2.5 .2-1.5 .6-1-1.8-1.5 1.6-1-.1-.5-1.6 .3-1.1-.3 1.4-2.5 .3 0 .9 1.4 .3-.4 .1-2-.4-.6-.5-.2-1 .3-.3-1 .7-1 .7-2.5 .4-.5 1-.1 .2-.4-.2-1 .6-1.5-.5-1 .7-1-.4-1 .2-1.5 .4-.6 1 .3 .9-1.2 1.1-.9 1-.2 .6-1.4 .1-1 .6-.5 .5 0 .1 .5-.4 .5 .8 1-.1 1.5 .7 1-1.4 .9 0 .6 .5 .4 1.2-.4 0-.5 .3-.4 .5 .2-.4 1.2 1.5 1.5 .4 2.1 .5 .4 .5-.2 1-.9 .9 .6 .1 .5-1 1.5 1-.1 .8 .6 0 .5-1.1 1 .1 .5 .7 .9 1 .6-.2 1.5-1.2 0-.2-.5-.2 1.5 .3 1.2-2 1.3-.3 .5 .3 1.1 .7 .9-.2 1.5 .7 1-.4 1-1.7 1-.1 .5 1.1 2.5-.1 1.5-.5 .6 1 .2 1-.5 .6 .2-1 1.5 .5 1.5-.2 1.5 .6 1.1 2 1.9 0 1-.8 1 .6 1 1.2 .1 .2 1.4 .4 1-.6 1.1 .3 .4 1.2-.1 1.5 .9 1.5-.3 .4 .5-.3 1 .6 .5 0 1.5 .9 1.5 .9 .4 1.5-.6 2 .1 .5 .6-.2 .5 .3 .5 1.6 1-.9 .5 .7 1-.5 .8-1 .1 .1 1.1-.6 1.1-1 .9 0 1-.4-.5 .3-.5-.4-.6-.5 0-.5 .4-1.5-.3-1 .5-.1 .5 .3 2 .3 .3 1-.9 .5 .1 1.2 1.5 .6 2.5 2.2 2 .5 1 1-1.1 .5 .1 1.4 1.5-.2 .5 .3 .1 .9-1.1 .6-3 2.5-.3 1-.7 .3 1.5 1.1 1 .2 1-.9 2 2.8-.2-.3 .7 .8 .7 .9 1.8 .2 2 .4 .4 1-.3 .4-.6-.2-1.5 .3-.6 1.2 1.1 .5 1-.2 1-2.1 1 0 .5 1.1 .9-.1 .6-.4 .2-1-.1-1.1 .9-.1 .5 1 1-.8 1.7-1 .6-1-.1-.4 .3 0 1 1.4 .5-.1 .5-.4 .3-1-.1-1 1.6-.4 .2-1.1-.6-1-.2-1.3 .8-.3 .5-.3 3-.6 .1-.5-1-1.1-.6-.4-1.9-.6-.6-.1-1-.8-.4-1.5 .6 0 .8 .5 1.1-1.6 .4 .6 1 1.5-.5 .3 .5-.8 1 0 .7-.5 .3-1-1.6-2-.5-.3 .6 .3 1-.1 1-2.7 1-.5 2 1.3 1.3 .5 0 1.3-.8-.3-1.5 .2-.5 1.3-.4 .5 .4 .7 1.5 .5 2-1.8 1.5 .9 2.5 0 .5-1.7 1.5-.1 1.5-.5-.1-.8-.9-.1-1.5 1-1 .1-1 .6-1-.8-.8-1.5 .9-.5-.8-1-.1-1 2.1-.3-1.8 .2-.5 .6-.3 .2-1.2-.8-2-.4-.3-.7 1.3 .2 2.3-.5 .3-1.5 0-.3 .4-.2 2.6 2 .2 .4 .2 .1 .5-2.5 1.2-.5 .7 0 1.1 2.5 .9 2-.7 1 1.4 1.5-.9 1 .2 .5 .4 .5-1.7 .5 .2 1 1.2 1 .3 .2 .7-1.5 1 .1 1-.8 .5-.2 .5 .7 .7 .7-.7 0-.5 1.8-1.7 2.5 1 .5-.3 .2-.5-.6-.5 .4-1.4 .5-.1 .4 1.5 .6 .1 .4-.6 .2-1.5 1.4-.5 1.5 .7 1-1.4 1.5-.1 1-.9 2-.1 .3-1.2 .7-1 1.5 .4 .5-.9 2-1.3 1.5 .2 1-1.1 .5-.1 1 .7 1 0 2-1.9 2.5-.1 .5-.9 .5 0 .5-.4 .5-1.3 1.5-.4 2-1.7 1-.5 .7-1.2 1.3-.5 1-1.5 3.5-.6 2.5-.9-.2-1 1.2-.3 1-2.2 .5-.4 .5 .2 .5 1.2 .5 0 .5-.6 1.5-.6 1-.9 1.5-.4 1.5-1.1 1.2-.4 2.3-1.7 1.8-.8 2-1.5 1.2-2.6 .5-.2 .4 .3 .1 .7 .5 0 1.5-.7 .6-.5 .3-1 1.4-.5 .2-.7 1 0 .5-.5 1-.1 1.4-.7 .5-1-.2-1 .3-.2 1 .4 .5-1.7 1-.3 1 .6 .8-.3 1.7-1.8 1.5-.3 .5-1.1 .5-.2 1 .3 2.1-.9-.5-1 .4-.2 .3 .2-.1 .5 .3 .2 .7-.2 .5-.5 0-.5 1.3-.6 1.4-1.4 1.6-.3 .5-1.5 2.5-.1 2-1.2 1.5 .4 .5-.4zM372.9 297.8l-.9 .7-.2 .5 .9 1 .2 1.4 .5-.1 .3-.8zM374.4 293.9l-.5 .2-.2 .4 .2 .7 .5 .2 .7-.4 .1-.5zM382.3 290l-.4-.1-.5 .3 0 .9 .8-.1zM383.8 284.5l-.2 1 .3 .6 1 .4 1-.3 .6-1.2-.6-.8zM397.4 283.3l-.5-.2-1.5 .8-.8 2.1 .3 .6 .5-.1 1-1.2 1.5-.4 .2-.4zM408.4 246.8l-.5 0-.5 .6 0 .7 .5 .5 .5-.1 .5-.7 0-.5zM423.9 233.7l-2 .5-1 .7 .1 2.1-1.3 1.5 1.7 .9 .5 .7 1.5 .2 1 1 3-1.6 .5-1.7-.1-.5-2.9-2.4-.5-1.2zM425.9 231.4l.2 2.1 2.1-.5-.3-1-.5-.3zM425.4 277.2l-.3 .8 .3 1 1 .6 .6-.1 .3-.5-.4-1.5zM432.4 277.9l-.7 1.6 .2 .8 1.2-.8-.2-1.3zM440.9 278l-.5-.2-.5 .4 0 1.1 .8-.3zM454.5 255.5l.3 .5 .6 .2 .5-.2 0-.5-.5-.5-.5 0zM457.8 255.5l3.6 1.6 .4-.6-1.4-1.5-1-.1zM471 273l1.4 .7 1-.2-.2-1-.3-.2-1.2 .2zM475.1 259l.8 .3 .5-.2 0-.6-.5-.4-.7 .4zM242.2 258l0 .5 1.2 .4 .5-.1 .4-1.3-.4-.5-.5 0zM243.8 260.5l.1 .5 1 .6 1-.2 .8-.9-.8-.7-1.5 0zM249 258l-.6-.2-.5 .3 0 1.1zM270.6 277.5l.2 .5 .6 .2 .9-.2 .4-.5-.3-.6-1.5-.1zM275.4 280.9l-1 1.1 .5 .5 1.1-.5zM305.6 248l-1.7-.4-.5 .5-.2 .9 .3 .5-.1 1.4 1-.3 .7-.6-.1-1zM305.4 246l-.3 .5 .8 .6 .8-.1-.1-.5-.6-.5zM306.5 249.5l.4 1 1.5 1.3 .8-.3-1-1 .2-.6 .5-.4 .5 .7 .5 .2 1.4-.9-1.4-.6-1 .6-1.5-1.1zM311.4 245.4l-.1 .6 .8 1.5 .3 1.6 .5 .1 .7-.7 .1-.5-.4-.5-.4-1.5zM317.6 238l1.4 1-.1-1.3zM321.9 237.4l-.3 .1 .3 1 .5 .8 .5-.3 0-.5zM325.1 245l-1.7-.7-1.1 2.7 .1 .5-1.5 .8-1-.4-.5 .1 .8 2 .7 .1 1.5-.6 .3-1-.3-1 1.5-1.3 1-.1 .8 1.4 .5 0zM324.4 237.1l-.7 .9 .7 .8 .5 .1 .6-.4 0-.5-.6-.8zM330.6 217.5l0 .5 .8 .5 .5 1 .5 .2 .3-.2-.6-1 .2-.5-.4-.7-.5-.2zM335.4 220.2l-2.6 1.3 .6 1.5 .5 .2 1.6-2.2zM335.6 227.5l2.3 1.7 1.5-.7 .5 0 1 .6 .6-1.1-.2-.5-.9-.5-1.5 .2-2.5-.6-.7 .4zM341.7 200.5l-.3-.5-1.2 .5 1.2 .6zM345.4 227.1l-.7 .4-.1 1.5 1.3 2 .5 .1 .7-.6 .8-1.5-1-.6-.5-1.2zM345.9 216.6l-.5 .4-.1 .5 .6 .7 .7-1.2zM354.9 165l-.6 1.5 .1 .5 .5-.1 .6-.9-.1-.7zM409.4 281.6l-1 .4 0 .5 .5 .4 .6-.4 .2-.5zM304.4 287.5l-1.3 .5-.7 1.4-1.1 .1-.1 1 .4 1.5-.9 1 .3 1.5 .9 .6 1.6-1.1-.2-1.5 .8-1.5-.2-1 1.3-2zM321.4 242.5l-1-.2-.5 .5-.5 .1-1-.8-.8 1.4-.2 1.2-1.5 .9-.3 .4 .1 .5 1.1 1.5-1.6 1 0 1-.9 2 .1 .5 1.5-.5 .5-2.8 1-1.2 1.2 0-.4-1 .2-.9 2.5-1.5 .7-1.6zM331.9 222.3l-1 .2-.5 2.1-.5 .8-1.5 .1-.2 1 1.5 2.5 1.2 .5 .5-.1 .5-.9 1.5-1 .7-1.5-.7-.4-1.5 .3-.5-.4 1-2-.1-1zM334.9 244.6l-1.2 .9-.1 .5 .8 .7 .9-1.2zM340.5 203.5l-2.1 1.4-1.5-.3-.5 .2-.5 .7 .1 .5 1.4 .9 1.5-.8 1-.1zM245.4 129.3l-.5 .8-2.2 .4 0-.5 1.7-1.2zM200.3 137.5l1.1-1.1 1 .6 1-.8 .7 .3-1 2-1.2 .5-1.5-1zM183.7 138l.2-.4 .5-.1 .7 .5-.7 .5zM206.4 138.2l.5 .2 .3 .6-.3 .6-.5-.1-.4-.5zM163.9 143.8l1.1 .7-.6 1-.7-.5-.1-1zM337.9 186.4l0 1.6-1 .7-.2-.2zM384.3 189.5l.2-.5 1.4-.5 .4-1 1.6-.7 .6 .7 .1 1 .9 2-.6 .3-1.5-1.3-1 .2-.5-.3-1 .6-.5-.1zM335.9 191.2l.2 1.3-.2 .7-1.5 .6-1-.5-1 .1-.9 .6 .6 1.5-.9 1 .4 1-2.2 1.9-.1-.9 .6-.1 .9-1.9-.9-2.5 .4-1 1.4-1 .6-1 1.1-.7zM382.5 192.5l.4-1.4 1.5 .1 .5 .8-.9 1-.6 .2-.6-.2zM387 192.5l1.4-1.4 1 .4-2 1.4zM326.4 220.5l.5-1 1 .5zM321.9 223.3l.4 .2 .2 2.5-.6 .4-1.6-1.4 .1-.5zM320.4 227.9l1.5-.4 .5 .9 .3-.9 .7-.5 1.5-.4 .5 .2 .9 1.2-.1 2-.3 .5-1-.7-.5 .1-.5 1.6-.5 0-1.5-1-.7-1-1.3-.3-.2-.2zM385.9 230.1l.5 .3 .2 .6-.2 .9-.5 .3-.5-.4-.1-.8 .1-.7zM431.9 237.3l1 .7 0 .7-1-.3-.2-.4zM436.6 245l.8-.2 .3 .2 .2 1.2-.5 .2-1-.9zM435.4 245l.4 .5-.4 .9-.6-.9zM294.9 247.4l.3 .6-.2 1-.6 .3-.5-.2-.3-.6 .3-.7zM298.9 250.2l.5 .8-.5 .6-.4-.1-.1-.5zM284.9 251.9l1.6 .6 .1 .5-.7 .7-1-.7-.2-.5zM261.9 252.7l2.2 .3 .1 .5-.5 1.5 0 2-.3 .3-.5 .1-.4-.4 .3-1.5-1.7-2 .2-.5zM254.6 254l.1 .5-.3 .3-1-.1-1.5 1.9-1.2-.1 .7-1.5 1.4-.5 .6-1zM248.7 254.5l.7-.1 0 .9-.5 .1-.4-.4zM267.4 254.9l.6 .1 .2 .5-.3 .7-.9-.2 0-.5zM483.3 256l1.1-.8 2 1.2 1-.1 .5 .7-.5 .1-1-.4-.5 .5-.5 .1zM239.7 256.5l.1 .5-.4 .3-1-.2-1.5 1.4-.5-.5 .5-1 1.5 0 .7-.5zM481 257.5l.4-.6 1 0 .5 .5 1.1 .1-.1 .5-1.5 1.4-1-.7zM206.7 263l.4 .5-.2 1-.5 .6-.6-.6 .2-1 .3-.5zM211.4 263l.5-.3 1.1 .3-1.1 .7zM201.4 265.9l.5 .2 .1 1.4-.6 .3-.4-.8zM233.4 271l.5-.4 .7 .9-.7 .2zM227.6 273l.3-.4 .5 .1 .3 .8-.8 .1zM250.8 275.5l1.1 0 .4 .5-.9 .7-.5-.3zM442.9 280.8l.6 1.2-1.1 1.1-1.5 0 0-1.2 1-.3 .5-.7zM418.7 283l.1-.5 .6-.3 1.2 .3-.2 .6zM430.9 282.2l.5 .2 .1 .6-.1 .4-.5 .1-.5-1zM396.9 288.9l.7 .6 0 .5-.7 .5-.5-.5zM294.3 294.5l.6-.7 .8 .2-.1 .5-.7 .3zM341.4 295.8l1-.1 .4 .3 .1 .5-.5 .8-.5 .2-.5-.3zM347.4 297.3l.8 .7-.1 1-.7 .8-.6-.3 .3-1-.4-.5 .2-.5zM344.9 298.2l.6-.2 .6 .5-.1 .5-1.1 .1zM354.4 303.9l.5 0 .6 .6-.1 1-.5 .3-.8-.3-.3-.5zM235.1 348.5l.8-.1 .3 .6-.8 .3zM372.1 8.5l-.2 .4-1 .3-3 2.1-1 1.4-2 .3-2 2.1-1.5 .3-1 1.4-3.5 1.1-3.5 2-.5 1.6-.5 .3-1.5-.2-1 1-2.5 .9-3 1.8-3.3 2.7-3.7 2.2-1.1 1.3-2.4 1.3-1.5 2.2-1.5-.1-.5 .7-1.5 0-2 1.1-.9 .8 0 .5-1.6 .8-.5 .9-1.2 .8-.8 1.5-1.5 .6-1-.2-.5 .6-.2 1-1.3 1-.5 .2-1-.6-2 1.4-1.5 .3-2.6 1.7-1.5 1.5-2.3 1.5 .4 1-1 1.5-1-.9-1.5 .2-.6 .7-.4 1.1-1 0-1 .6-1.5 .4-5 3.1-1.5 1.9-2 .6-1.5 1.4-3.2 1.9-.5 .5 .1 1-2.4 .9-2.3 2.1-.9 1.5-.8 .2-1.5-.6-3.3 1.4-1.2 1.5-1.5 1-.8 1.5-3.3 1.5-.8 1-.1 1.3-2-.1-.5 .2-1 1.5-1-.1-3 2.6-1-.1-2 1.1-1 1.4-.8 .2 0 1-.9 .5-.2 .5 .3 1-.2 .5-1.7 .2-.7 .8 1.3 2.5-2.1 .9-1.2-.4-.2 1 .5 1-1.1-.1-.6 .6 .1 1.4 1-.4 1 3.3 .5 .2 2-.1 .5 .2 .8 1.4-.3 .3-1.5-.1-.3 .3-.3 1 .4 .5 1.2 .5 2-.2 1 .5 1.5 0 1.3 .7 1.5 1.5 1.7 .8 1.5-.6 1-1.3 1.5-.9 1.2 0 .3 .5 .5-.1 .5-1.4 1-.4 2-.3 .5 .2 .6 1.5 .4 .2 2-.2 1-.4 1 .8 .7 .1-.7 1.5-2.4 .5 .3 1-.2 1.5-.7 .7-.1 1.3-.7 1.5-1.2 .4-1-.7-1.8 .3 .3 .9 1.4 1.1-.9 .8-.2 .7 .3 1-.6 .3-1-.5-1 0-.5-.3 0-.5-1-.1-1 .9-1.2 .2-.1 1-2.3 1.5-.1 .5 1.2 1.4 .1 .6-.6 .4-.4 1.1-.5 .5-.6-.5 0-.5 .8-1.5-.5-1-1.8-.9-1 .5-1-.4-.5 1.8 .4 1-.4 .3-1.5-1.1-1-.1-1-.8-2-.8-1 .1-1 .6-2-.1-1-.5-.5 .3-1 1.6 .5 1.1-.5 .5-1.5 .2-.3 1.2-.8 .5-.4 1.5-1 .3-.2 1.7-.3 .4-1 .3-.4-.2-.4-1-.7-.3-.3 .3 0 1-.7 .4-1.1-.9 0-1 .6-.6 2-.7 .9-1.2-.1-.5-1.3-1.4-1.9-.6 .3-1.5-.9-.4-.6 .4-.1 1-.3 .4-1.5 .4-1.1 .7-.3 .5 .4 1.1-1.5-.1-1.1 1 .2 1.5-.6 1-.5-.1-1.8-1.9-.2-.9-.5-.6-.8 .5-.3 .5 0 1 .9 .5-1.2 3 1.2 1.5-.8 .7-.9 2.3 0 1-.6 1.6-.5-.1 .2-1-1.2-1-.2-.5 .8-1-.1-.5 2.3-1 0-.5-1.5-2 .2-1.5-.3-.5-.7 .2-1.5 1.2-.5-.3-1 2.7-.5 .8-.5 .1-1.5-.5-.5-.8-2 .3-.3-.2 1-1.5-.2-.9-.7-.6 .4-1.5-3.2-1.5-1 .1-1.3 .9-.9 1.5-.3 1.1-.5 .3-1-.6-.3 .2 .6 1-.8 1.1-1-.4-1.1 .3-.3 .5 .1 .5-.2 .5-.5-.1-1.5-1-.9 .1-.6 .8-1-.1-2-3-1 .3 .4 1-1.9 1.4-1.4-.9 .4-1-1.5-.4-1.4 1.4-.1 .5 1.1 .5-1.1 .3-1.5-.7-.2 .4 .5 1 1.8 1.5 .2 1.5-.3 .5-.5 .2-5-1.7-.4-.5 .8-1-1.4-.8-2.5 .6-.5 .7 1 .8 1.5-.6 .4 .3-.4 .7-2 .6-2.5-1.6-3 1.1-1 1-1-.2-1.2 .4-.7 1.5-.6 .6-1-.3-1.5 1.2-2 .3-1 .9-1.9 .8-.6 1.3-1-.7-.5 .1-1 .9-2.8 1.4 .5 1-.2 .3-.5 .2-1-.9-3.5 1.6-2 2-4 3-1 1.3-1.5-.1-1 1.3-1.5 .2-2.4 1.6-2.6 .9-4 2.7-1 1.4-2 .7-1 1.1-1.5 .1-.5 1.2-1.5 .1-1.5 1.4-1.2-.1-2.5 2.5-1.3 .5-1.3 2-.7 .4-1-.7-.5 0-1 .9-5.2 2.4-2.8 2.5-1 1.5-.5 .2-1-.3-.9 .6-.2 1-2.4 1.8-1-.4-3.5 2.1-.8 1.5-2.2 1.3-2 .3-1 1-1 .1-2 1.1-3 2.7-3 1.4-2.6 2.6-1.9 .4-2.2 1.6-2 1-.5 1.5-.8 .9-1 .2-1-.3-1 .5 0-4.4 1.5-1.5 1-.1 3.6-2.3-.1-1 .5-.8 .5-.3 1 .4 .5-.1 1.7-1.7 1.3-.5 .4-1 2.1 0 2.8-2 .4-.5-.4-.5 .2-.4 1.5 0 1-1.2 1.5-.2 2-1.7 1-1.6 .5-.3 2-.1 2.3-1.5 .2-.5-.3-.5 .3-.7 .5-.2 1.5 .3 1.4-.9 .7-1 1.4-.3 3.9-2.7 .8-1.5 .1-1.5 .6 0 .6 .5 2-.3 1.8-1.2 .7-1.2 2.3-.8 .6-1.5 1.1-.6 2.5-.4 2-1.3 1.5-1.6 4.7-3.1 1.6-2 1.7-.8 1-1.3 1-.2 1-.6 1 0 1.5-1.1 1.5-.3 .6-.7-.1-1 .4-.5 .6 .2 2-2 1 .2 .5-.4 .5-1.6 1 .6 .5-.2 1-1.3 2-1 .4-1-.9-1 .5-.4 .5 .1 .5 .7 2-.4 3.5-3 .1-1.5 .9-.1 1.7-1.4 0-1.5-.7-.7-1.3-.3-.4-.5 .1-1.5-.9-.9 .2-1.1-.8-.5 .8-1-.2-.7-1 .5-.5 0-1-.9-.5-.1-1.5 1-.5 1.2-.5 0-.3-1 .8-.8 .2-1.2-.7-1.6-.5-.2-.9 .8-.1 1.7-1-.5-2 .6-1-.5-1.5 .4-.7-.2-.6-1.5 .4-2-.6-.2-.7 .2-.5-.5 .4-3 .6-1-1-1.5 0-1.5-.3-.6-2-.5-1.5 .6-1-1-3-1-2.7 1-.2 .5 .4 1-.1 .5-.9 .8-.5-.2-.5-1.2-1-.5-.2 .1 .2 1.5 2.7 3-.1 .5-.6 .2-1-.5-1 1.1-1 .2-.7-.5 .5-1.5-.2-.5-1.1-.5-.5-1 0-.5 1-.7 .5-.9 .8-.4-.3-.5-1.5 .1-1 1.5-1.5 .5-3-3.7-1-.2-1 1.5-1-.2-1 1-.5-.2 0-.8 .5-.8 .8-.2-.2-.5 .9-2 1-.5 .7-1.5 2.3-1.8 .5-.1 1.3 .9 .2 1.1 1.5 .4 .5 .4 .8-1.4 .7-.6 1.5 .8 .4-.2 .1-.5 .5-.1 .5 .4 .7-.3 .9-1-.4-1-.9-.5-.1-.5 .8-.7 1 0 .3 .2-.1 1 .3 .5 1.5 .1 1 .9 3.2 0 .7-.5 .1-1 1.5 1.5 .9 0 1.5-1 .3-2 .8-.3 .5-.7-.5-1.3-.6 .3 .1 .8-.5 .2 0-1-.6-1 1.1-1.5 .1-2 .9-.7 .8 .7 .1 1.5-.4 1-.6 .5 .1 .7 1-.2 1.5 .4 .5-.4-.5-.8-1.3-.7-.1-1 .4-.3 1 .5 .6-1.2-.7-.5-.1-.5 .2-.3 1 .6 1 .1 .5-1.4 .5-.4 .5 0 2.5 1.1 1.9-.7 0-1 .6-.7 1 .1 2.5-1.2 .5 0 .1 .8 1 .5-.3 1.5 1.7 .6 1.5-.1 .5-.4 0-1.3 3-.2 2-.8 .6 .7 .3 1.5-.9 .6 .8-.1 .3-.5 1.4-.2 .6 .2-.1 .5 .5 .5 1.5-.8 1.5 .4 2.5-1.6-.5-.9-1-.3-.1-.3 2.1-2.5 1.5-.5 .6 .5 .2 1.5 .7 .5 1.5-.7 1-.1 .3 .3-.3 1.4-1.5 .1-.4 1 .4 .7 1 .2 1.4-1.4 2.1-.2 1-1.3-2-6.1-.5-.5-.5 .1-.3 1.5-1 1-.7 .2-1.1-1.2-.3-1.5-1.1-.3-1 .3-.5-1-.2-2-1.8-1.5 1.8-1.5-.3-.6-1.2-.4 .2-1.5 .8-1-.7-1.5-.1-1.6-.5-.4-1.4 .5 0 1-.6 .1 0-.8 .4-.3-.9-1.1-2.5-.8-.6 .4-.4 1-.7 .5-.3-1.5 .2-1-1.2-1.3-1-2.2 .5-.6 3 .3 .9-.7-.9-1.1-1 0-.5 .3-.6-.2 .8-1.5 1.8-.2 .6 .2-.1 .5 .7 1 .1 .5-.7 .5 .1 1 .3 .2 .9-.2 .3-1 .5-.5 .8-.2 .4 .2-.4 1.4-1.3 1.6-.1 .5 .4 .5 1.5-.5 1 .6 .5-.3 .5-2 .5-.4 1 .1 .5-.2 .5-1.2 1-.5 .3-.6 0-1.5-.3-.6-.5-.4-1 .7-.4-.7-2-1.5 .9-.9 1 .3 1.5-.4-.5-1.7-1.5-.8 1-1 2-.5 1-1 1 .1-.2-.6 .4-.5 1.3 .2 1-.6 1 1.5 1.5 .1 1.5-.7 1.5-.1 .4 1.1 1.1 0 2 1.2 1 .1 .5-.3 1-1.8 .5 .3 .5-.7-.5-.3-1 .4-.5-1.3-.5-.4-1.5 .4-1.1-.6 1-2.5 .6 .2 .2 1.3 .8 .6 .5-.3 .6-1.3 .9-.5 .6-1.5 1.4-1.7 2 .8 3.5-2.2 1.5 1.3 .5-.7 0-1 2.5-1 .5-1.5 1.1 0 .3-.5-.7-.5 0-.5 2.3-.6 1-1.9 1.5 .2 1 1.2 1 .2 1.5 .9 0-.5-.4-.5 .4-1 .5-.4 1.2 1.4-.5 1 .8 1.6 .3-.1-.1-4 .3-.5 .5 0 1 .7 1-.3 1.2 1.1 .8 1.9 1.6-.9-.4-1 .3-1.6 .5-.2 1.7 1.8 .8 .2 .8-1.2-.8-.3 0-.8 1 .4 2-.5 1.1 1.2-2.1 .6-.6 2.9 .6 .6 2.2-1.1 0-2.5 .3-.2 1.5 .6 1.5-2.1 1-.4 .5 1.1-.3 1.5 .8 .7 .5 0 1.5-1.3 1.4 .6 .1 1.1 1.5 1.1 3 0 1.5 .6 1.5-.3 1.5 .3 1.5-1.3 1-1.5 2.5-.8 1.5 .1 1.5-.5 1 1.3 1.5 .1 1.6 .8 .3 .5 1.1 .7 .5 0 .7-1.2-.2-.6-1-.4 0-1.5 1 .9 1.8-.4 .4 .5 1.3 .5 .7 1 3.8 .7 2 1.2 .7-.4 .2-1 .6-.5 .4-1 .6-.2 .5 .4 .4 1.3 1.6 1.4 2-.6 0 .8-.9 .4 0 .5 .9 1 1.5 .5 1.5 0 1-1 1.5 .3 .6 .7 .1 1 .8 .8 1 1.6 2.3 .6 .4 1 .3 0 .8-1 .7-.2 3 .3 2-.2 2.1-.9-.1-1.2 1 .1 2-.7 .5-.7 1-.4 1.5 .2 5.2-3.8 .8-1.1 2-.3 2.5-1.6 .3-.5-.7-.5 .4-.2 1 .3 2.4-1.1 .6-1 2-.4 .7-.6 .1-.5 3.7-2.8 1.5 .1 1.3-2.3 1.7 .5 1.5-1 .2-.5-.3-.5 1.1-2 1.5-.5 2.5 .2 .6-.2 .4-.7 1-.1 2.5-1.6 .5 .2 .8-.3 .8-1 2.9-1.3 1.4-1.2 2.6-1.3 2-1.9 1-1.3 2-1 1.5 0 2.5-1.3 .5-.7-.1-1 .5-.5zM260.4 115.9l-.8 .6-.4 1.5-1.4 1.5 1.6 .5 .4-.5-.1-1 .7-1 .2-1zM144.4 116l-1.1 0-1.1 1.5-.6 1.5 0 1-1.1 .5-.4 .5 .8 1 1.5-.2 1 .4 1-.1 2-1.4 .4-1.7zM145 100l.4 1.3 4.5 2.1 2 .4 1.5 .6 1.5-.4 .8-1-.2-1.5-1.1-.8-2-.4-1.5 .6-2.5-1-2-2-.4 .6 .1 1zM155.1 93l-.3 .5 .2 .5 .9 .6 .6-.6-.1-.5-.5-.5zM162.5 96.5l.5 1.5 1.8 2 .7 1.5 0 .5-1.2 1 0 .5 .6 .8 .5 0 1-.8 .2-1.5 .8 .1 .5 1.3 .5 .1 0-1 .5-1.5-1.3-2 .8-.9 1-.1 .8 .5-.2 1 .4 .6 1 .3 .6-.4-.1-1.1-.9-1.9-1.1-.7-.5-.1-3.5 1.3-1.4-.5-.3-1-.3-.2-1.1 .2zM183.8 55.5l1.1 .6 .7-.1 .1-.5-.8-.3zM186.9 93.2l-.5 .2-.4 .6 .4 .8 .5 .1 .4-.9zM202.4 45.8l-1 .4-.3 .3 .3 .5 .6 0zM210.7 42.5l-.2 3 .9 1.6 1 .9 2.5-.2 1.9-1.3 .1-1-.7-.5 0-.5 1.1-1.5-.5-1-.9-.1-.5 .3-.9 1.3 .6 .5 .2 1-.4 .6-1 .4-.9-.5 .7-2-1.1-1.5-.7-.2zM217.9 83l-1 .2-1.2 1.8 0 1 .7 .8 .5-.4 .4-1.9 1-.5 .2-.5zM224.4 40.1l-.5-.1-1 .9-2 0-1 .6 1.6 2.5-1 1 .4 .6 3-.7 .6-.4 .6-3.5zM226.9 40.9l-.7 .6 .2 .5 .8-.5zM226.7 123l.7 .7 .8-.2-.1-.5-.6-.5zM241.7 102.5l.2 .7 1 .2 .5-.1 0-.8-.5-.7-.5-.1zM245.6 104l-1.7 .4 0 .9 1.5-.3 .5-.5zM148.8 123.5l1.1 1.9 .5 .2 2.2-.6-.2-.5-1-.3-1.5-1.6-.5 0zM154.4 98.8l-.9 .2-.3 .5 .7 .6 .8-.6zM154.5 96.5l.9 1.5 .5 .3 3-.8-.5 0-1-1.5-1-.9zM169 122l.4 .8 .5 .3 .8-.1 .5-.5-1.8-.9zM238.5 123l.4 1.4 .5 .2 .5-.3 .2-.8-.2-.4zM244.4 118.1l-1-.2-1 .4-.7 1.2 .2 1 2.2-1 .5-1zM157.9 117.8l-2.5 .9-.4 2.3 .4 .6 .7-.1 .2 .5-.4 .3-1-.1-.8 .8 .3 .3 1-.3 .5 .3 .5 1 .5 .1 1-.9 0-1.5 .8-1.5-.5-2.5zM158.4 123.5l.5 1 1.5 .9 .5-.4-.2-1-.8-.8zM155.4 130l-.7 .5 .7 .6 .7-.6zM242.5 37.5l.4-.7 .5-.2 1.7 .9 .2 .5-1.4 1.3-1.3-1.3zM171.8 61l.6-.2 .3 .2 0 .5-.3 .3-.5-.1zM169.3 81l.6-.6 1.1 .6-.5 .5-.6 .1zM176.9 86.9l0 .7-1.5 .6 .5-1.1zM167.8 89l.6-.6 .5 0 .6 .6-.1 .5-.5 0zM165.9 90.1l.5-.2 .3 1.1-.8-.1-.3-.4zM157.6 91l.8-.1 .5 .6-1 .6zM249.9 96.4l.6 .1 .2 1.5-.3 .3-.4-.3zM133.9 99.6l.5 .4 1 2.5-1.3 .5 .2 1-.4 .4-.2-.9-1-1zM253.1 102.5l.8-.7 .5 .1 .4 .6-.3 .5-.6 .2zM259.9 103l.5 .2 .3 .8-.1 .5-.7 .4-1.2-.9zM277.4 106.3l.9 .2 .4 1.5-.3 .2-1.5-1.2zM283.4 106.4l1.9 3.6 1.1 .2 .8 1.3-.8 1.6-1.5 .6-1.9 .3 .1 1-.7 1-1 .1-.7 .9 .2 .4 .5-.3 0 .5-2 0 .4-1.1-.9-2.2-.8 .7-.7-.1-2.3-1.9 .3-.6 2-.2 .8-2.2 1.6-1 0-1.5 2.1-.1zM116.9 113.9l1.1 .6-.2 .5-.9 .3-.3-.8zM130.7 116l.2-.5 1-.2 1.2 .7 0 .5-1.2 .7-1-.7zM136.4 117.3l.5-.2 .5 .3 .9 1.6-.9 .3-.9-.3-.2-.5zM276.5 119l-1.1 2.1-1-.5-1 .4-.5-.5 .5-1 2-1.3zM131.4 119.4l2-.3 .6 .4-.2 1.5-.9 1.1-.5 .2-1.6-1.3-.2-.5zM143.9 119.6l.7 .4 .1 1-.3 .3-1-.8zM256 123.5l.2-.5 .7-.4 .9 .4 0 .5-.4 .4zM248.1 123.5l.3-.4 1.7 .4 0 .5-.7 .5-1-.2zM250.9 124l.5-.5 .5 .3 0 .7-.5 .3zM137.6 125l.8-.2 .2 .7-.7 .5zM251.4 126.5l.5-1.4 1 .1 .8 .8-1.3 .8zM151.4 129.2l.2 .3 .3 2-.5 .5-.5 .1-.5-.6-.3-2zM481.7 186.5l.3 1.5-.6 .1-1.5 1.5-2.3 .9-1.8 2-.9 1.8-1-.3-1.2 1-.7 1.5-1.7 .5-.9 1.3-2.5 1.9-1 1.7-1 .4-.5 .9-2.5 0-2.8 2.3-.3 1.5-1.4 0-1.5 1.7-1-.4-.9 .7-.5 2.5-.6 .8-2 .4-.5-.7-.6 1-1.2 .5-.7 1.6-.6-.1 .3-.5-.2-.2-.5 0-.3 .7-4.2 1.9-5.5 4.7-1.1 1.9-1.4 .4-1-.1-.5 .4-.1 .8 .6 1-1 1.6-.5 .2-2-.9-1.4 .6 .1 .5 .7 .5-.4 1.4-.9 .1-.2 .5 .4 .5-.3 .2-2-.7-.5 .3-.3 .7 .1 2 1.2 .7 1-.4 2-.2 .3 .9-.3 .6-.5 .3-1-.5-1.5 .7-1-.8-.6-1.3-.9-.8-2.5 .6-1.3 1.2-.1 2.5-.6 .9-1 .4-1-.5-.9 .2-.5 .5 0 .5 .4 .4 1.5-.5 1.5 1.4 1-.6 1 1.9 1.4-.6 .6 .1 .2 .4-.5 1-.1 1.5 .2 .5 1.7 1.3 0 1.4-1.5-1.5-1.6 .3-.3-.5 1.1-1.5 0-.5-1.7-1.3-1-.1-.9 .9 0 1 .4 .5 1.4 .5-.9 .5-.1 2 1.6 2.1 1-.4 .5-.5 1.5-.3 2-1.1 .5 .1 1 1.1 1 .5 1 1.6 1.5-.1 .5 .9 .5 .2 .4-1.1 .6-.4 1 1.4 1 .4 .9-.4-.2-1 .3-1.1 .5-.3 1.5 .4 .5-.2 .4-1.8 .6-.6 .5 .9 .5 .2 1.5-.8 2 .2 1-.2 .5 .8-.3 1.5-1.4 .5-.3 .4-.5 .1-1-.7-1 .1-.1 1.6 .6 0 1 1.4 .5 .1 .9-1 .1-.8 1.9 .3 .3 .5-.2 .6-1.5 .3-.6 .6 1.9 1 .3 .5-.1 1 .5 .4 1-.1 1.5 .7-.3 1 .3 .4 .7-.9 .8-.4 1.5 .5 1 0 1.5-.7 1 .9 1-1.3 2-.1 1 .5 .5 .9 1.5 1.1 1 .2 1.5 .8 1.5-.1 1.6-1.3 2.4-.3 .2 .3-.1 1 .9 .5 .7-.5 0-.5-.9-1 .4-1.5 .8-.9 1 1.4 1 0 .3 .5-.8 .5 .2 1 1.8 1 1.5-.3 .5 .2-.1 1.6 1.1 1 1-.2 2 .5 .5-.1 .6-1.2-.1-.6 .5-.3 1 .7 4-.2 0 7.8-.5 1.1 .5 .7 0 1.3-.5 .2-1-.7-.5 .1-.7 .9 0 .5 .8 .5-1.1 .4-1 1.2-1 .3-2.5-1.2-.2 .8-.8 .6-.3-.1 .2-2.5-.4-.4-1.5 0-1 .8-2.1-.4-.9-1-2 .2-1.8 .8 .4 1.5-1.1 2.4-1-1-.7 .6 .7 .7 1-.1-.3 .9-2.7 .3-.4-.8 1.3-1-.2-1.5-.7-.1-.8 .6-.2 1.5 .4 .5-1.4 1.8-1 .4-.5 0-.6-.7 0-1.5-.9-.8-1 1.2-1 0-.1-1.4-.9-.9-1.5-.1-1.5-.5-.6-.5 .1-.9-1.5 1.4-.5-.2 0-.8-.5-.7-1 .1-1.3 1.6 0 1-.5 .5-.2 1.6 .8 .4-.3 .6-2.4-1.1 .1-1-1.1-1 .2-1-.3-.5-1-.5-1 0-1 .4-1-.1-.1 .2 1.1 .1 .3 1.4 1.4 1-.7 1.3-2.5-1.6-1.5-2.1-2-.5-.8 .4 0 .5 1.3 1.9 1-.8 .7 .9-.8 1.5 .1 1.5-.5 .5-1.5 0-.9-1-.6-.1-.8 .6 .3 1-.5 .5-2-.5-.2-.5 1.6-.5-.9-1 0-1.9 1 .3 .9-.4-.4-.7-2.5 .8-.7 .9-.9 2.5-.9 .3-.5-.3 .3-1-.3-.5-1.5-.5 .7-1.5-.2-.8-1.5 .5-.6-.2 0-.5-.4-.4-1.5 .1-.5 .3 .5 2.2-2 .3-.8-1.5-1-1-1.2-.4-1 .1-1.3 .8-.7 1 .1 .5 .4 .2 .4 .8-.3 .5-2.6-.1-.9 .6 .4 .4 1.5 .3 .5 .8-1.5 .4-1.2-.4-.3-1.1-2-.3-1-.5-.5 0-.3 .4 .1 1-.8 .2-.5-.7 1-1 .2-1-.1-1-.6-.2-1.5 .7-.4 .5-.1 1.1-1-.8-1-.3-.4 .5-.1 1.3-1.5-.2-.7 .4 .9 1 .3 1 1-1.9 1.5-.1 .5 .4-.4 1.1 .3 1-1.1 1.5 .4 2-1.8 2-.9 .3-.5-.3-.8-1.5 1.4-.5 .3-.5-.2-.5-.7-.3-1 .5-1.5-1.2-.6 0-.4-.5 .5-.4 1 .4 1.1-.5 .1-.5-1.7 .3-.5-.1-1-1.3-.5-.1-2 1.4-.6 .8-.7 2 .6 1-.3 .7-2 .3 0 1-.5 .1-1.5-.3-1.5 .6-1-.1-.4-.3 1-.5-.1-1.6 1 1 .5-.1 .4-1.3 1.2 0-1.1-1.6-.5 0-1 1-1.7-.9 .1-.5 1.8-1 .5-1-.2-.5-2-.7-1-1.2-1 0-.5 .4-.5 1.6-2 1.1-1 1.3 1.5 .5-.3 3.5-1.7 1.4-.1 .6 .6 1.1 1 .1 0 .8-2 .1-.2 .4 .2 1-.5 .3-.8-.3-1.7-1.6-1 .2-1-.4-1.5 1-1-1-1.5 .2-1.4 1.1 .8 .5 1.1-.3 .9 .3 .4 .5 .1 1-.4 .4-2.2-.4 0 .5 1.4 1-.2 1-.5 .3-1-.6-.9 .3-.3 .5 .7 1.5-.6 1.5-.4 .5-1.5-.3-.7 .8-.8 3.5 .5 .9 1 .1 .7 1 .3 1.5-.5 1 .5 1.5-1.8 .5-.5 .5 .6 2-.3 .8-1 0-1 .6-1-1.1-1 .2-2.1-.5 .2-1-1.3-2.5-.2-2-.7-1.5 .4-2-.3-.8-.7-.7-.2-2-.6-1.1-1-1-1-.2-.6-.7-2.9-.2-1.4-.8-.4-.5 .3-.7 1-.1 1.8 .3 .2 .8 .1-.8 .4-.3 1.5 0 .8-.7 .2-1.3-.5-.2-1 .4-1.1-.9-1.4 0-.5-.5 0-1.4-.5-.3-.5 .2-.8 1 1.3 1-.1 .5-1.4 1-1.7-.5 .1-2.5-.9-.8-.5 .1-1 1.1-1.5-.8-1.5 .6-1 0-1.5 1.1-1.5-.2-1 .4-2.5 3.2 0 .6 1.3 .7-2.8 1.4-.5 .8-2-.1-3.5 1-.8 1.4-.2 1.6-2-1-2 .2-1.5 .7-1.5 0-.5 .5 .2 1-.2 .3-.5-.2-.2 .4 .7 1-.5 .8-2 .4-2 1.1-1-.3-3 .7-1 .6-1.5 1.8-1.5 1.2-1-.4-2 1.4-1-.2-1 .4-2 1.1-2 1.9-1.5 .4-.4 .6 .2 1-.5 .5-3.3 .2-1.5 1.7-2.1 .6-.6 1.5-.8 .8-2.5 .7-2.5 1.2-1.6 1.3 .4 1-.8-.1-1 1.6-1.9 .5-.2 .5 .9 .5-.3 .4-1 .2-1-.7-3 1.1-.7 1-1.4 1-.9 1.4-1 .6 0 1.8-1 .6-1 1.1 0 .6-1 .2-1-.8-2.5 .2-1.5 1-.5-.3-1.5 .5-1.5 1.4-2.6 1.7-.4 .5 .2 .5-4.2 2.1-.8 1.4-1.7 0-2.2 1-.8 1-1.6 1-.3 .5-.1 1.2-.5 0-.5-.8-3 1.1-1.8 1.5 .3 .2 0 .8-1-.9-2.5 .2-1.5 1.1-.4-.9 .2-1 1.2-.7 1.8-2.3 2-1.5 .5-1-.2-1.5 .9-.7 1 .4 .6-.7-.1-.7 1.5 .4 3-1.7 1.3-1.5 .2-.7 .9-.8 .1-.5-.4-1 .2-.5 .7-.4 1 .8 1-.2 1-.8 2.8-1.4 .4-.5-.2-.5 .7-.5 .8-.1 1.5-1.4 1.5-.7 2.8-3.3 1.6-1 1.6-.5 .3-.5-.4-.5 .1-.5 .5-.7 .5 0 1 .7 2.5-2.5 1-.2 1.1-.8 .8-1 .1-.5 1.4-1 .6-1.3 1-.2 1.5-1 1.5 .1 1-.7 .9-.9 .4-1.5 1.4-1.5 1.3-.6 .5 .4 1-.1 1-.9 2.5-1.3 1.9-2 .1-.5-1-.4-.1-.6 1.1-.7 .4 .2 .1 .6 .8-.1 2.2-1.6 1-1.6 4.1-1.8 .4-.5 0-1 .3-.5 1.2 .1 .7-1.6 2-1 0-.5-1.2-.8 0-.4 .5-.3 2 .9 .3-.4-.3-1.4-.5-.5-.5 .5-1.2-.6-.4-.5 2.1-1.4 1.5-.1 .4-.5-.5-1 .1-.6 .9-.9 .1-3.6 .5-.3 1.5 1.4 1.4 0-.4-.4-.5 .4-.7-1-.3-1.4-3-.5-1.5 1.1-1-.8-1-.4 .5-1.8 .4-.2-1.4-.4-1.4 1.9 .4 .6 1.2 .4-.1 1 .6 .5 .5 3-.7 .5-.5-.5-.2-1.5-1.3-.5-2.5 1.2-2.2-.7-.5 .5-.2 1-.6 0-1.5-2.2-1.1 .2-.2-.5 .3-.5 1.1-.5-.1-.5-1.5-.8-.5 0-.5 1.3-1.4 .5-.4 .5-1.6-.5-.3-.5 .2-.3 2 .7 .5-1.6 2.5-2.8 .6-2-.3-1.5-1.3-.3-1-.8-.2-.4 .8-1.5-.1-.3-.5-.1-2.5 .8-1.3-1.9-.3-1-1.6 0-.4 .5 .6 1-.2 1-.8 .8-2 .2-1 2.1-1.5 .4-.5-.2-.3-.8-.8-.5-.4-.8-1 .2-.1 .6 .7 .5 .1 .5-.6 1 1.6 1-.6 .5-1.1 .2-.5-.2-.2-1.5-1.8-.1-1.5-1.2-.5 .3-.5-.2-.9-1.3 .9-.9 3 0 1.2-.6-.2-1.5-1.5-.2-1.5-1.1-.5-.1-.4 .4 .1 .5 1.1 1-.3 .8-1.8-.8-1.2-1.8-.5 0-1.5 1-.5 1.3-.5 .3-.9-.3 .2-1.5-.8-.8-.7 .3-.3 .8-.5 .4-2 .4-.5-.8 .9-.8-1.4-.5 .6-1-.2-1.5-.8-1-1.6-.6-1.5 .9-3 .3-1-.6-3.5-.8-1 .6-1.5-.8-2 .5-2-1.3-1.5 .7-1-.3-1 .4-2-1.4-2.5-.3-1-.5-3 .7-1 1.2-1-1.5-2-.9 0-.5 .5-.5 1 .1 .3-.4-1.1-1-.7-1.5-1-.6-1 .7-1.2-1.1 1.7-.4 .6-.6 .5-1 3.4-1 1-1.1 .3 .1 .2 .6 .3-.1 .4-1 .8-.5 1 .3 1 1 1-.8 .5 .1 .8 1.4 2.2 1.5 0 .5 .5 .6 2.5-1.1 1-1.1 1.5-.4 .5 .5-1.1 .5 .3 .5 1.3 .6 2.5 .1 2-1.7 2 .7 .7-.2 .5-1 .8-.3 1.5 .7 1-.2 .8-1.2-.3-.4-1.5 0-.3-1.1 .3-.5 2 1.4 1-.3 2.5 .2 .3 .7-.3 1 1 .8 2 .7 1-.3 1.1-.7 .4-.5 0-1.3 1.3-.7 .2-.6 3 1.2 1-.7 1 0 .5-.8 .5 0 1 1.4 1.5 .1 1.5 1.1 2.5-.7 3.5 .2 .6-.2 1.2-1.5 2.7-1.9 1.5 .5 .5-1.2 .5-.1 2 .8 1-.1 .2-.5-.2-.5-1-.9-1 .2-.5-.3 .1-.5 .4-.2 .8 .2 .2 .3 1.5-2.4 .8 .6 .2 1.2 1.5 1.3 1 1.6 .9-.1 1.1-.7 2.7 .2 1.3-2.3 .5 1.7 .5-.1 .8-.8 .4-2 1.3-.6-.3 1.1 .8 .5 1-.9 .6 .4-.1 1.2 3.4 .8 .6 1 .5 .1 2.5-1.2 1.8-1.4 .7-1.2 2.4-.3-.9-.9-1 0 0-.6 1.5-.1 .5 1.6 1 1.5 .5 .1 1-1.1 1.7-.5 0-2 .8-.7 .5-.1 1 .7 2-.3 1 .8 1-1.4 0-.7-.5-.5-1.5 .7-.5-.1-1.5-2.8-2.5-1.3-.5 .1-1.5-1.9-1 .1-1 .8-2-2.6-1.5 1.4-.4 1.3 .4 .3 1.5-.7 .2 .4-.8 2-1.7 1-.2 .5 .5 1-.5 .9-1-.4-1-2.5 .2-.5-.3-1.5 .1-.6 .5-.3 1 .8 .4-.4-.8-1.5 1.4-1.4 1-.6-.3-1.5 .5-1.5 3.3-.5 .4 .5-.4 1 1.3 1.5 .3 1-.7 .5-.2 .5 .3 .3 .5-.1 .3-.7 1.2-.1 1 .9 .5 0 1.8-2.3 0-.5-1.3-2.7 1-.5 1.5 1.2 1 0 1 .6 1-.4 .2-.7-.2-1.1 1.3-.4 .9-1 .1-2 .6-.5-.8-1.5 .4-.4 .5 .1 1 1 1.5-.4 .4 .2 .4 1 .7 .5 .5 0 1-1.2 1 .1 1.5 1.5 1 .3 .8 .8 .1 .5-.6 1 .2 1 .5 .2 1-.2 1 .4 .5-.2 .4-1.2-.3-1.5 3.4-2.3 .5-1.2-.7-2-2.6-2 .8-.7 .6-1.3-.1-.8-1.2-1.2 .4-1-.3-1.5 .9-1.5-1.3-1.2-.5 0-1.2 1.2 .1 1 .9 1.5 .3 1.5-.8 1-.3 1.8-.7 1.7-1.2 1.5-.1 .5 .5 .5-.1 .5-.4 .2-.2-.2 .2-1-2.5-1.8-.5-.1-1.5 .7-1.8-.8-1.5-2.5 1.5-2.5 1.7-1-.1-1-.3-.4-.5-.1-1 .7-1.2 .3-.8 .9-.5 0-.2-.9 .7-.6 .5-1.1 1-.4 .8-.9 .1-.5-.4-.5-1.5 .7-1-.5-1.5 .7-1-.1-1 .4-1 0-2.5 1.9-1.3-1.1 .7-2.5 3.1-.7 1 .2 .5-.4 0-.6-.5-.3-1 .5-1.5 0-1.2-.7-.3-2.2-3 .6-.5-.6-1.4-.3 .4-1-.5-.4-1.7 .4-.8-.1-.5-.4 .8-1-.5-.5 0-.5 1.2-.6 2.5-.1 .5 .2 .1-.5 .9-.7 1 .6 1.5-.7 1-.1 .9-1.6-1.4-.6-.3-.4 2.3-1.8 .5 .3 .2 1-1.1 1.5 1 2-.8 1 .2 .6 1.7-1.1 1.3-3.2 .5 .1 1.2 1.6 .4 1.5 1 1 2.4 1.2 1-.2 1.5 .9 .5 0 .7-.4 1.2-2 0-.5-.7-1 .3-.8 1 .3 .2 .5-.6 1 .4 .2 1-.1 .4-.6-.5-1 .3-1.5-.7-1 1.5-.4 2-1.3 1.9 1.2 .1 .3 .7-.8 .1-.5-.9-1.5 1.6-1.5-.7-1-.3-2-2.4-1-.6-1.3-1.5 .4-1.5-.6-.1-.5-.4-.3-2 .4-1-.9-2 .6-.1-.3 .4-1 1.2-1.3 1.5 .8 .5 0 .3-.5-.6-1-.2-1.1 1 0 2.5-1.4 .4-1.5-.4-.3-1 .5-.4-.2 .4-.5 2-.6 1 .9 .5 0 .5-.6 .6 .3-.1 .5-1.7 1 .2 .3 1 0 1 .8 1.6-.6 0-1.5-.6-.5-.2-1.5 .8-1-.2-.5-1.1-1 .6-1.5-.2-1.5 .8 .1 1-1.1 1.2-.5-1-1 .5-3.5 1.3-.8 .5 .1 .7-.3 1.5-2.5 .6-1.5 .9-1 .5-1.5-.2-.9-.5-.1-.3-.5 .4-2-.1-1-1-.5 .5-.9 1 .9 .5 0 .4-.5-.4-.7-.8-.3-.5-2 .6-1.5-.8-.8-1-.1-.3-.6 1.3-.4 .3-.6 .1-4-.4-1.5 .7-1.5-.2-.4-1 .3-.3-.4 .3-1.1 2-.5 .2-.4-.7-1.5 .5-1.5-.2-1 1.3-1.5 .8-3 .6-.5 .5 0 2 3 2.5 .4 .5 .4 .8 2.2 .7 .8 .5 .2 .5-.2 1-1 .6 .2-.1 .9-1.1 1.1 .4 1-.9 1 .9 3.5-.6 1 .7 1-.4 .6-1.3 .4-.2 .4 .4 2.1-1 2.5 .4 1.5-.1 2 .8 1.5-.2 1.5-.7 1.5 .4 .6 1.5 .2 .8 1.7-.6 1 .2 .5 1.5 2 1.3 1 .1 .5-.8 1-.1 1 1.4 3 .5 2 1.8 0 .5 1 .4 .2 1-.8 1 0-.4 1.1 .8 1 .1 1 .7 1.5 1.3 .7 2-.6 .5 .4 .2 1 1 .5 .2 .5-.4 1.1-1 .2-.2-.3-1.8-.6-1.6 1.1 3.6 .9 1 1.1-.5 1.2-1.5-.5-3 .7-.7 .6 .4 3 .8 .3 1.5-.2 .4 .4 .9 3 .7 1.7 .5 .3-1 .5-.2 1.5 1.2 .4 1.5-.5 2.5 .6 1.8-.5 .7-.5 1.5-.2 .6-1.8-1.1-.6-.4-.9 .4-.4 1.5 .2 .7 .7 .8 .3 .5 1.2-1 1.3-1-.4-.2 .6 .7 0 1.5 1.1 1.5 .1 .9 1.3 1.2 1-.1 1.7-.5 1.4 1.5 1.8 .2-.4 .8-.1 .7 .6-.2 .4-1.5-.4-1 1.5-.1 .5 .9 1 0 .5-.8 1.1-2 .2-.4 1.2 .3 1-.9 1.7-.5 .3-2-.8-.5 .1-1.3 1.2-.2 2.3-.5 .2-1.3-1.5-.2-1-.8-1 .3-.4 .5 0 1 .5 0-1.2-.5-.3-.5 .3-1.5-.2-2 .4-.5 .4-.2 1.5-1.2 .5-.1 .9-1 .1-.6 .5-.6 2-.8 .6-1-.5-.5 .2-.5 1.4-.4 .3-1.1 .1-1 1.8-2.5 .6 .2 2-1.3 4 .8 1.5 .2 2 .6 .6 2 .7 .7 1.2 .8 .6 2.3-.1-.3-.3 0-.7 1.5-1.4 .5-.1 1 1.1 .9 .4-.7 1-.1 2 1.4 .9 1-.7 .5 .1 .5 .6 .6-.9-.5-1 .3-1 1.2 0 .4 .5-.1 .5-.6 .5 .7 .4 .5-.8 1-.3 .7-.8 1.5-1 .3-.5-.2-1 .5-.5 1.2 0 .5 .7 .8 .3 .7-1.8 2-.3 1-1 2.5 .7 .8-.6 .7-1.5 1 .1 1.5-.6-.5-1 .5-1 1 .1 1.5 1.2 .6-.3 .2-.5-.9-1 .4-.5 1.7 .9 1-.4 1-1.2 1-.5 1.5 .5 .5-.2 1.8-1.6 .7-1.4 3-1.6 1.2-1 .8-1.2 1.5-.3 .1-1 .4-.4 1.5 .3 .5-1 1.5-.1 2.5-.8 1-1.2 1.5-2.8 1 1.4 .5-.1 1-.8 1.6-.5 8.9-5.3 3-2.5 3-1.3 1.3-1.4 4.7-2.4 2.7-2.6-.3-1 .4-.5 2.2 .4 .8-.4 1.2-1.4 1.8-.6 .7-1.1 .5 .4 4.1-1.3 2-1.5 .9-1.3 1-.1 1-.6 .5-1.5 2-.2 1.5-.6zM377.4 201.2l-1.1 .3-.1 2-1 1.5 0 1 .7 .5 2.5-2.5-.3-2zM379.4 210.2l-.4 .3-.2 1 .6 .5 .5-.3 .3-.7-.3-.6zM380.1 213.5l.7 3 .6 .2 1-.5 0-1.7 .6-.5-1.6-.7zM391.4 212.8l-.5 .7 .2 .5 1.3 .8 .8-.8-1.3-1.2zM394.9 209l0 .6 .5 .2 .6-.3-.1-.7-.5-.2zM380.9 237.2l-1.5 .4-.2 .4 1.2 .8 .5-.1 .4-.7zM405.9 245.5l-.3 1 .6 1 .7 3.8 .5 .3 1-.1 1.2-1 .1-2 1.1-1 .1-.5-1.5-1.4zM411.4 252.5l-.5 .1-.2 .9 .7 .7 .7-.7-.1-.5zM413.9 240.2l-.2 .8 .7 .2 .5-.7zM436.4 251.8l0 1.1 1.5-.2 .9 .8 .4 1 1.7 0-.5-.1-1.3-1.4-.2-1-1 .3zM441.9 255.5l-.6 1.5 .2 1 .9 .5 1.5-.1 .7-.4 .1-1zM447.8 275l.6 .6 .6-.6-.6-.5zM454.5 273.5l.9 0 1.3-.5-.3-.5-1.5-.6zM462.9 271.8l-.5-.3-.6 1-1.4 .5-1 .9-.4 1.1 1.9 .8 1.3-.3-.8-.2-.3-.8 1.3-1 .5-1zM468.3 259.5l.1 .6 .5 .2 .5-.3-.5-.7zM354.9 297.9l0 .9 1.5 .5 .5-.1-.1-.7-.9-.9zM231.6 260.5l.8 .6 1-.1 .7-.5-1.7-.7zM261 272l1.4 1.2 .5 .1 .4-.3 0-1-.4-.4-1 0zM290.7 285.5l.1 .5 1.1 .4 .5 .8 1.5 .4-.1-.6-1.4-1.6-1-.1zM294.4 279.5l-.2 .5 .7 .8 1.5-.1 2 1.1 .8-.3-.3-1.3-.5-.4-1.7 .2-1.3-.9zM299.4 277.2l-.9 .8 .4 1 .5 .2 .8-1.2-.3-.6zM302.4 281.7l-1.1 1.8 .6 1.4 .5 0 .6-.9zM306.4 286.3l0 1.1 .5 0 0-.9zM310.1 289l.8 .3 .6-.8-1.1-.1zM319.4 236.9l-2 .6-.2 .5 .2 .8 1 .8 1-.1 .2-.5 .2-2zM338.4 243l-1-.2-1 1.2-1.5-1.4-1.5 2.1-1.5-.3-1.2 .6 .1 .5 1.3 1 .4 1-1.7 1-.1 1 1.9 1 .8 1.1 .4-1.1 .6-.6 3.1-.4 .1-.5-1.5-1.5-.2-1 .5-1 1.1-.5 1.1-1 .1-.5zM344.9 236.3l-1.3 .7-.2 .6 .5 .4zM327.4 208l-.6 1 .1 .8 2 0 1.8 1.7 .2 .7 .5-.2 .1-.5-.8-.5 .1-1-1.4-.5 0-.8zM333.4 213.5l.5 1 1.5-.5 .4-.5-.2-.5-1.2-.3-.5 .1zM334.5 210l1.4 .5 1.7-1-1.7-.2zM348.9 201.5l-.6 1 .1 .5 1 .5 .7 0 .3-.5-.2-.5-.8-.9zM348.4 188.2l-.5 .3 .3 1-.5 1 1.7 1.9 .3-.4-.3-2.5-.3-1zM375.6 217l.8 .8 1-.2 .3 .4 .9 0-.2-.5-1-.2-.5-.7-1-.1zM378.4 213.2l-.6 .8 .3 .5 .8 .2 .4-.7-.1-.5zM381.4 239.8l-.5-.1-.1 1.3-1.5 1.5 .1 .7 .5 .4 1.5-.2 1-.9 0-1zM411.9 277.6l-.3 1.4 1.3 .5 .4-.5-.9-1.4zM440.4 273.5l.5 .7 .8-.2-.3-.6zM296.4 288.4l-.5-.1-.8 .7 .3 .9 1.1-.4 .2-.5zM350.4 208.6l-1.5-.5-1.5 2.2-2-.3-.8 .5 .3 .8 1.1 .7-.1 1 1 1.3 1-.1 .9-.7 .2-2 1.9-.8 .5-.6 0-.6zM348.7 217l-.2 .5 .4 .7 1.1-.2-.1-1zM226.9 132l0 1.5-.5 .9-1 0-.5-.4 .5-1.6 .5-.5zM220.4 133.3l.3 1.2-.8 .3-.4-.8zM206.4 133.7l.7 .8-1.7 1.5-.4-.5 .9-1.8zM207.4 134.5l1-.3 1 .3 0 1.3-1.5-.5zM191.9 134.8l.5 .2 .5 1-.9 1.5-.6 .2-.5-.2 0-1.5zM194.3 137.5l.1-.6 1-.5 .5 .4 1.5-.1 .3 .3-.7 1-1.1 .7-1-.4zM201.4 137.2l1.3 .8-.8 .6-.8-.6zM369.9 142.5l.3 .5-.1 .5-.7 .4-.5-.4zM368.9 153.1l.3 .4-.2 .5-.6 .7-.6-.2zM387.9 187.3l-.2 1.2-.8 .3-.4-.3-.1-.5zM335.6 191.5l.1 1-.8 .7-2.5-.2-1 .3-.4 1.2 .5 .5-.1 .5-.5 .2-.5-2.2 .7-.5 1.3-.2-.1-1.3 .4-.5 1.7-.1zM334.9 197.3l.5-.1 3.3 2.8-1.8 .5 0 .5-.5 .4-1.6-.9 .1-.5 .6-.5-.7-1.5zM386.4 197.2l.5-.1 .3 .4-.3 .8-.5 .1zM400.9 202.3l.9 1.7-1.4 .7-.3-.2 .7-1zM346.9 212l.5-.9 1.3 .4-.1 .5-.7 .4zM330.9 219.1l.9 1.4-.1 1-.3 .2-.7-.2 .1-1-.8-1zM328.9 221.5l.5 .3 .7 1.2-.2 1-1 .7-1.3-1.2 .1-.5zM321.4 224.1l.5 0 0 1.7-1.1-.8zM382.9 224.5l.4 .5 .6 .1 .2 .9-1.7 1-.4-1.5 .4-1zM323.2 228l.3-.5 .9-.4 1.4 1.4-.4 .5-.5-.9-1.5 1zM327.9 227.3l.7 .7 .2 1.5-.9 .5-.5-.5 .1-1.5zM320.5 228.5l.9-.6 .3 .6 0 .5-1.1 0zM382.4 228.7l.5 .3 .4 1-1.9 1.7-.2-.7 .7-1 .1-1zM401.4 231l-1 .5-.3-.5 .3-.4 .5-.1zM428.5 231l.9-.5 .5 .2 .9 1.3-.2 .5-.6 0-.6-.7-1-.3zM330.4 230.7l.3 .8-.3 .5-1 .1-.5 .8-.2-.9zM321.9 235.2l.5-.2 1 1.5 0 .9-.5-.1-.5-.6-.8-.2zM428.9 236.2l.7 .3 .2 1-1.4 .9-.4-1.4 .2-.5zM427.9 240l2.5 .2 .3 1.3-.7 1.5 .5 1-.1 .6-2.5-.2-1.1-.9 1.1-1-.3-2zM426.1 241.5l.3 .5-.9 .5-.6 1-.5 0 .4-1.5zM306.9 242.5l2.5-.2 .9 .7 .1 .5-.8 2 .9 .5 .5 1-.3 .5-.8 .2-1 1.2-1.2-.9 .2-1-.4-.5-2.2-1-.4-.5 .3-1zM302.5 245.5l.9-.9 .5 .1 .4 1.3-1.4 .1zM440.6 246l.8-.6 2 .1 0 .5-1 .5zM302.9 247.3l.1 .7-.6 1.5-1.2-1 1.2-1.2zM313.9 249l.5 .4 .1 .6-.6 .6-.5 0-.2-.6zM461 253.5l-.6 .8-1.5 .4-2.5 .1-.6-.3-.5-1 .1-.5 1.5-.4 0-.4-1-.3-1-.8-2 .7-.5-.3 .5-1.1 1 .3 5.5-1.4 .7 .7 .2 1.5 .7 1zM310.9 250.5l2 .2 .3 .3 .2 1-.5 1.3-.6 .2-.4-1-1.1-.5-.1-1zM280.9 251.3l.8 .7-.3 1-1-.4zM262.4 252.9l1 .2 .3 .4-.8 1.4-.6-.4-.5-1zM249.7 256.5l-.3 .9-.5 .1-.5-.4-.5 .3-1 1.9-2 .1-.5-.4 .5-1.1 1-.3-.2-1.6 .7-.9 .5-.1 .1 1 .9 .9 .5 0 .5-.6 .5-.1zM474.9 256.5l.5-.3 .6 .8-.6 .4zM476.9 257.2l.5 0 .2 .3-.2 .9-.7-.4zM243.4 272.6l1.5 0 .4 .4-.4 1.2-1.1-.2-.7-1zM487.9 273.1l0 1.7-1.1-.8zM254.9 275l.5-.9 .9 .4 0 .5-.9 .5zM471.4 274.1l2 .5 .1 .4-.2 .5 .5 1.5-.4 .5-.5-.1-.5-1.4-1.5-.5-.1-.5zM266.4 279.4l.6 .6-.6 1.4-.5 .1-.3-1.5 .3-.5zM428.8 280l0 .5-1.4 .6-.9-.6 0-.5 1.4-.8zM424.9 280.7l.2 .8-.2 .4-.5-.1-.2-.3 .1-.5zM269.4 281.1l.6 .9 0 .5-.6 1.1-.5 .3-.6-.4-.4-1 .2-.5 1.1-.5zM407.2 282l.3 0 .9 1.6 1 .1 .2 1.3-1.7 .3-.4-.3-.9-2zM281.9 287.5l.5-.5 1.3 1-1.3 .4zM385.4 287.2l.5 .8 0 .8-2 1-.7-.8 1.7-2zM392.4 289l1.5-.4 .5 .4-.1 .5-.9 .2zM388.9 290.3l.8 .7 .1 .5-.4 .3-.8-.8zM375.4 295.5l.5 1.5 1.5 .9 0 .6-.5 1.1-1.5 .1-1.4 2.8-.6 .9-.5 0-.9-.9 .4-.7 1 .1 .7-.9-.4-2 .2-.5 1 .1 .6-.6-.1-1-.5-.2-.4-.8zM370.9 298.7l.5 .3 .7 1.5-.2 .9-1.1-.4-.9-1 .1-.5zM257.4 344.6l.6 .4 .2 .5-.3 .5-.9-.5zM227.9 359.8l1.5-.5 1 1.4 0 1.5-1-.2-1.5 .2zM228.5 363.5l.1-.5 1.3-.2 .2 .2-.7 1-.5 0zM371.5 8.5l-2.6 1.5-2.5 2.2-1.5 .4-2.2 1.4-1.8 1.6-.5 .9-3.5 1.1-3.5 1.8-1 1.1 0 .9-.5-.5-.5 0-7 4.1-3.9 3-3.1 1.8-1.5 1.6-2 1.1-1.5 2.1-.5 .2-1-.5-1 .2-3.4 2-4.1 3.8-1 1.5-.5 .3-1.5 0-.6 .4-.4 1-1.5 1-.5-.6-2.5 1.6-1.5 .5-3 1.8-4 2.9-1 1.2-1.9 .6-2.1 1.9-2 .7-5.5 3.4-6 4.6-2.5 1.4-3.1 2.5 .1 .5-2 1.8-3 .6-3 1.3-3 2.4-1 1.4-2.5 1.5-1.2 1.5-.3 .9-1-.2-1 .2-1.5 1.4-2.5 1.3-1 1.1-1 .1-2.4 1.2-3.6 2.9-.8 1.1 .3 1-.9 1-.1 1.5 .8 1-.2 .5-1.1 .1-1.5-.6-.5 .5-.5 1.5-1 .5-.4 2.5-.9 .5 .1 1-.3 .5-1 .7-1-.4-.8 .2-1.1 3 .1 .5 1.7 1.5 .9 1.5 .7 .3 3.5 .2 2-1.6 .7 .6 0 1 .3 .3 1-.2 1-.8 1.5 .3 2-.5 .6 .4 .2 1 .7 1 .5 .2 1.5-.4 1.5 .9 .5 0 2.5-2 .5 .1 .7 .7 .3 1.4 1.5 .7 .9-.6-.4-.3-1-.1-.7-1.6 .7-.8 1.4-.7 .6-.9 .3 .9 1.8 1 .9 1 .1 1-.4 1-1.5 1-.2 .7-1.5 .5-.9 .8-1.1 1.5-2 .6-.5 1.5-1.5 .9-.1-1.5-.9-1-.5-.2-1.5 .3-1.5-1.3-1 0-.7 .7-1.1 3.5 1.3 .2 1-.7 .5 .3 0 .4-.5 .6-3 1.5-.5 1.5-.6-.3-.4-.9-.5-.3-1 .4-2-.6-1.2 .9-.9 0-1.1-1 .1-1.5-.9-1-3-.2-2.5-1-1 .4-1.3 1.3-.2 2.7-1.5-.1-1.5 .6-1-.1-1-1.6-.5-.2-.5 .2-.4 1 2.1 1-.6 2-1.6 .6-.5-.3-1.5-2.2-2-.2-2.5-1-1.5 1.3-1.5 .7-1.1 1.6-1.2 1 0 .5 .3 .5 1-.2 1.2-1.3 1.1-.5 .7-1.3 1.5 0 1.5 1.3 2.5 1.5-1 1.2-1.3 .3 1.3 1.1 .3 .9-.3 .4-.5 0-1.1-1.4-.4-2-.5-.2-3 .4-.9 1.8-.1 1-.5 .1-1.1-1.1-.4-2-1.5 1 0-1-1.5-.6-.5 .4-.1 .7 .6 1.5-.5 .4-1-1.3-2 0-1.5-1-4.5 .5-.3 .4 .2 1.5-.4 .6-2.5 .4-1 2-2 .9-2-1.6-2-1-1-.2-5 .4-2 1.4-2-.5-3 .8-1.2 .8-1.3 1.4-2 1.3-2.5 .4-2.5 1.3-2.5 .7-1 1.2-2.3 1.7-2.2 .4-3.5 2-1.5 .3-2.5 1.9-6 2.7-2.5 2.4-1.7 .8-.8 1.1-1 .5-1 1.5-1.5-.1-.7 .5-.4 1-1.9 .1-8.5 5-1 1.5-1 .1-1.5 1-.5 .7-1-.2-1.3 .8-.2 .5-1 0-2.7 1.5-1.3 1-1.1 1.5-1.6 .5-.3 1-1.3 1.5-.5 0-.7-.7-7 3.5-2.9 2.7-.6 1.1-.5 .3-1-.2-1.3 .8-.2 1.1-1 .6-2 .5-3 1.6-.9 .7-.6 1.3-1.5 1-2.5 .5-3.5 1.9-3.5 2.9-3 1.4-3 2.9-1.5 .3-4.5 2.8-1 2-1 .4-1-.3-1 .5 0-3.9 6.7-4.2 .3-.5-.5 0-.2-.5 .2-.6 .5-.2 1 .5 2.5-2.1 4-1.5 3.5-2.9 4-2.4 2.5-2.8 1.5 .2 2-1.3 1.5-1.4-.5-.5 .2-.5 .8-.1 .5 .5 3-2.2 .5-.1 5.3-3.1 1.2-1.3 3.5-2 .7-.7 .3-1 2-.4 1-.6 .4-.5-.4-.5 .3-.5 .7-.3 1 .2 2-.8 3-2.6 3-1.8 2.5-2 1-1.6 1 0 1.6-1.1 0-.5 .9 0 1-.9 4.1-1.6 1.5-2 1.9-1.6 1-.2 .8-.7 .2-1.2 1 .5 1-.6 3.5-3 2-.9 3.5-2.8 3.7-4 .1-.5-.7-1 .4-1-.5-.9-.6-.1 1.1-.2 1 .3 .2-.6-.7-.8-3-.9-.9-.8 .1-2.5 .5-2 .7 0 .3 1 1.3 .9 2 .1 .4 .5 .2 1 .4 .2 1-.2 .3-.5 0-1 .7-1.1 2-.5 2.2-.9 .5-1 0-1.5 .3-.4 .6 .4 .9 3.5 .5 .4 .5 .1 2.5-1.3 .3-.7 .3-4-.4-1.5-.7-.5-1.6 .5-.9 1.9-1 .4-.5-.8 .2-1.5-1.7-1.1-1.5-.1-1 1.1-.5 0-2.4-1.4-1.6-.4-4.8 2.9-.4 .5 .3 1.5-.6 .8-1.5-.2-.7-.6 .5-1.5-.3-.7-.5-.1-1.5 .7-.5-.1-1.2-1.3-.1-1 1.1-1 .2-.6-2.5-.5-2 .4-2-.5-1.5 .6-.8-.4-1.7-1.9-.5-.2-3 .3-1-.4-2-.1-2-2.1-1.5 1.3-.9-1.9 0-1.5 .4-.1 2 2 .4-1.9-.6-2 .7-.6 1 .7 1.5 .1 1 .5 2-.7 2 1 2.5-.3 2 .9 1-.2 .9-1.4 .3-1.5-.9-1.5 0-1-1.8-1.5 .5-.4 1.7 .4 .6 1.5 1.2 .4 .7 .6 .3 .7 1.3 .8-.1 1-1.1 1-.3 1 .4 1 1.3 .7 1.9-1.7 .4-1.5 .7-.9 1 .1 1 1 2.5-1.1 1.6-1.6 0-.5-1.1-1.5 2-.9 1.5-2 .5-.1 1 .8 1.8 .2 .5 .5 .2 1-.3 .5-1.2 .1-.4 1.4-.9 1.5 .2 1 1.6 .4 .5 1.1 2.5 .5 .7-.5 .3-1.6 2.7-.9 .1-2 .4-1 .8-.3 1.5 .3 .5-.2 .4-2.3 1.1-.3 1.1-2.2 .1-2 .3-.3 1.5 .3 .6 .5 .4 1 1.5 .5 2-2.4 1-.5 .9 .4-.1 2.5 1.2 1.8 1.4 .2 1.6-1.2 .3-.8-.1-3.5-.7-1.6-2.2-1.9-.4-1.5 .1-.7 1.5-1.3 .3-2 .8-1.5-.8-2-.3-.3-4.5 .1-.4-2.8 1.1-2-.5-1-.7-.3-.5 .3-.7 1.5 .4 1.5-2.2 2 .8 2 1.7 .1 0 .9-2 1-2 0-.2-.5 .5-1.5-.4-1 .5-1.5-.9-1.7-1.1-.3-.3-.5 1.1-1.5 0-.5-1-1.5-.2-2.5 .5-.6 1.5-.2 .6-.7 .6-2.5 1.3-1.9 .9-.6-.6-1 .1-1 2.5-2.5 0-1-.4-1 .9-1 .6-.2 .6 .2 .3 .5-.2 1.5 .3 .5 1.6 0 .6-.5 .1-3.5 .7-.5 .7 .5 .4 1 1.3 1 .1 1.6 1-.1 .6-2 .4-.3 2 .1 2.7-.8 .6-1.5 .1-1.5 .8-1-2.7-.3-.5-.2-.3-1 .3-.7 1-.3 .2-1.5 1.3-1.6 1.5 .7 1.5-.4 1 1.2 1 .2 1-1.5 1.5-.6 2.7-2.5 .7-1.5 1.1 .2 .5-.2 .3-.5-.2-1 1.7-1.5 .2-1.2 1.3 .2 .2 .7-1 1.3-.4 1.5-1.9 1.5-.3 2 1.1 3.5-.3 1.5 .8 .5 2-1.1 2-.3 2-1 .6-.6 .3-1 1.1-.4 1.5 .9 3.5-.5 .8-.5 1.2-2.2 2 .2 .5-1-1.2-2-1.2-1-1.1-1.5 .5-.8 .9 .3 .6 .9 1 .6 .8-1 .5 0 .2 .5-.7 1-.4 1.5 .6 .5 1.5 .2 1.5-.8 .4 .1-.5 1 .5 .5 3.6 .6 1-.3 .7-.8 .1-.5-.6-.5 0-.5 .3-.3 .9-.2-.1-1 1.2-1.3 .7 .3 .3 2 1 .8 2 .5 2-.4 1 .9 1.5-.1 1 .8 3-1.1 2.1-1.9 .4-1.5 1 .2 2.5-.7 0 .5-.9 1 .4 .8 2 0 4.5 1.5 1-.5 .5-1.5 1-.4 .5-.8 .5 0 1 1.2 4 .9 1.5 1 1 .2 1.4-1.4 .1-1 .5-.6 .2 1.1 .9 .5 .3 .5 0 .5 1.3 .5 .8 2.1 4.5 .6 1.4-1.2 .6 .3 .2 .7-.4 1 1.2 .7 .2 .8-.2 1-.8 1 .1 2-.7 2 .2 1 .7 .1 1.2-.6 1.3-1.6 3.8-1.4 .8-2 .4-.2 1.5 .3 3-.5 2-.8 1.5-1.6 1 0 1-.6 2-.3 6.2-4.8 1.8-.5 3.5-2.5 6.4-3.5 .4-1 1.5-.5 1.2-1.3 1 .2 .9-.4 1.1-2.3 1.5 .6 1-.4 1.5-1.4-.5-.5 .5-1.7 1.5-.5 2.5 .3 2-.6 2-1.4 2-.7 5.5-3.9 2-1 2.4-2 .6-1.1 1 .1 .6-.5 0-.5 1.4 .2 3-1.6 .9-1.1 .1-1 .5-.1 .1-.4zM165.6 126l-1.2-.3-1 .7-.7 1.1 .2 1.3 .5 .2 .5-.2 .6-1.3 1.2-1zM191.5 87l0 .5 1.4 .9 .5 1.1 2 1.4 .5-.4 .5-1.8 1.6-.2 .5-2-.6-.5-2.5 .3-.3 .7 .9 1-.1 .6-1-.2-.4-.4-.2-1-1.4-1.1-.5 .2zM197.9 79.9l-.5 .4 0 .7 .5 .6 .5 0 .1-1.1zM204.9 48l-.5-.2-1.2 .7-.3 .8-.5 0-.5-.7-1-.4-1-.1-.6 1.9-1.1 1 .2 .4 2 1.2 2 0 1.1-1.1 .7-2 .8-1zM209.9 86.9l-1.5 .2-2.5 1.5-2 .1-.3 .3 .8 3.6 1.5 .5 1.5 .9 2.3-1.5 .8-1 0-.5-.7-1 0-1 .6-1 0-.6zM217.4 81.6l-1.2 .4-1.4 3.5 .5 2 .6 .8 1.5-.2 1.1-2.6 1.9-.6 .2-.4-.7-1.6zM234.9 117.4l-.2 1.1 .2 .6 .5 0 1-1.1-.2-.5zM236.4 35.9l.5 0 .2 .6-.4 2.5-.3 .1-.5-.3-.5-1.3zM221.9 37.3l1.1 1.2 .2 1-.2 .5-3.1 .7-.4-.7 .4-1.5 1 0 .1-1zM243.1 37.5l.3-.2 1.2 .7-.2 .5-.5 .3-.4-.3zM212.5 41l.6-1 .8-.4 1.5 .8 1-.5 1 0 .5 .3 .3 1.3 1.2 .6 .5 .9-.5 .4-.5-.2-1.5-1.5-1-.2-1 .3-1 1-.5-.1 .1-1.2-1.1-.1zM183.4 52.8l.2 1.2-.7 .3-.6-.8zM176.7 55.5l.7-.5 1.5-.2 1-.8 1 .3 .5 .7-.1 3-.4 .4-2 0-.9-.9-.1-1-1.4-.5zM175.4 59.5l.5-.3 2.6 .3-1.6 .9zM165.6 66.5l.3-.5 2 .2 1.3 .8-.1 .5-.7 .7-1.5 .2-1-1zM169.2 69l.7-.3 .6 .3 .1 .5-1.2 0zM172.1 70.5l.8-.9 1 .4 0 .5-1 .6-.5-.1zM176.4 89.5l.5 .5-.5 .9-.7-.4 0-.5zM206.9 90l.5-.2 1.4 .7-.1 .5-1.5 0-.4-.5zM165.9 92.6l.1 .9-1.1 .3-1 1.2-1 .3-.8-.8 .3-1 2-.4 1-.6zM153.9 93l.5 1-.1 .5-.4 .1-.5-.6zM157.3 95l.6-.3 1.5 .6 .5-.2 .5 .3 .1 .6-1.1 .4-1-.1zM146.4 96l.5 .1 .5 .9 1 .2 1 .8 .5-.7 .5-.1 .6 1.3 .8 .5-.3 1-.6 .4-.5-.4 .3-1-.2-.5-.6-.2-.5 .7-1 .2-2.2-2.2zM246.9 98.5l.5-.1 .5 .3 0 1.9 1.3 .9-.3 2.3-.9-.3-.1-.4-.5 .4-2.2-1.5 .4-1.5zM247.9 101.4l-.7 .6 .2 .8 .5 .1 .2-.9zM118.9 106l.7 .5 0 .5-.7 .8-.9-.8 .4-.7zM123.5 108l.4-.7 2.8 .7-.8 1.3-2-.5zM116.2 108.5l.2-.8 .5-.1 1 .1 .5 .7 1.1 .1-.6 .4-.5-.3-1.5 .8-.5-.2zM278.6 112l.3-1.5 1-.6 1.5-2 1 .5 1.5-.1 .4 1.2-1.4 1 0 .5 .5 .8 1.5-.2 1-.7 .3 .6-1.8 1.7-1.8-.2-1.7-1.4-.5-.1-1 1.2-.5-.1zM118.9 109.1l.5 0 .3 .4 .7 .2 2-.2 1.3 1.5 0 .5-2.4 1.5-.3 .5 .1 1-.2 .1-1.1-1.1-.4-1.8-.1 .8-.4 .4-.6-.4-.1-1.5zM124.9 111.6l1.5 .4-.6 1.5-.4 .1-.7-.6-.3-1zM280.1 114.5l.3-.5 1.6 .5 .3 .5-.4 .3-1.5-.1zM123.9 115.2l.3 .8 .8 1 0 1 .4 .5-.5 1.4-.5 .3-.8-.2-.1-.5 .7-1-.3-1.1-.5-.6-.5 .2-.6-.5zM273.5 120l.9-.6 1 .1 0 .7-1.5 .1zM133.4 119.9l.1 1.1-1.1 .7-.7-.7 .3-.5 .9-.7zM239.7 122l1.2-.6 1.1 .6 .3 .5-1.4 .8zM143.4 122.9l1.4 .6 .1 .5-.4 .5 .3 .5-.3 .5-1.1 .5-.7-.5 .2-.4 1.5-.6-1.1-1zM141.4 123.5l.5 .3 .1 1.2-1.1 .9-.6-.4-.1-1zM237.3 124l.6-.1 .5 1.1-.8 0zM151.5 126l1.3 0 0 .5-.9 .2zM238.4 127l.4 2.5-.4 .6-.5 0-1.2-1.6zM216.4 128.9l.5 0 .5 .6 .4 1.5-.4 .2-.9-.7zM235.4 128.9l.2 .6-.2 .7-.8-.7zM215.6 130.5l.3 .5 0 1.3-2.2 .2 .7-1.8zM221.9 131l.5-.9 .5-.1 .4 .5-.9 .9zM216 132.5l1.4-.4 .3 .4-.3 .9-.5 .2-.5-.2zM225.9 132.4l.5 .2 .1 1.4-.6 .3-.7-.3zM480.4 186.5l.3 .5-.8 2-2 .8-1.5 1-1.5 2.2-1.5 .8-1.5 2.2-1 .2-1 .8-2.3 2.5-.9 .5-.8 1.2-1.5 1.2-.2 .6-.8 .2-1-.3-2 .8-1.9 1.8-.1 1.2-1-.2-.5 .3-1 1.5-1-.3-1.1 .5-.4 .5 .2 1-.7 .6-1 0-2 .7-2 2.3-1.5-.1-10.5 8.2-.3 .3 .2 1-.4 .4-2 .1-.7 .5-.4 1 .8 1-.7 1.2-.5 .3-.9-.5-.2-.5 .3-1-1.2 .3-2.2 1.7-.2 .5 .9 1 .5 0-.5 0-1 .9-1.5-.2-3 2.5-2 .7-1.9 1.6-1.6 2.2-2 1-.5 1.5-1.7 .3-.3 1 .1 1 .4 .4 1.5 .1 1-1.5 .4 .5-.2 .5-1 1 .1 1 2.4 2-.5 .5-1.8 .5-.4 .5 1 .1 .5 1.9-.5 .8-1 .1-.6 .6 .1 .9 .5 .3 2.5-.5 1.5-1.6 .5 0 .3 .9 .5 .5 1.1 0 1.6-1.5 2-.5 2 2 1.5-1.1 .5 .5-.2 .6-1.2 .5 .4 1.4 .5 .2 1.5-1.5 .5-.1 1.5 1 1-.7 .5-.8 1.6 1.5 .4 1.4 .5 .3 1 .3 .5-.9 .5-.1 .2 .5-.4 2.5 .2 .9 1.1-.4 .4-.5-.3-.5 .3-.4 1 .3-.2 1.6 .3 1 .6 .5 1.8 .6 2-.6 1.5 .3 1.5-.5 3 .9 2.5 .1 1.3-.3 .7-.6 1.5-.2 1-.7 .5-1 .5-.2 .6 .2-.1 1.3-1.4-.3 0 .5 .4 .5 1.5-.3 4.5 2.4 2.5-.3 1 .7 .6 0 2.9-.9 1-1.2 .5-.1 1.3 .7 .2 .5-1 1 .3 .5 1.2 0 1-1 .8 1.5 1.7 1.1 1.5-.4 2 .5 1.5-1.5 1-.3 3.5 .2 0 5.9-1.5 1.1-1.5-.6-1 1.3-1 .2-.3 1.5-.7 .2 .1 2.3 .4 .1 1.5-1 .3 .9-.8 1.1-.5 0-.9-.6-.1-.4-1.3-.6-.7-1.5-.5-.5-1 .6-1.4-.1-.1-1.5-1.5-.6-2.5 1.6-2.5 .4-.5-.1-1-1.3-.5-.3-.3 .8 .8 1-1.5 1.5-2 .9-.5 0-.8-1.9-.3-2-.9-.5-1.1 .5-.9 1.1-1.5 .8-1 1.8-1.5 .8-.6 0-.6-.5 1.6-1 .1-1-1.1-1-1.9-.5-1.5 1-1-.3-.5 .2-.4 .6-1.6 1-2.5 .7-2-1.2-1.5 0-.9-1-.6-.2-1.5 .2-2 1.2-1.5 .1-1 .9-1.1-.2-2.4-1.1-2.5 1.2-1-.1-1.5-.7-3 .6-2-.2-.7 .3-.3 1.1-2.5-.4-4.5 1.6-2.1-.3-1 1-.3 1.5-.6 .5-.6-.5 .6-1-.1-1-.4-.5-2.4 0-1.1 1-1 .3-1.5-1.2-.6 .4-.9 1.5-2 .7-1.5-.4-.2 .7 1.6 2 1.6 .5 .1 1 1 .5 .9-1.2 .5-.2 .8 1.4-1 1.5 .5 1.5-.8 .5-1.5-1.7-1.5-.3 .9-1.5-.4-.5-2 .2-1.5-1.5-2-.1-.5-.8-2.5-1.2-1 .5-1-.1-1 1-1 .2-1-1.5-2-.3-3.5 2.3-1 1.7-1.5 .1-.5 .4-1.8-.9-.2-1.3-.5 .1-1.5 1.9-2 .7-.2 .6 .7 1.5 .5 .3 1-1.1 1.5 .2 1-.6 0 .7-.5 .1-.6 .9 1.6 4-2 1.3-1-1.3-.5-.2-.5 1.2-1-.3-1.5 .3-.5-.5-.5 .1-2.4 2.4-.5 3 0 2-1.9 3-.2 2-.8 2 .8 1.8 1.7 .7 .2 .5-.3 2 .3 1-.4 .4-1.6 .6-.3 1 .7 1.5-1.3 .6-.5-1.4-2 .5-.7-.2-1.3-1.6-.7-1.4-.2-2-.6-1.5 .3-2.5-1.6-4.5 .1-2-.7-2-.4-3 .3-1.5-.3-.5-2.7-.7-1.5 .7-.5-.1-.7-.9 0-2-.3-.2-1.5 .7-.5 1.8-3-.6-3.5 1.3-2.5 0-1.1 1-2.6 1.5-2.3 3.6-1 .8-.5 1.8-1.5-.2-.4-.5-.1-1-1 .6-1.3 1.4-1.2 .4-2 2-4 1-1-.2-.8 .3-1.1 1-.9 2-.6 .5-2.1 .9-1.5 0-2 .5-2 1.4-1.5 2.3-2 .2-1.5 1.4-1.5 0-3 1.1-1.5 1.8-2 .8-2 1.8-3.1 .8-.9 1.2-2 1-1.9 2.3-1.6 .4-3.2 1.6-1.4 1-1.9 2.3-2 .5-2 1.9-2 .3-2.5 2.3-.4 1.2-1.1 .9-.6 1.1-.3 1.5-1.6 1.2-1.5-1.2-.5 0-5 1.7-4.9 3.8-.6 .9-4.5 2.7-4 1.4-1 1.5-5 1.9-2 1.7-1.5 .2-.8-.3 .2-1 1.1-1.4 2.5-1.6 .1-1.5 .4-.5 1.5-.7 1.7-.3 3.3-2.6 1.9-2.4 .1-1-.5-1.2 .5-.4 1 .9 1.5-.2 3.8-2.1 3.1-3 1.6-.9 3.6-4.1 2.4-.6 1-1 4-2.8 3.5-3.8 .5-.9 1.5-.5 1 .2 2.4-1.1 1.6-2.3 1.4-.7 1.6-1.4 1.5-.5 3.1-2.1 1.9-1.8 1-1.5 1.5-.7 2.5-2-.3-.5 .2-.5 3.6-1.2 1-.6 2.3-2.7-.3-.5 .1-.5 1.4-.3 2.5-1.7-.5-3.3 3.2-1.2 1.5-2.5 0-1.5 .8-.3 1.5 .4 1.7-2.1 1.5-3-.2-1.5 .4-.5 .6-.3 .6 .3 .3 .5 0 1.5 .6 1.3 .5 .3 .5-.4 .5-2.5 .8-1.2-.5-1.5-.1-2 1.1-2-1.3-.9-1.5 .8-.5-.1-1-1.3-1 0-.4 .5 0 1.5-1.3 1.5 .1 2.5-.9 3-1.5 .3-1 .9-.5 0-.1-.7-1.9-1.1-.5 .3-.5 .9-.5 .1-.8-.7 0-1.5-.9-2 .7-1.1 1.2-.4-.1-.5-.6-.6-2.2-.4-2.3-3-4.5 .7-3 2.3 1.4 1.5-.4 .6-1.5 .9-.5-.4-.5-2-.9-.6-1-2.5-1.5-2.5-.6-.5-3-.6-3 2.2-.5 0-.5-.3-2-.4-1 .5-1-1.4-1-.4-.3 .4 .8 2.2 .5 .3 1-.5 1.1 .5-.1 1-2 .3-.5-1-1.4 1.7-.5 0 .2-.5-.6-2.5 1.1-2-1.3-1-1.6 1.5 .7 .5 .2 .5-.2 .5-.6 0-.6-.5 0-.5-1.4-.4-1.1 1.4 .6 1-.5 .2-2-3.2 .5-.3 1 .4 1.4-1.1-.2-.5-1.1-.5-.8 0-.8 1.4-1.5 .4-.5-.2-.2-.6 1-1-.2-.5-1.1-.3-2.5 .1-1.5-1.4-1.1 .1-.9 .9-2.5-.3-1.5 1.4-2.5 0-.8-1-1.6-.5-1.1-1.4-1.5 .1-2.5-.3-.6 1.1-.9 .4-1.5-.8-2 .3-2-.2-1.5-.8-3-.5-1.5-.9-3 .3-.5-.3 .4-1.5-.2-.5-1.7-.4-.5-.9-1.3-.7-.3-.5 .6-.2 .5-.9 2.5 .6 .3-1.5 .7-.4 1.5 1.1 .4-.2-.2-1.5 .3-.7 .5-.3 .7 .5 .1 .5-.8 1.5 1 1.4 2.5 .7 1-.1 1.5 .6 2.5-.7 1.5 0 1-.5 2.5 .7 2 .1 .5-.3 .5-1.4 .5-.3 2.5 .6 1.8-.8 3.7-.4 .5-.6-.1-1 .6-.4 1 .4 .1 1.5 .9 1.2 3 .5 2.5-.8 1.7-1.4 .8-1.6 3 .9 1.5-.3 2.5 .2 1.5 1 1 .3 2-.8 3 .3 1.8-.5 3.3-2-.1-.5 .5-.5 .8 .5-.4 1.5 2.2-1 .4-1-.4-.5 .4-.1 2.5 .9 1.5 .9 1.5-.1 1.5 .5 2.5-.4 1-1.3 2-.4 2-1.7 3 .8 .8-.6 1.2-.2 .5 .3 .7 1.4 2.8-.1 2.5-2.5 2-1.1 .5 .1 1 1 2 .4 1.5 .8 1.5 .1 .4-.2-.1-.5-1.8-.5-.5-.4 .5-.7 2 0 1.5-.7 2 .6 1.8-1.3 .7-.1 1 .4 1 1.4 1 .1 .8-.3 .7-1.7 1.5-.1 2-.8 .5-.5-1.7-1.4-.5-1 .1-.5 2.1-1.3 2 .7 .5-.5 .5 .1 .7 1 1.3-.1 .8-.9 0-.5-1.8-2.5-1.5 2.2-1-.5-2.5-2.9-1 0-1 .7-.5-.3-.5-.8-1.2-.4 .6-1.5-.5-1.5 0-2.5 .5-1 1.1-.5 .9 .5 .6 .8 .7 .2 .2-.5-1-1 .1-1 1.1-.5 .9-.9 .5 .2 .6 1.7-1 1.5 1.9 .7 .5 1.3-.3 1-.7 .8-1.5-.2-.8 .9 1.3 1.8 1.5-.2 1-1.2 2-.1 1.5-1.9 2 0 .4-1.4-.8-1-.1-.6 1.3-1.9 1.3-1 .4-1.7 1.4-1.3-.5-3.5-1.2-2-.3-3 1.6-2-.4-2.5 1.5-2.5-.3-4-.8-.9-1.1-.6-.9-1.5-.5 .1-2 3-1.5-.4-2.5 1.1-.7-.3-.2-.5 .5-1.5 .5-.5 1.4-.4 1 .2 .5-.3-.5-2 .5-1.3 .5-.2 2.5 1.8 2-.1 .8-1.2 .1-1.5 .6-1.5-.5-.6-1-.1-.6-.8 1.1-1.2 .2-.8-1.3-2 .3-3-.6-3 .3-1.5 1.1-1 .1-.5-.6-1.5-.1-1.5-1.1-1 1.9-3-1.3-2 .6-1.5 1.5 0 .3-1-1.2-1-.2-.5 .8-3 .3-.3 1.5 0 .8-.7 .7-1.5 2.4-3 .6-3.4 .5-.6 0-.6-.5-.3 0 .9-.5 .5-.5 0-.3-.5 .5-2 1.9-.5-.7-2.5-.9-1.5 .7-2.5-1.1-1.5 .1-3.5-.3-2 .5-1 .1-1.5 .9-1.5-.6-2 1.8-4 .4-1.5 1 .7 1 1.6 2.5 .4 .3 .3 .1 1.5 .6 .7 2.5 1.4 0 .9-.9 1 1 3.5-.6 0-1.5 2.5-.1 1 .7 1.5-1.1 3 1.1 6.5-1.4 2.5 .1 .5 2 1 2.7 3.8 1.4 .7 .1 .5-.6 .5-.5 1 .2 3 1.5 6.5 2.4 1.4 1 2 .3 .1 0 1 .7 .9 .5-.1 .2-.8-.9-.5-.3-.5 .8-1-.5-1 .4-1.5-.2-.3-1.6-.2-.3-1 .4-.9 1.8-.6 0 1 .7 .5 .3 1.5 .8 1.5 1.4 .7 2 .4 1.1 .9-.6 .5-1.5-.4-1.5 0-1.5 .5-.4 .4 .1 .5 1 1 .2 1.5-1.6 1-.2 .5 .5 1-.1 1.4-2 .4-2 1.1-.2 .6-.1 1.5 1.2 3 2.6 .4 2-1 1.5 0 .5 1.6 0 1.3 2 .7 1-.1 0 2.3 1 .3 1-.3 1.5 1.4 1.2-.6 .3-.5-.9-2-.8-.5 .2-.5 2.5-.9 .5 .3 1-.2 2.7 .8 .8 .5-.5 .1-.3 .4 .1 .5 1.2 .5-.5 .6-.5-.3-.5 .1-.1 1.1 1.6 .4 2.4 3.1-.8 1.5 0 .5 1 1.5-.6 .7-1 .3-1.1-1 .8-1.5-.5-.5-1.2-.2-.4 .7-.3 1.5 .2 .3 1 0 0 .7-.5 2 .2 1-.7 1-1.6-.5 1.3-1.5-.2-1.2-1 .5-1-.4-1 .4-.3 1.2 .9 1-.6 .7-.6-.2-.9-1.9-1.5 .3-.9-.4 .7-2-.3 0-.6 .5 0 1.5-2.9 1.1-.5-1.1-1.2-.5-.3-.5 .5-1.5-1.1-.5-.7-1 0-.5 .9-1-.1-.7-.5-.5-1.5 .6-.7-.4-.4-1 1.5-2 .1-.5 1.5 .4 .4-.4-.4-1.1-.5-.4-1 1.5-.5-.1-.6-.9 .1-1.8-2-1-1.3 .3-1.2 1.2 .1 2.3-.8 2 .5 1.5-.2 1.5 .7 1 .7 3.2 1.1 .3 .5 2-.5 .5-1.1-.2-.5 .1-.4 1.6 .5 1.5-.4 1 .2 1.5-.4 .6-1 .4-1.2 2.5 0 2.5-1.3 2.9-.1 1.1 1.1 1.5 .2 1-.2 1.5 1 1.2 1.5 .2 2.5 1.9 1.8 .2 .7 1.5 0 1-.8 1-.2 1 .4 1 .6 .5 1-.1 2-.7 .8-1.2 .2-1.2 2.5 0 2-1.2 1.5-.5 .4-.6 .1-1.1 2-1.1 1-1.4 1 1.6 2.5-1.4 .4-.6-.4-.2-1.5 .2-.1-.5 .4-.5 2.2-.3 .3-.7 .7-.3 2 .7 1-.6 .5-1.1 2.5-.6 .5-1.1-.4-1 .8 0 1.1 1.3 1.5-.5 .5-1 3-.3 2.5-1.5 2.6-2 .3-1 2.1-1.1 3-2.7 1-.1 .9-.6-.1-.5 .7 .1 1.2-.6 .3-.5 1-.1 1-.7 2.1-.7 1.1-1-.1-1 .9-1.2 1 1 3.5-1.5 3-1.9 2-.8 1.5-1.4 2.5-1.2 3-2.5 3-1.5 1.6-1.5 3.9-1.9 3.8-3.1-1-.5-.1-.5 .3-.4 .7 .4 .3 .7 1-.4 1.2-.8 .8-1.1 5-1.5 3-1.3 4.7-3.6 .3-1 3-.7zM386.9 208.2l-.5 .6 0 1.3 .9-1.1zM390.4 205.7l-2.3 .8 0 .5 .7 1-.7 1 .7 1 0 .5-.8 1 1.4 .8 .5-.3 .5-1.4 .7-.1 .3-.5-.7-.5-.2-1.5 .6-1.5-.1-.5zM390.9 199.6l-.9 .9 .4 1.5 .1-.5 .9-1zM376.4 243.9l-.4 .1-.1 .5 .5 .6 .7-.6zM400.6 249l0 .5 1.3 1.6 .5 .1 .5-.7 .6 0 .1 1.5 1.8 2.1 2.2 .4 .5-.5 .3-1.2 .8-.3 .6 1.5 .9 1 0 1.5 .7 0 .2-1 .8-.9 1.6-1.1-.5-1-1.6-1-1.5-2 0-.5 1.5-.8 .6-.7-.1-.6-1.5-1.4-.3-1-1.2-.2-1.5 .6-2 0-.8 .6-.7 1.8-.6 .7zM294.5 276l-1.6-.2-.9 .7-.2 .5 .6 .7 1 0zM321.9 275.3l-.9 .2 .1 1.5-1.5 1 1.3 .6 1.5-.6-.6-1 .6-1zM341.9 246.5l-.5 .1-.2 .9 .7 1.4 .6-1.9zM351.9 233.9l-.5-.3-.5 .5-1 1.9 .5 0 1-.9zM222.4 134.7l.1 .8-.6 1.7-1 0-.3-.7 1-1.5zM191.9 135.5l.5 .5-.5 .5-.5-.5zM188.1 136l.8 .1 .4 .9-.4 .7-.6-.2zM350.1 186l0 .5-.5 .5-2.2 .8 0 1.9-1 .2-2.5-1.1-.5 1.2-2.5 .5 0-.5 .5-.2 1.4-1.8 0-1.5 .6-.6 1-.3 1.5 .2 1-.4 1 .6zM334.4 191.4l.5 0 .5 .4-.1 .7-1.1 0zM378.2 193l.2-.5 .5-.2 1.8 .2 .2 .5-2 .6-.6-.1zM392.7 196l.8 0 .3 .5-.4 .5-.8 0zM328.9 200.8l.2 .7-.2 .5-.5 .2-.4-.2zM328.7 205l-1 1 .2 1-1 .4-.5 1.6-1.5 0-.3 1-.7 .3-.4-.3-.1-.9-1-.4-.5-.6-2 .3-.2-.4 .2-1.6 1 .3 1 1.1 1.5-.5 1 .2 .5-.4 1.5-.1-.2-.5-.5 0-.3 .4-1.5-.9 2.5-.7 1 .4 1-1.1zM331.9 205l2.6 2 1.7 .5 .5 .5-.3 .6-3 .4-.5 2.4-.5 0-1-.8-.2-1.6 1-1 .1-.5-1-1.5 .1-.6zM376.9 208.7l.5 .3 .6 2-1.1 1.1-.4-1.1 .7-1.5-.4-.5zM327.4 211l1.5 0 .6 .5-.7 1-.9 .2-.7-.2-.2-.5zM340.4 210.6l2.1 1.9 .4 .5 0 1 .5 .3 1.3-.3 .5 1-.8 1-.5 .2-1-1.1-1.2 .9-.5 1 .2 1 .5 .3 1.5-.5 1 .9 .6 1.3-.5 1.5-1.1 .7-2-.2-1.5 .8-1-.3-.5-1 1-.8 1.1-2.2-.3-.5-2.2-1.5-.1-2-1-1 .5-.9 .5-.3 1 1.1 .5-.2 .4-.7-.2-1.5zM332.9 211.6l.3 .4-.3 1.5 0 1.3-.5 0-.9-1.8zM326.1 217l.5-2 .3-.3 1 .6 2-.6 .5 .3-3.5 2.4zM347.8 215.5l.5-.5 .6-.1 .5 .6-1 .5zM379.9 216.5l1.7 1-.9 1-.6 1.5-.7 .3-1.3-.8 .1-.5 .9-.5 0-1.5 .3-.5zM389.4 216.3l.5 .1 .3 .6-.3 1.4-.8-.9-.2-.5zM341.9 224l1 .5 .1 1-.6 .5-1-.4-.3-.6 .3-.8zM348.9 224l.6 0 .8 2-.4 .1-1.5-.9 0-.7zM331.4 235.5l.1-.5 .9-.5 .8 .5-.8 .9-.5 .1zM428.6 237l.3-.2 .5 .1 .1 .6-.6 .3zM326.1 239.5l1.3-1.4 1.5 .1 1.5-.5 2 .3 .7 .5 .7 2-.8 1 .4 1 0 1-.5 .1-.3-.6 .2-1-.1-.5-.8-.2-1.5 .4-2.5-.5-2-1.2zM316.2 240l-.2 .5-1.1 .8 0-.8 .4-.5zM429.9 240.5l.3 1-.8 2.1-1.5 .2-.2-.3 .9-.5-.4-1 .2-1.3zM322.9 240.8l.9 .7 0 .5-.4 .5-.8-.5-.1-1zM418.4 240.5l.8 1-.1 .5-.7 .4-.5-.9zM324.9 242.7l.5-.3 1 .4 1 0 .4 .7-.9 .7-1.7-.7zM316.9 242.8l.1 .7-.6 .7-1.5 .5-.6 1.3 .4 1-.6 0-.6-2 .4-.6zM305.3 244.5l.6-.8 1.5-.7 2.5 .2-.7 2.3 .2 .5 1 .5-.5 .4-2-.6-2.5-1.3zM328.9 244.4l0 1.5-1 .6-.5-.5 .3-1 .7-.7zM445.2 248l.1 1-.4 .4-4 .2-.3 .4-.2 2.8-.5 0-.2-.8-.8-.8-1 .3-.9-.5-.3-.5 .2-.7 .5-.1 1 .6 1.3-1.3 .2-.8 .5 .5 2-1 1.5 .5 .5-.3zM458 251l.1-1 1.3-.4 .4 .4-.4 1.2-1 .3zM455.9 250.9l.5-.2 .5 .3 .1 .5-.6 .2zM291.9 252.3l.5-.1 .8 1.3 0 .5-.8 .1-.8-1.1zM457.1 253l.8-.6 1.3 1.1 .2 .5-1 .5-1.3-1zM442.9 254l1-.1 1.5 .6 .5 .8-1 .4-1.5-.3-.4-.4zM246.4 256.5l1 .5 .2 .5-.7 1-.9 0zM447.4 257l.6 .5-.6 .6-.5-.6zM486.4 270.3l-2 2.5-.5 0-.3-.8 .8-1.4 1-.5zM467.5 274l.4-.3 1.4 .8-.3 1-1.2-.5-.4-.5zM285.4 276l1-.3 .5 .8-.2 .5-.8 .2zM429.4 276.4l1.8 .6-.3 1.8-.5 0-1.2-1.3zM461.9 276.3l.9 .2 0 .5 1.2 1-.2 1-.4 .3-1 .1-.4-.4 .3-1.5-.6-1zM413.9 276.8l.5 .1 .1 .6-.6 .4-.5-.4zM278.3 278l.4-.5 .7-.1 1 .3 1-.2 .2 .5-1.7 .4zM433.7 278.5l.2-.6 1.5-.2 1-.4 2.2 1.7-.7 .6-1.5-.7-2 .4-.5-.2zM268.5 279.5l.4-.4 1.5 .4 .5-.6 2.5-.3 .2 2.4-2.2 .5-1-1.9-1 .8-.5-.2zM275.6 279l.3-.2 1.5 .8 .5-.4 .5 .1 .1 1.2-1.6 .3-1.4-1.3zM265.9 280l.6 0-.1 1-.5 0zM394.8 282l-.4 1.2-1-.5-2.5 1.7-.8-.4 .8-1.5 1.5-1.2 1 1 1-.4zM299.9 289.9l-.5 .1-1.9-.5-1.1-2.3-.5 0-.4 .8-.6 .3-.5-.3 .2-1-1.7-2.4-2 .1-.3-.7 .2-.5 1.1-.4 .6 .4 .4 .7 4 .1 1-1.4 .5-.3 1 0 .4 .9-.9 1-1 2 .5 1.1 1 .4 .6 1.5zM391.4 284.7l2 .7 0 1.6-1-.6zM301.4 286l1 .3 .7 .7-.9 .5-1-1zM381.6 286l.4 .5-.6 1.3-1.3-.3-.3-.5 1.1-1zM289.9 287l.5-.5 1.2 .5-.7 .6zM390.9 287l1 .3-.2 1.2-1.1-.5-.1-.5zM403.4 286.8l.2 .2-.3 1-.9 .5-.5-.5 .1-.5 .4-.4zM292.9 287.9l.5 .6 1 .3 0 .7-2 1.6-.6-.6-.2-1zM379.9 289.9l.6 1.1-.1 .9-.5-.3-.4-1.1zM371.6 294.5l.8-.2 .4 .7-.9 .1zM376.7 299l-1.3 .1-.5 .8-.5 .1-.3-.5 .2-.5 1.1-.1 .5-.4zM228.9 360.6l1 .3 .1 .6-1.2 0zM370.9 8.5l-2.2 1-1.8 1.8-4.6 2.2-2.4 2.7-3.5 1.1-3 1.6-1.5 1.4-5 2.6-14.5 10.2-3 1.2-3 1.8-4.3 3.9-.7 1.4-1.5 .1-1.8 1-.7 .7-5 2.4-7 4.5-1.5 1.5-1.5 .5-2 1.6-8.4 4.8-5.6 4.4-2.9 1.6-2.6 2-2 2.5-.5-.1-2 .5-3.4 1.6-6.6 5.3-1 1.4-2 .8-3.6 2-1.4 1.5-4 1.7-4 3.3-1.5 2-.1 1 .6 .6 0 .5-.5 .4-1-.4-.4 .4-1.1 2.3-1.5 1.2-1-.4-.5 .3 .3 1.6-.3 .9-.5 .3-2-.7-3.7 3.5 .9 1.5 .4 1.5-.7 2.5-.8 1.5 .4 .5 1-.4 .2-1.1-.6-1 1-.5 .9 0 1.5 .9-.3 1.1 .1 .5 2.2 2.1 1 0 1.5-1 2.5 .5 1.5-.6 .8 .5 .2 .5 1.5-.4 2 1.2 1.5 .2 1 .5 3.5-.7 1 .5 .6 .7 0 .5-.6 .9-2-.5-1 .8-1.5-.7-.5 .1-4.5 4.4-1.5-1-.1-.5 .7-2-1.1-.5-1 .4-.5 1.2-.5 .3-.5 0-1-.8-1 0-1.6 .9-.4 .5 .4 .5-.4 .3-2-.4-1.4-.9-.6 0-3 1.4-2.5-.2-1.5 1.2-2 .6-1 .8-.4-.3 .2-.5-3.3-1.4-2 .9-3.5 .1-4.5 4.6-1.5 .1 .3 1.2-.2 2-.6 .7-1.1-.2 .1-1.5-.5-.9-1.5-1.1-.5 0-.5 .9-2-.1-1 1.4-1.5 .5-1 1.1-1.6 .7-.6 .5-.8 1.5-1.5-.2-1 .6-1.5-.7-2.5-.1-1.5 .4-2-.6-1 .4-1.5 1.2-2-.1-3.5 .9-4.5 3.4-7.5 2.9-3.5 3-2 .4-3 1.8-2 .4-3 2.2-1.9 .6-3.6 1.8-2.9 2.7-2.2 1-1.9 2.6-1-.2-4 2-12 7.3-7 3.9-3.5 2.7-.5 .7-9 4.4-3.5 3.2-2 1-3.1 2.4-4.4 2.2-1.5 1.8-.5 0 .1 .5-.9 .5-2.2 .4-2.5 1.2-4.5 3.5-2.8 1.4-1.7 1.5-5 2.8-1.3 1.2-5.2 3.2 0-3.1 4.5-3.1 1.5-.5 4.5-3.9 4-1.7 3.7-2.9 3.8-2.3 1.6-1.7 2.9-1.2 6.5-4.8 7-4 6-4.6 6-3.4 9.5-7.3 5.5-3.7 3.5-1.4 2.5-2.9 5-2.8 3-2.7 2-1.1 6.5-5 1-1 1.5-.9 .2-.7-.3-.5-1.6-.5 .7-1.2 1-.4 .5 1 .5 .3 .5-.2 .9-1 .6-1.3 2.5-1 1.5-.1 1.5-.6 1.1-1 .5-1 1.9-1.4 1.4-2.1 .7-3.5-.6-3.5-1-.3-2 .2-1.5-1.1-2 .1-2.5-1.1-2 .8-3-.7-1.5 .9-2.5 .7-1.5-1.3-.5 0-1 .9-.5 0-.4-.6-.4-2-.7-.6-1 .2-1 1-.6-.1-.3-1-1.1-.6-2.5 .5-1.1-.4-.2-.5 .8-2.5 1-.2 1.3 .7 1.7 .1 1.5 .7 1 0 1.5-1.2 1.5 .5 2 .2 .7-.3 0-2 .8-.5 2.5 2.6 .9-.6 .6-1.2 1.5-.1 1.5 .7 3.5 .2 1.2-1.1 0-1.5 .8-.3 .8 .3 1 1.5 .7 .2 1.3-1.2 .2-.5-.4-1.5 .4-1.4 1.5 1.6 1 .5 1-.7 1 .4 1.5-.3 .7-.6 .4-1-.3-.5-1-.5-.4-1.5 .1-.6 .8-.9-.1-.5-2.2-.9 .5-.4 2 .7 .5 .7 2 .6 1-.2 .5-.7 .5-.1 1 1.7 1 .1 .7 1.5 .8 .4 .6-.4-.1-1.5 1.5-1.5 1.3-.5 .4-1 1.3-.8 .9-1.2-.4-.5-1 .1-.6 .4-.4 1.9-1-.5-.5-1.4 .2-2-1.5-3.5 .3-1.5 .5-.4 .5 .1 .5 .6-.4 1.7 .3 .5 1.1 .8 .5-.1 1-1.1 .5 .1 .6 .8-.4 1.5 .8 .6 1-.2 2-1.2 1-1.6 1.5-.1 1-.5 2.5 0 .6 1-.3 1 .5 1 1.2 1.1 3 1.5 4-2.1 .8-1.5-.4-1.5 1.6-2 .5-.2 .5 .4 .4 2.3 .7 .5 .9 .1 1.5-.9 1.5-.2-.6-1 .1-.7 .5-.2 .6 1.4 1.9 .9 1.1-.9-.1-2 .4-.5 1.6-.5-.9-1.5 .4-.4 2.5 .7 1 0 1-1.6 1 0 1 1 .8-.2 1.2-3.5 1.5-.4 .7-.6 .2-.5-.9-1.8-1 0-2 1.5-1.5-.7-.5 .1-.5 .4 0 1.5-.5 .8-3-2.8-2-.4-.5 .4 1.2 1.5 1.8 .5 .6 .5 .1 1-1.2 .6-1-.1-.2-1.5-.8-.8-.5 0-1 1.4-3-.4-1.5-.7-3 .1-2 .5-.7 .4-.8 2.6-.5 0-.7-2.6-.3-.4-1-.1-1-1.6-.5 .2-.5 1.3-.5-.5-.3-.9 .3-.6 .8-.4-.2-.5-3.1-2.9-.7 .4 .2 .7 1.7 1.3-.3 .5-2.7 1.5-.1 .5 .9 1.6 1.3 .9 .3 2 1.6 .5 .4 .5-.1 2-.5 .2-.5-.1-1-1.3-3-2.1-1.7-.7-.1-.5 .7-2-1.1-2 .1-1.5-.4-.7-3-.2-2 1.8-1.5-1-1.5-.2-1 1.7-.5 .3-2.5-1.4-1-1-1-.3-1.7-4-2-2.5-.6-2 1.8-.5 1.3-1-1-1.5 1.2-3.3 .5-.1 2 1.2 2.3-1.3-.3-.1-.4-.9 .4-.4 1.5 .7 1.5-.7 1.5 .1 1-.8 1.5-2.4 1.5-.1 1.5-1.4 1.8-.5 .7-1.3 2.5 .2 1.5-1.9 1.6-.5 .9-1.7 1 0 .4 .7 .6 .2 3 0 1.5-1 3.7-.7 5.4-2 2.9-.5 .8-.5 .7-1.2 2-.4 1.5-1.8 .5 0 1.2 .9 1.8 .5 2.5-.2 2-.7 3 .4 6-.4 2 .3 3-.8 1.3-1.1 1.2-.4 5-.1 2 1.5 1.5-.5 4-.1 2 .3 4-.1 2.5 .4 .6-.5 0-.5 .4-.4 .5 1.7 1-.8 1-.1 .3 .6-.3 2.5 .5 .4 1.5-.5 2.5-.1 1.9 .2 .6 .5 .2 1-1.2 3.3-1.1 1.7-1.2 1-.2 .5 .5 1-.5 1.5 .5 .8 2-.7 1.8-.1 1-1 1.7-1.1 2.8-.9 5.1-4 4.1-1.1 2-1.6 3.9-1.3 6.1-4.6 2-.8 3.6-2.6 2.9-1 2.5-1.7 1.5-.6 6-4.4 2-.7 1.5-1.6-.5-1 .4-1 1.1-.2 .5 .4 4-.7 2.3-1.5 2.4-1 10.3-7.2 5.5-2.7 1.9-2.1 0-1zM236.5 77l.4 .7 .5 .3 2-.1 .7-.4-1.7-2-1 .2zM249.4 76.4l-2-1.4-1 .1-1.5 1-2.5-.5-.7 .4-.3 1.6-1.2 1.4-.2 1.5-.6 .5-.5 0-1-.6-.2 1.6 .7 .4 1.5-.3 1.5-1.3 2.5-.3 1.8-1.5 .2-.5-.5-1.5 .4-.5 1.1 .2 1.5 .8 1-.5zM249.3 73l0 .5 1.6 1.4 2 0 .4-.9-.4-.5-1-.3-1-.9-.9 .2zM222.7 38.5l-.1 1-.7 .5-1.5 .2-.5-.2 0-.7 1.3-.3 .2-1.1 .5-.1zM239.9 38.2l.4 .3 0 .5-.4 .5-.7-.5 .2-.5zM269 40l.8 0 1.4 1 .2 .8zM277.1 40.5l.8-.5 .4 .5-.9 .5zM208.9 42.2l.5 1.3-.2 1-1.3 1-.2 1-.8 .5-.1 1-.4 .4-.5 0-1-1.2-1.2-.2 .4-.5 2.3-1.2 2-2.9zM196.3 48l1.1-1.4 1 .2 .5 .6 1-.6 .5 .2-.1 .5-3.4 1.2zM209.4 47.1l.6 .4-.1 1-.5 .8-.5 .1-.5-.4 0-.5zM180.4 54.4l.4 .6-.9 2.6-1 .1-1-1.6-.8-.1 0-.5 .3-.2 1.5-.1zM177.9 70.5l1 .8 .5 1.2-.5 1.5-.5 .2-1.2-.2-.9-1 .4-1.5zM188.4 80.7l.5-.1 1.5 .8 .1 .6-1.1 .2-.9-.7zM206.5 81.5l.4-.4 1.3 .4-.8 .7zM228.4 81.8l.6 .7-.3 1-.8 .1-.5-.6zM195.5 82.5l.9-.3 1.2 .8-1.2 1.3-.5-.2zM221.9 82.7l.5 0 .4 1.3-.9 0-.3-.5zM213.9 83.4l.8 .1-.3 .8-.5 0zM187.7 85l.7-.6 1.9 1.1-.9 .6-1.3-.6zM160.4 101l-.5 1-.5 .3-.8-.3-.1-.5 1.4-1zM159.4 103.7l.3 .8-.3 2.3-1.5-.1-.6-.7 1.6-1-.1-1zM145.9 106l0 1.5-.5 .4-.3-.4zM131 107l.4-.2 1.2 .2 .1 .5-.3 .8-1 0zM136.2 109l1.2-.4 1.2 .4-.1 .5-2.1 .2zM263.4 112l.5 0 .2 1-.2 .3-.5-.3zM249.2 117.5l-.3 1.5-.7 0 .1-1 .6-.6zM251.9 117.9l.5 .1 .2 .5-.2 .8-.6-.3-.2-.5zM216.5 123.5l.9 0-.2 1-.6 0zM154.9 125.8l1 .4 .5 .6 1.5-.2 .3 .4-.6 1 .3 .3 1-.3 .9 1-.4 .9-.5 .2-1-1-1 .3-1.3-.4-.8-1-.2-1zM237.3 128.5l.6-.3 .5 .8-.5 .5-.6-.5zM360.9 135.4l1.5 1 1.8 .1 1.3 3.5 .2 1.5 .7 .9 1 .5 .2 .6-.2 .7-1 .8-.6 1-.6 2 .8 2-1 3 .1 1.5 .6 1.5-.1 1-.7 1.5-1.5 .9-.9-.4-.3-1-1.2-1-.1-.5 .4-1.5-.9-.3-.8-1.2 .5-2-1.3-1.5-.6-3.5 .2-.9 1.1-1.1-.6-2 .5-1.5-.1-2 1.1-3.2zM472.4 192.5l.2 1-1.2 1.9-1.5 1.1-2.5 2.5-1 .5-.8 1-.7 .3-.8 1.2-.2 1-1.5-.5-2 .6-1.5 1.6-3 2.1-3.3 1.7-.7 1.1-3 1.5-1 1.4-1.5 .3-1.5 1-4.2 3.7-7.3 5.3-1.5 1.5-2.5 1-2.3 2.2-.7 1-1 .3-1.5 1.3-1 1.3-1.5 .5-3.6 2.6-1.3 2-4.1 2.3-.6 .7 .3 1.5-.2 .5-1.7 1.5-4.8 1.5-.7 .5-1.2 2-.6 .5-2 0-1 .5-.9 2-1.6 1-2.1 3 .1 .5 1 .4 2-.7 .5-1.1 .5-.3 .5 .1 .3 .6 .7 .4 1.5-1.1 .6 .2 .6 2 1.3 1.6 .4-.1 .5-1 1.1-.1 1.5 .3 1.3 1.3 1.7 .7 .6-.2 .9-.8 1-.2 1-1.2 .5-.2 1.5 .3 2.6-1.9 .4-1 .5-.4 1 .4-.2 1 1.2-.3 3 .5 1-1.3 .4 .6-.4 1-1 .1-1.5 1.2-1.5 .2-.3 .5 .2 .5 .6 .3 3-.6 2.5 .5 1.5-1.2 1-1.4 .5-.1 0 1 .5 .4 2.5-.2 2.2 .8 .1 .5-.3 .8-2.9 .7 .2 .5 1.2 .8 2.5 .1 1.5-.5 1.5 .9 2.5 .6 2-.5 4 .1 2 .9 3-.3 3.5 0 3-.8 .5 .2 1 1.5 3.1 .5 1.4 .5 3-.3 2 1.6 .5 .1 1.5-.8 2 .9 3 .6 .6 .4 .6 2.5-1.2 2-.5 .2-1.5-.9-.5 0-2.5 1-.5-.3-.5-1.7-2.8 .7-3.2 1.5-.2 .5 .7 .5 .2 1-.5 1-.7 .6-.5 0-.7-1.1 .2-.7 .7-.8-2.7-1.7-2 .6-2 .1-1 1.2-2.5-.8-2-.1-2 .4-4.5 1.8-1.5-.6-1.5 .1-1-1-2.5 .1-2.5 1.2-4-.7-4.5 1.3-2.5-.3-2 .3-2-.3-7 2.4-1-.6-3-.2-3 .9-1-.2-2 .3-2.5-.4-.8 .2-.5 1-.7 .4-3-.2-1-1.3-1-.1-.6 .7 1.3 2.5-.2 1.2-2-.2-.3-.5 .7-1-.1-1-1.3-.5-3.5 2-5-.3-1.5 1.5-2 .9-1.5 0-.6 .4 .1 1-.5 .5-.5 0-.1-1-1.4-1.4-1 .2-1 1.2-.5 .1-1.4-.6-.7 0-.6 .5 .2 1.1-1.6 .9 1.5 2 .1 .9-1-.1-1.1 .7-.1 .5 .4 2-.7 .9-1 .1-.4 .5 .2 1-1.2 2.5-.6 4.5-1.8 2.5-1.3 3 .7 3.5 .9 .8 2 .2-.4 1 .1 2-1.4 .5-.9 1-.9 .5-1-.1-2-.8-.6-.6-.7-4 .2-4.5-1.4-2 .2-1.5-.8-3-.4-5.5-1-1-1.2-.5-.4-1.5 .1-1.5-.3-.5-3.7-1.5-1.5 1-2.2 3.5-2.3 .3-2.5 1.3-1.5-.4-1.5 .4-1.5 1.5-4.5 2.8-1.5 1.5-1.5 .4-2 1.2-1 1.6-1 .5-.7 1.4-.8 .6-1 .3-1-.2-1.5 .7-2 .4-3.5 2.7-.6 1.5-.9 .3-1.5-.1-2 .4-2.8 1.9-.7 1.1-1.5 .3-2 1.7-4.5 1.6-1.1 .8-.9 1.2-1.5 .6-2.5 1.9-3 .8-3.1 2.5-1.8 2-4.6 2.1-1.8 1.4-1.7 1.9-2 .6-1.7 1.5-2.3 .6-4.4 4.4-.5 1.5 .2 1.5-1.3 .6-.5-.4 0-.5 .7-.7-.7-.1-6.5 2.1-8.3 6.5-4.9 2-1.3 .2-1.2 1.8-1.6 0-.1-1.5 4.3-3 .7-1.5 2.1-2.5 2.3-1 1-1.1 2.5-1 1-1.3 1.3-.6 1.7-1.7 3-3.6 3.5-1.4 4.5-3.3 4.5-5 2 .1 2.5-1.4 2-2.6 1.6-.6 2.9-1.9 1-1.1 2.5-1.6 2.5-2.8 8-5.3 3-3 3.7-2.8 .2-2 1.5-.5 .8-1 1.3-.8 .1-1.7 .4-.4 2.3-.6 1.2-2.5 1.4-1 .2-1.5 .4-.5 .6 1.5 2.4-.5 2.4-2.5 1.2-.5 .5-1-1.6-.8-1-1.2 0-.6 .5-.6 1.5 .7 .5-.5-.8-2 .3-.4 2-.6 2.3-2-1.8-1.8-3-1.2-3 0-.5 .2 0 1.8-1 .8-1.5-.8-2.2-.5-.7 2-1.7 1 0 1-.8 1.5 1.7 .5 .4 1-.2 .8-1 1-1-.6-.9 1.8-.6 0-1.6-1-.1-.5 1.5-1 .7-1-1.7-.5-1.3-2.5 .1-2 1.2-1.5-.1-.5-.7-.6-.5-.1-2 .8-1.5 1.8-.7-.4-.4-1.5-3.4 .8-1-.8-.5-1.3-.1 .3-1.4 .3-2.5-1.3-2.5 1.4-1.9-1.4-1.6-.2-2-1-.8 .2-.7 1-1 .7-1-.1-1.5 .8-2-.4-.5-1-.4-2-.6-.3-4.5 1-1-.8-2-.1-2.5-.6-2-1.3-1.5 .9-1.5-1-2.5-.4-3.5 1.1-1.5 1.1-.2-.1 .6-1-.8-1-1.1-.3-1.5 .4-2-1.6 .1-1 1.5-2 .3-1 2.1-.3 2-1.2 5 1.5 3 0 4-1.3 1.5 .1 1.5-1.4 1.5 .2 1.5-.5 2 .2 2 .9 2.5-.6 3 .1 4-1 2 .2 4-.8 2 .6 .7-.2 .8-.8 2 .4 3-.5 1.5-1.4 2.5-1.1 1.5 .5 8 .5 1.5-.4 1-1 .8 .8 .7 .1 1.3-.6 .5-1 .7-.5 5 1.4 2-1.3 1 .4 1.5-1.1 1.5 .5 6-1.4 .6-.5 .4-1.1 .5-.2 1 .4 1.5-.4 1 .2 2-.6 2 .3 1-.8 1.5 .1 1.2-.9 1.5-.5 1.8-2.5-.5-.5-1.5-.5 .2-1-.4-.5-1.3-.7-1.5 1.5-1 0-1.3-1.3 0-.5 .7-1-1.4-.2-1.7-1.3 1.7-.3 1.5-1.2 3 .9 1-1.9 1.4-1 .6-1.3 1-.7 .5-1-.1-2.5-1.6-1-.1-.5 1.3-2.5 .1-1-.9-2.5-1.2-1.7-.4-1.8 0-.5 1.3-1 .1-1.5-.5-1.5 1.4-3.5-.1-4-1.2-2 .2-1 .9-1.5-.1-1.5 .4-2-.8-2 0-1.5-.8-1.5 .3-1.5-.7-1.2 .7-3.3-.9-1 .2-.5 1-.2 .3-.8-.8-2.5 .1-1.5-.8-1.5 .6-1.5 .9-1-.3-.9-1.4-1.1 .4-.8 1.5 .5 .6-.7 .1-4-1.6-.5 .4-1.4 .5-.1 1.5 .6 .5-.4 1.1-2.2 2.6-2.5 .8-1.2 1.5 .1 .6-.4 .4-.8 1-.2 2 .6 1.5 .1 1 .7 3 4.1 0 4.5 1.4 7 1.2 1 .7 1.5 .7 .1 1 1.4 1 .8 .5 1.2-.6 .5-.4 1.2-1.2 .3-.5 .5 .7 1.2 0 .8-1.6 1-.8 2.5 1.1 5.5-.5 2 .3 2-.6 2 .2 1.5-.5 1.5 1.6 3 .2 1.5-.7 3.5 0 1.5-1.4 1.5 .1 2.5-.7 1.5-.5 3.5-.9 3.5 .2 1.4 .6 1.1-.5 1 1.1 3.5-.2 1.2-.5 .8 0 .7 2-.4 .7-.8 .3-1 .5-.3 1.5 .6 1.1 1.2-.3 1 1 1-.3 1.3-.5 .4-1.5-.1-.5 .4-.1 .5 1.1 2.1 2.5-1 .9 .9 .6-.1 3-1.7 1.5-2 2-.1 3.5-1.2 2-2.5 1.5-.2 3-1.7 1.6-1.5 .4-1.9 1.4 .9 .6-.1 2-1.5 .8 .1 1.7-1.2 3-.8 2-1.3 2-.5 5.2-3.7 3.3-3.1 6.5-3.3 1.5-1.1 2-.6 2.5-2.1 4-1.7 2.5-1.6 2.5-1 1-1.2 3.5-1.8 2.5-2.3 2.5-1.1 2-1.9 3-1 7.6-6.2 1.4-.6zM369.9 244l.5 1.3 1 .6 .8-.4 .7-1 .1-.5-1.1-.7zM420.9 253.6l-1.5 1.6 .1 1.3 .7 0 .9-1zM277.4 273l.5 .2 .5-.9-.5-.3-.6 .5zM310 276l-.6-.3-1 .2-1.1 .6-.1 .5 .6 .5 .6 0 .9-.5zM378.2 182l.2-.5 .5-.1 .6 .6-1.1 .5zM343.9 186l.5 0 .3 .5-.2 1.5-.6 .2-.6-1.7zM346.4 186.5l.5 .1 .1 .4-.3 1 .2 1-.5 .2-.9-.7zM342.9 188.8l.3 .7-.3 .4-.6 .1-.2-.5 .3-.5zM392.4 200.1l1 .1 .2 .3-.3 .5 .6 1-.5 1.3-2.2-.8-.1-.5 1-1zM393.4 203.7l.5 .1 1.3 1.2-.3 1.2-.5 .1-.8-.3-.8-1-.1-.5zM387.7 205l1.2-.7 .5 .2 .2 .5-1.2 .5zM382 205.5l.9-.4 .7 .4 .1 2-1.3 .4-.8-1.9zM391.9 205.4l1 1.1-.9 1.5-.6 0-.2-.5zM394.5 207.5l.4-.5 1-.1 .5-.9 .5-.1 .9 1.1-.9 1.4zM323.7 208.5l.3-.5 1.4-.3 .9 .3-.4 .6-1-.1-.5 .3zM394.3 208l-.5 2 0 1.5-.9 .4-1-.3-1.2 .4 .2-.7 1.4-1.3 .5-1.5 1.1-.8zM385.4 208.4l.3 .6-.1 .5-1.7 1.3-.8-.8 1.8-1.6zM332.4 208.8l.4 1.2-.4 .7-.5-.2-.2-.5 .2-.9zM396.9 209.7l.5-.1 .4 .4 .1 .7-1 0zM382.7 212.5l.2-.5 1-.7 1 .6 1-.3 .4 .4-.3 1-1.1 .7-.5 0zM340.9 212.6l.1 1.9-.6 .4-.8-.4 0-.5zM342.2 220l.4-.5 .8-.2 .5 .2 .3 1-.3 .6-.5 .2-.6-.3zM432.4 225.8l.2 .7-.4 .5-.8 0-.2-.5 .2-.4zM332.1 239l-.2 .7-2.9 .8-.7 0-.5-.5 0-.5 .6-.3 3-.4zM305.7 244.5l.7-.8 1.5-.2 1.4 .5-.9 2.1-2.6-1.1zM414.2 244.5l.7-.2 .9 .7-.3 .5-1.1 .1zM347.4 245l.5 .1 .3 1.4-.3 1-.5 .3-1.2-.3-.5-.5zM441.3 249l.1-.5 1-.5 .5 .1 .6 .9zM228.4 260.7l2.5 2.2 .2 .6-.3 .5-1.4 .4-1.1-.4-.3-1 .1-2zM483.6 264l.3-.9 .5-.4 1.2 .3-.7 1.2-1 .2zM486.8 263l1.1-.2 0 2.2-.7-.5-.5-1zM244.3 264.5l-1.1 2-1.8 1.8-2.5 .3-3-1.3-3-.3-.2-.5 1.7-.7 1.5-1.1 1.5-.2 1 .6 1.5-.6 2-.2 1-.8 1.1 .5zM485.4 265.9l1-.2 .9 .8 .2 .5-.6 .9-.5 .2-1.1-.6-.2-1zM480.8 267l1.1-.6 1 .1 .8 1 .1 1-.3 .5-1.1 .1-1.3-.6-.5-1zM480.9 270.1l.4 .9-.4 1.8-1.2-1.8 .2-.6zM274.4 275.3l.4 1.2-.4 .6-.5-.1-.3-1 .3-.6zM462.4 278.2l.5-.2 .5 .4 .1 .6-1.1 .1zM272.6 279.5l.3 1.1-.5 .4-1 0 .3-1zM298.9 283l.3 .5-1.3 1.2 0-.7zM294.3 285l2.6 .3 .5 .7-.1 .5-1.9 .1-1.3-1.1zM292.4 290.4l0-.8 1-.3 .3 .2zM236.9 354l-.5 1-.6 0 .1-.7 .5-.4zM370 8.5l-1.6 .5-1.9 2-4.6 2-1.4 2-1.6 1-5.5 2.4-2 1.7-4.5 2-1.4 1.4-13 9-3.1 1.4-4.9 3.1-4.4 4-2.2 1-3.5 2.3-2.5 1-7 4.6-1.1 1.1-1.9 .9-5.4 3.6-5.6 3.2-4.5 3.6-3.1 1.7-4.4 3.6-3.2 1.4-4.8 2.9-4.5 3.6-1.8 2-5.2 2.6-1.5 1.5-3.5 1.5-4 2.9-2.6 2.5-1.4 2.5-2.5 .5-.8 .5-.3 1-3.1 2-.4 2-4.4 3.4-1-.3-1.5 1.2-2 .5-1 1.7-1.5-.3-.7 .3-.7 1-.1 .7 4 1.8 1-.4 .5-.6 0-2 2.7 0 .4 .5-.2 .5-1.8 1 .8 2 2.6 1.3 2-.3 .5 1 1 .7 2.2-.2 1.3 .9 2-1.1 .4 .2 .4 1.5-.9 1-.9 .3-1-1.1-.3 .3 0 1-.7 .5-2.5-.3-2.5 1.2-3.5-.5-1.5 .7-1-.6-1 0-1 1.3-1 .3-1.2-.1-1.3-.9-4.5 1.2-3-.4-.5 .6-.1 1.5-1.2 1-.2 1.3-.7 .2-.3-.5 0-1-1-.1-.8 .6-.3 1.5-.9 .6-.7-1.6-.8 0-2 2.1-1.5 .5-3.3 1.9-3.7 3.5-1.5-1.1-2.5 .7-1-1.4-.5-.1-2 1.6-1.5-.1-2.5 1.1-2 .2-2 .8-1.5 .2-4.5 3.3-8 3.7-3.5 2.9-2 .4-2.5 1.5-2 .5-3.4 2.3-5.6 2.7-2.5 2.3-2.1 1-2.4 2.1-4.5 2.2-12.4 7.7-4.1 2.1-3 1.8-4.5 3.6-8 4.1-3.5 2.9-5.5 3.7-3.5 1.7-4 3-4 1.8-4.5 3.4-3 1.6-4 2.8-2 1-2 1.6-5 3.1 0-2.1 4.5-3.2 2-.9 3.6-3 4.4-2.2 7.5-5.2 2-1.8 2.5-1.1 6-4.5 7.5-4.2 6.5-4.9 6.5-3.9 2.5-2.1 11.5-8.2 3.5-1.4 2.5-2.6 5.7-3.4 2.6-2.5 7.5-5 2.2-1.9 1.5-.7 2-2.3 1.6-1.1 .8-1.5 1.1-.5 1 0 1.5-.7 3.7-3.3 1.8-2.5 .5-1.7 3.5-3.8-.8-1-1.7-.4-2-1.7-2.5 .3-2-1.8-1.8 .6-2.2-1.2-2.5 .9-1-.4-1-1-1.5-.5-1.2 .2-.8 1.6-1.5 .2-1-1.8-1.4-.5 .4-1 3-.8 .5 .1 1 .8 .5 0 2.5-1.5 1.5 .3 2.5-.3 2 .2 2.5-1.4 1.5 .4 1-.2 2.5-1.9 4-.9 2 0 1.3-1.3 1.4-2.5-1.6-1 0-.5 .4-.3 1 .1 .6 1.2 1.5 .5 .4 1.4 2-.3 1.5 .1 2.1-1.2-.3-2 1.2-.2 .5-.5 1-1.9 1.4-1.4 .5-2 1.3-1 1.5-.5 .8-.8 2 0 2.5 1.4 3 2.6 1.5 .7 1.5 .1 1.3 1 .7 0 2.1-1.5 .9-1.3 2-.7 .4-.5-.4-1.1 2-.6 5-.3 1-1.4 1-.6 2.4-.5 .6-1 1.5-1.1 3.3-.9 1-1-.3-2.5 .3-.5 4.2 1.7 2.5-.7 1.5-1 2-.6 3.5-2.5 2.4-.9 1.6-1.7 2-.3 1.7-2 .8-1.5 .5-.4 2.1-.1 2.7-2 .7-2-.2-.5-1.3-.2-1.5 .2-1-.3-2.5 1.5-.5 2.1-2.5 .6-4.5 .1-.5 .5-.1 1.5-2.4 .5-1-.7-.5 1.3-2.5 .6-1.5-.6-1.5-.1-2 1.3-4.5-.3-3 1.8-1.5 .4-1 0-3-1.6-1 1.5-1.5 .9-3-1-1 .5-.5 1.1-.5 .3-2.5 .1-1.5 .7-.6-.2-.3-1.5-1.1-1 .5-1-2.5-.5-3.5-2.3-2 .6-1 1.3-2-.8-3.5 .3-2-2.5-1-.2-1.8 1.6 .5 1.5-.2 .5-1 0-.6-.5 .3-1-.2-.5-1.5 0-.6-.5 .1-.9 1.2-.1 .3-.5-.3-.5-.7-.2-.5 .5-2-.7-.3-.6 .1-1 .7-.9 1.8-1.1 2.2-5 1-.8 2-.2 2.7-3 2.8-2 1.5-.4 1.5-1.2 2-.4 1-1.1 1.5-.4 1.5-1 4.5-.6 2-1.1 7-1.4 3-1.6 3-.3 5.5-1.8 5-.8 1.5 .2 2-.4 6-.2 2.5 .3 3-.9 2.2-1.4 1.3-.2 3.5 1.2 3 .6 2-.7 4 .2 4.4 1.4 2.6 .2 1 .5 2-.9 0 1.2 .5 1 1 .9 1.5 .5 1-.5 1-1.5 1-.2 1 .2 .1 1.1-1.2 2.5-.9 .4-1.5-.7-1.5-.1-.5 .9 .1 1 1.4 1 .2 .5-.5 2 .2 1 1.3 2 .8 .3 2-1.3 2.9-.5 1.6-1.4 3.5-1.5 1-1.1 4-2.7 4-1.4 1.5-1.1 4-1.9 5.8-4.4 2.4-1 3.3-2.4 3-1 4.5-2.6 5.5-4.1 2.5-1.1 3.5-3.1 2.5-.5 3.9-2.2 2.1-.7 3.5-3 2.5-1.3 3-2.4 4.5-2.4 1.5-.4 2.5-2.7 2.5-1zM281.1 58l-1.7-1.6-1.5-.4-1.7 2 .2 .5 1.5 1-.2 .5-1.3 .1-2-1.2-1 .8-.6 1.3-1.9 .2-.9 .8 0 .5 .4 .5 1.5 .6 .6-.1 .4-1.7 2.5 1 1-.3 2.5-1.5 2-2zM208.6 43.5l.2 .5-.2 .5-.7 .4-.5-.1 .2-.8zM178.4 55.9l1-.4 .4 .5-.4 1-.5-.1zM187 76l.4-.2 .5 .2 .5 1.2-1-.2-.5-.5zM219.5 79l.4-.5 1 .1 .5 .7 0 .7-.5 .4-1.3-.9zM362.4 137.9l1 .7 .6 1.4-.8 2 1.8 1-.5 1 .1 1.5-.7 2.5 .5 2.5-.5 1.5-.2 2-.3 .2-2-1.2 .1-1.5-1.2-1.5 .2-1.5-1.1-1-.3-1 1.4-2-.2-5.5 .6-.6zM362.4 156.5l1-.7 .5 0 .5 .7-.2 .5-.8 .3-.8-.3zM471.2 194l-.5 1-3 3-2.3 1.3-2 2.2-3.5 1.2-4.5 3.7-3.3 1.6-2.1 2-1.1 .4-4.5 3-6 5.2-3.2 2.4-1.8 .9-1.5 1.7-2.5 1.1-1.5 1.6-10.5 7.7-1.3 2-2.2 .8-2.4 1.7-.8 1-.8 1.9-1 .5-1 1-1.5-.1-2.2 1.7-1.6 2-2.2 .5-.9 .5-4.1 4.8-2 .9-1.1 1.3 .2 .5 2.4 1.2 2-.2 2.5 .7 .7-.2 .8-1 3.5 2.1 3-.6 2.4 1 1.6 .3 3.5-.1 1.5-.7 1.5-.2 4 .6 4.5-.5 3.5 .3 1-.2 .6 2.5 3.9 .7 2-.1 1.5-.4 4.5 .9 5.5-.1 1.5 .5 3.5 0 2.5 .4 3.5-1 1.5 1.3 3.5 .6 1 .5 2.8-.3 .2 1 1.8 1.5-.4 1-2.4 .9-1 1.1-1.5 .7-2.5-.7-2 .5-2-.1-1.5 1-2-.7-3 .5-2 0-3 .7-1-.3-1 .3-2.5-.5-6 1.1-3.5-.2-5 1.2-2-.2-1.5 .2-1.5-.3-2.5 .6-3.5 1.4-2.5-.9-4 .5-2-.1-1.5 .5-1.5-.4-2 .2-1-.2-2.5 .2-1.5 .6-2.5-.3-2.5 1.1-2.8 .1-.7 1.6-1.5-.7-2 .5-2.5 0-.7 1.6-1.3 .7-2-.3-1 .3-2-.2-2.5 .9-2.5 .4-1.2 .7-1.8 2-.5 1.5-.6 .5 .4 2 .8 2-1.2 .5-.7 1-.2 2.5-.9 1.5-.7 4.5-2.4 3.4-1 .5-2-.7-.8-1.2-1-3-.1-2-.4-1.5 0-2.5-.7-1.7-1.6-1.8 .3-2-1.2-1.1-2-.2-1.5-.8-1 .1-1.4 1-2.6 2.7-1 .2-2 1.6-2.5 .3-1.8 .7-1.7 1.4-4.2 2.6-1.5 1.5-3.8 1.5-4 3.1-2.6 .9-5.9 4.4-1 1.7-2.5 0-2 .7-3 2.2-1.5 .6-3 2.3-3.5 1.5-4.5 3.4-5 2.2-1.5 1.4-2 1.3-1.1 1.3-4.4 2.3-2.2 1.7-1.2 1.5-1.6 .5-2 1.2-1.5 0-.5 .3-2.1 2.5-2.4 1.5-1.5 2.6-1.5 .6-2 .3-1.5 .8-2 .3-1.5 1.2-2 1.1-1.3 1.6-3.9 3-1.3-.1-1-.9 .2-1 1.3-1.5 2-.9 1-1.2 2.5-.8 1-1.4 1.7-.7 2-3 2-2 3.3-1.4 5-3.4 4.4-4.7 1.6-.2 2-1.1 1.4-1.2 1.1-1.7 3-1.2 1.5-1.1 1.5-1.8 2.5-1.6 2.5-2.6 5.5-3.4 5-4.3 2-1.3 .8-1 1.5-1 2.3-3 2-1.5 .9-1.4 2-.7 .5-.7 .5-1.7 2-.9 1.4-1.1 2-.5 1.4-2 2.2-1.3 1-1.4 1.9-.8 .1-.8-.6-1.2 .6 .2 1-.2 1.5-1 .1-.5-1.4-1.5 0-2-1.4-2.5-.8-.6-3.5-.8-4.5 .4-.6 .5-.3 1-.6 0-2.5-1-3 .5-.5-.3-.5-1.3-1.5 .7-2-.9-1.5 .5-1.5-.8-1 .7-2.5 .7-1-.3-1.5-1.4-1-.3-.8 .2-.7 .8-2-.9-2 .7-1.5-1.4-1.5 .4-3.5-.8-3.5 .7-2-1.4-4.5-.4-1.5 .7-1.1-.9-.9-.2-1.2 .7-.8 .1-1.5-1.4-2-1.1-1.5-.4-1-.7-1 .2-1 .9-.5 0-1.4-2.1 1.4-.9 2 .5 2-1.5 2.5-.9 1.5 .3 2-.4 2.5-1.3 1.5 .8 1.5 .1 2.5-.6 5 0 2-.8 7-.7 2.5 .2 1.5-.6 4-.1 1.9-.6 1-1 1.6-.6 2.5 .7 2.5-.4 2 .4 8.5-.8 2-1.3 3.5 1.1 1.5-.9 2 0 1-.6 2.5-.2 1.5 .3 .9-1.2 3.6-.6 1.5-1.2 1 .1 2 1.1 2-.4 1-.8 1.5-.5 1.5 .2 2-1.9 1.5-.5 .7-.5 .3-1.5 .9-1 .8-3.5-.1-1-.8-.5 0-.5 1.1-1 .5-1.5-.6-1.5 .4-1-.4-2 .3-3.5-.5-3-.2-4.5-1-4-.3-3.5 .9-3.5 0-4-.4-2 .7-2-.1-4-.8-2.5 .2-2.5-.3-5.5 .5-2-.9-3.5 .8-2-.3-2 .5-1.5-.3-1 .9-2-.2-4 1.4-1.5 2-3 1.3-1.1 2.5-1.1 1.5-1.1 1.5 .4 2 0 .7 1.4 1.3 1.1 1.2 1.9 .3 4.5 1.1 4.5 .1 2 .7 2.5 1.1 2.5 .5 .3 2-.6 .5 .2 .2 .6-3.3 3 0 2-1 3.5 .4 2-.2 2 .7 2-.5 1.5 .4 2-.6 2 .1 1.5-.4 2 .7 2.2 1 1.3-1.1 1.5-.3 2 .5 1.5-1.1 1.5 .1 2.5-.7 1.5 0 2-.9 2.7-.3 2.8 .1 2-.4 1.5 .3 2-.1 3.5-1.1 2 .3 2.5 1.4 2.5 .9 1 .4 1.6 .5 .4 3-.3 2-2 .5-.1 1 .4 3.5-1.5 3-2.4 6.5-2.4 1-1.4 2.5-1.3 1.5-.5 .8-1.5 1.2-.9 4-2.1 1.5-.3 2.5-1.7 5.5-2.3 5.5-3.8 2.5-2.4 4.5-2.8 2.5-1 1.5-1.2 2.5-.8 2-1.7 4-1.7 3-2 2.5-.8 1.2-1.5 3.3-1.7 2-1.8 2-.8 2.9-2.7 2.6-.4 1.5-1.6 7.3-5.5 5.2-1.3zM329.4 276.4l-.4 1.1 .2 .5 .7 .6 1-.1 .5-1-.3-.5-1.2-.7zM351.4 241.1l1 .4 .3 .5-.8 .6-.6-.1zM308.8 244.5l-.3 1-.6 .2-1.6-.7-.3-.5 .4-.4 2-.1zM251.9 266.5l1.4-1.5-.5-1.5 1.1-1 1.5 1.3 1 .1 1.4 1.6-.9 1.3-1 .3-1 .9-1-.2zM361.4 309.2l.5 .5 .1 .8-.6 .6-.5-1.1zM364.9 311l1-.7 .5 .1 .2 .6-.7 .3zM364.9 311l.2 .5-1.2 1.2-.8-.2-.3-.5-.1-.5 .7-.4zM366.9 9.5l-.5 .8-2.5 1.2-.1-.5 .6-.5zM360.5 13.5l-.1 .6-1.1 .9-1.8 1-1.6 .4-.1-.4 .5-.5 3.6-1.9zM340.4 26l-1.4 1.5-5.1 3.1-2 1.7-2.5 1-2 1.2-.1-.5 4.1-3.3 3.5-1.8 3.5-2.5 1-.4zM327.4 34.5l-3.5 2.2-2 2.2-2.5 1.8-8 4.3-15 10.1-6 3.4-4 3.1-3.2 1.9-4.8 3.5-7.5 4.3-7 5.7-2.5 1.2-4 3-3.5 1.5-4 3-1.5 1.6-3 2.2-2.8 1.5-4.7 3.8-1.6 .7-.9 1-.9 1.5-1.1 .5-1.5 1.3-2 .9-1.3 1.3-1.7 .4-2.2 3.6 .1 1 3.6 2.6 1 .4 1.5-1.2 1 0 1.4 1.2-.4 1.1 5-.1 1 .3 1.2 .7-1.2 1.2-.5 .2-1.5-.9-1.5-.4-1.3 .9-1.2 .3-1.5-.4-2.5 1-2.5-.2-2 .6-6 .6-1.8 1.1-1.2 1.2-3 1.7-2 .5-3.5 2.5-2 1.1-4.5 3.6-1-1.4-2-.4-2 0-1 .3-1.5 1.1-9.5 3-5 3.3-7.5 3.7-3.5 3-2 .5-4.9 2.3-3.6 2.3-5 2.5-3 2.5-2 1-3.6 2.7-3.3 1.5-12.1 7.6-7 3.9-5 3.8-7.5 3.8-7.5 5.6-5.5 3.1-2 1.7-5.5 2.7-4.3 3.3-3.2 1.8-4 2.7-1.5 .6-.7-.1 3.7-3.2 4-2.1 8-5.5 1.5-1.4 3-1.5 5.5-4.1 8-4.6 6.5-4.8 6.5-4 14-10.2 3.5-1.6 4.5-3.8 3.5-1.9 2.5-2.3 5.5-4 2-1 4.3-3 1.7-1.9 3-2.4 1.5-.5 3-2.2 2-1.7 3.2-3.8 1.8-1 .6-1.5 1.9-.1 .5-2 .5-.4 1-.2 .7-.8 .1-.5-.3-.7-2 .2-2 .6-1.5-1-1-.2-1-1.4-1.7-1-.8-.1-1.5 .6-2-1.6-2 .3-3.5-.7 .7-.5 3.3-.8 1.5 .3 1.1-1 6.9-2.5 4 .3 1-1.4 1-.4 1-.9 1.5 .2 1-.5 .5 .2-.1 .5-1.2 .5-.2 .5 .5 .5 .5-.2 1-1.1 2-.8 3.4-3.4 .6-1.6 1.6-.9 0-1.5 1.1-2 1.3-1.4 2.5-1.1 1 0 2.5 .8 2.9 3.2 .6 1.1 3.5 1.2 2.5-1.8 2.3-.5 .8-1 1.9-.8 1.5-1.3 1.5-.4 1-.9 2.2-.1 .5-.5 .3-1 .5-.3 3-.3 .7-.4 .8-1.1 3-1.5 6.6-1.9 2.4-2 6-3.1 1.5-1.3 4.5-2.1 3.5-3.2 3-.9 2.3-2.4 2.1-3.5-.1-1.5-1.3-.2-3 .9-2-.3-2.8 1.6-1.7 2.2-8.5 1.1-2.5 1.9-2 .8-3.5 .1-2 1.1-1.5 0-2-.6-1.5 1-1.5 .6-6.5-.7-.6 .5-.4 1.2-1-.1-1.5-.8-2 .8-2-.1-.1 .5 .6 1-.5 .1-.3-.6-.9-.5 .2-1.5-1.5 .4-3-2.3-2 .3-2.5-2-1 .1-2.5 1.5-4-1.8-2 .1-2.2-1.3-.8-1.8-1.5-1.2 .1-1 1.8-3.5 1.6-.6 1 .7 .5-.1 1-1.5 .3-2 2.2-1.9 1.5-.3 1.5-1.7 3.5-.3 1.5-1.2 3.7-1.6 3.8-1.3 7.5-1.8 2.5-1.5 3-.3 9-2.1 3 .1 1.5-.6 5.5-.3 3.5 .3 6-2.5 1.5 .8 5 1.3 2-.2 3 .4 1.5-.3 1 .4 1 1.1 2-.1 .5 .2 .6 1.4 2.8 2.5 0 2.5-.7 2.5-2 1-2.3 3.5-1.4 .7-2 .4-.4 .9 .1 1-1 1 .3 1 1.4 .5 .6 .7 1.5 0 4.5-1.4 4.8-3.3 2.2-1.9 2-.6 1.5-1.2 2.5-.7 2-1.4 3-1.4 5-3.6 4.5-1.9 6.1-3.8 1.4-.6 3.5-3 3-1.3 3-2 3.5-1.4 2.5-1.6zM362.4 145.5l.5 0 .2 1-.2 1.2-.5 .4-.6-.6-.2-1 .3-.7zM468.9 195.5l-2.5 2.5-2 .5-.4 1.5-1.1 1.1-3.5 1-3 2.2-1.7 1.7-2.8 1.2-2 2-1.5 .6-3 2.4-1.5 .6-1.5 1.7-3 2.1-1 1.2-1.5 .7-2 2-1.5 .6-2 2.1-2.5 1.2-1.4 1.6-2.6 1.5-6 4.5-2.3 2-1 1.5-2.7 1.1-2.3 1.9-1.7 2.3-1.5 .9-1.5 .4-4.4 3.9-2.6 1.1-2.5 2.9-2 .5-2.5 2.2-1 1.3-.3 1 .8 1 1.5 .4 2 1 5 .6 2-.6 2.5 .9 3-.2 1.5 1.1 2-.3 4 .6 2-.9 1.5 .4 2-.3 2.5 .5 2-.4 2 .4 1.5-.7 1.3 .5 1.7 1.9 4 .6 4-.5 6 1.1 5.5 .2 6 .9 2-.8 1.7 1.1 .3 1.3 .5 .1 3-1.1 1 .5 1.7 .2-.2 1-1 .4-2-.3-1.9 1.9-.6 .2-1.5-.2-2 .6-1.5-.4-1.5 .5-1.5 .1-1 .6-2-.1-2 .4-2-.3-1.5 .4-4 .1-4 .7-3.5 0-4 1-6.5-.1-5 1.6-2-.6-9 .5-3.5-.4-5.5 .5-4.5 1.2-2.5 0-4 1.6-2.5-.1-.9 .7-1.1 1.6-2-.5-2.5 .3-8.5 2.4-.9 .7-1.9 3.5 .8 4-1.1 3-.1 1.5-.6 1.5-.2 2-.8 1.5-.2 1.5-2 1.8-.5 .1-1.2-.4-.9-1.5-.5-3.5-.6-1.5 0-2.5-1.2-3.5 .3-2-.4-1.2-.6-.8-.9-.6-2 0-2-.6-1.5 .4-6.1 3.8-1.4 1.4-3.5 1.3-2 1.3-2 .7-4 3.5-4.5 1.8-4.1 3-2.3 1-2.6 2.5-2 .8-2.8 2.2-3.7 1.3-3.5 2.1-2 1.8-4 1.9-6 4.1-3.5 1.6-3 2.2-2.2 1-1.3 1.4-2.5 1.2-3.6 2.9-1.4 1.6-2.5 .9-3 .5-1 2-1 1.1-2 .5-1.5 1-1.5 2.7-.5 .2-1.5-.3-2 1.2-1.2-.4 .5-2 .7-1 2-1.3 2.3-.7 1.2-1 1.5-.7 1.3-1.3 1.7-.2 .9-2.3 3.5-3 2.6-1.3 1.7-1.2 1.8-2.1 3-1.2 1.5-1.3 1-1.3 2-1.3 4-3.8 3-1.5 7.3-6 1.9-1 2.8-2.8 1.5-.8 1.8-2.4 1.7-1.7 1.6-.8 1.4-1.9 2-.6 1.2-1.5 2.2-1 1.6-2.2 5-3.3 1-1.8 1.5-.4 1-.6 1.1-1.2 .9-1.8 1.5-1 1.1-.2-1.2-1.5-1.9-.2-1.5-1-1-.1-1.5 .6-1.6-1.8-1.9-1-4-.2-5.5 .7-4-.9-2-.3-1.5 .2-2-.4-3-.2-2 .7-1.5-.1-2-.8-2.5-.5-2.5 0-2 .7-1-1-2.5-.6-5 .4-3.5-1-3.5-.2-3.5-1.2-2.2-.3-1.8-1.5-2-.5 1-.2 1.5-.8 2 .1 .9-1.1 .6-.2 1.5 .2 2-.1 2.5-1.1 6 0 1.5-.6 5-.7 4-.1 2.5-.5 3.5 0 5.5-1.4 2 .1 2-.4 1.5 .3 2-.3 7-.2 1.5-.3 1.5 .3 1.8-.5 2.2-.2 3-1 1.5 .3 3.5-.3 2-.8 3.5-.4 1-.8 1.5 .1 3.6-.4 3.4-1.1 1.5-1.5 3-1.9 1.3-2 .3-3 .1-4 1.1-3.5-.9-3 .5-1.5-.9-5-.5-6-1-3.5 0-2.5 .6-4-.3-5 .7-2.5-.1-3.5-.8-3.5 .3-2.5-.2-5.5 .4-1.5-.5-3 .9-8.5 .2-4 1.8-2.6 2.5-2.8 1.5-.4 2-1.3 2.5 .3 2.7 2.3 .8 2 2 12 1.6 5-.7 2-.6 5.5 0 4 .4 1.5-.2 2 .4 1.5-.6 2 .2 1.5-.4 2 .5 3.5-.4 3.5 .1 1.5-2 10.5-.1 4-.4 2.5 0 4.5-1.2 2-.2 1 .2 2 1.3 2 .3 3.5 2.3 1.3 4-.2 1.5-1.3 5-2 6-4.2 3.5-1.1 1.5-1.2 4-2.3 1.5-2 6-2.7 2-1.6 6.5-3 5-3.5 2-1.9 4-2.6 3.5-1.7 1.5-1.1 2.4-.9 1.7-1.5 4.4-1.7 2.5-1.8 3-1 1-1.3 4-2.3 1.5-1.4 1.5-.5 2.5-2.4 3-.4 4-3.9 3-1.8 1.6-1.5 1.4-.5zM74 195.5l-2.1 1.8-4.5 2.9 0-1.2 4.5-3zM251 345l-1.1 .7-.5 .1-.3-.3 .8-1 .6 0zM321.7 38l-6.3 4.5-1.5 .5-.9 0 1.8-2 2.1-.7 3.8-2.3zM273 50.5l.5 3-.3 1-1.4 1-1.1 3-.8 .5-2 .5-1.5 2.2-4 1.7-1.3 1.1-3.2 .4-1.8 1.1-1.6 .5-1.6 1.5-2.5 .7-1.5-.2-2.5 1.2-2.5 .3-2 1.6-2.8 .9-4.2 .6-4-.2-1.3 1.1-1.2 .6-2.5-.6-2 .3-2-.6-2 .6-2-.8-3 1-5.5-2.2-2.5 .1-2.5-1.6-3-1.2-1.5 0-1.5 .8-2.5-1.6-1.5 .4-.8-.2-.4-.5 .1-1 .6-.5 .5 0 1 .5 .3-1 1.2-.7 .5-1.3-.3-1.5 1.2-2.5 2.6-1.5 1.5-1.8 3.5-1 2-1.7 4.5-1.7 4.5-1.5 1.5-.1 2-.9 2.5-.4 2.5-1.2 6.5-1.4 2-.7 2.5-.3 3 .1 1.5-.4 3.5-.2 2-.5 3.5 .3 6-2.2 1.5 .7 3 .7 4 1.7 2-.2 4.5 .9 .9 .8zM310.4 45l-1 1-3 1.2 .4-.7 2.3-1.5 .8-.2zM306.3 47.5l-6.8 5-8.6 5.2-4 3-7 4.3-2 1.7-7 4.1-7.6 5.7-1.9 1-4 3-4 1.9-4 3.1-1.5 1.5-7.5 4.4-1.5 1.6-3 1.7-2.5 2.8-5.4 3.5-1.6 .6-2 3-1.8 1.9-.4 1 .6 1.5 .5 .5 2.1-.3 1 1.1 3.3 1.2 .3 .5-.6 .6-1 .2-5-.3-2.5 .3-2 .6-2 1.5-1.5 .6-3 2.4-2 .8-8 5.1-2 .7-.5-.4-2.5-.5-2.5 .4-2.5 1.2-9 3.3-8.3 5-4.2 2.1-3.5 2.9-7 3.1-3.8 2.4-4.7 2.4-9 6.3-3 1.3-5.3 3.5-14.2 8.3-4.9 3.7-5.6 3-1 0 5.9-4.5 5.6-3.4 14.7-10.6 3.3-1.6 5-4.1 3.3-1.8 7.8-6 6.4-4 2.5-2.4 8.3-5.6 2.7-2.9 5.5-3.7 3.6-3.9 .1-1.5 .5-1-.2-.9-2.5 .1-1 .5-2 .1-1.5-1.6-2-.2-2.5-1-2-.2-.4-.3 .1-.5 1.3-1.2 2.5-.6 4 .3 3.2-.5 .8-.6 3 0 4.6-3.4 2.9-2.8 2-1.2 1-2.2 .2-1.8 .6-1.5 1.2-1.2 2-.9 2 0 1.5 .6 1.9 2.5 .8 2 1.3 .9 3 .3 2-1.2 1.5 0 1.5-.6 2.5-1.5 1-1.3 3-.9 4.5-2.2 6-3.7 7.7-2.8 2.8-2.3 5.7-2.7 1.7-1.5 5.6-2.9 2.2-2.1 2.8-1 1.5-1.4 2.5-1.2 1.2-1.9 2.3-.3 2.2-1.7 5.3-2 7-4.7 2.5-1.2 1.2-1.1 2.8-1 7.5-4.3 2-1.7 4-1.8 3-1.7zM441.6 213.5l-3.7 3.7-1.5 .6-1.5 1.9-2 1-2.2 2.3-2.2 1-1.3 1.5-2.3 1.2-1.5 1.4-3.5 2.2-4.9 4.7-2.3 1-2.5 2-2.2 2.5-2.1 1-5 3.8-2.5 1.2-2.5 2.5-3.7 2-2.3 2.5-.7 1.5-1.2 1 .9 .7 1.5 .3 1.5 .7 2.5 .5 1.5 0 2 .8 4-.4 4.5 1.2 2.5 .3 2-.3 3 .5 3-.6 2 .6 6.5-.5 1.5 .5 2-.1 2.5 1.3 2.5 .4 3 .2 3-.3 7 1.4 3.5 0 2.5 .8 1 .7 1 .3 .2 1.5-.2 .5-.5 .1-1.5-.9-.6 .3-.9 1.1-1 .1-1.5 .6-3-.1-1.5 .4-3.5 .1-4 .7-4 .2-3.5 .7-2.5-.2-2 .3-2.5-.1-4.5 .9-6 .4-8.5-.2-2.5 .4-2.5-.1-5 1.1-2.5 .2-4 1.4-2.5 0-3 1.4-4 .7-8 2.1-1.5 1-1.9 3.9 .3 4.5-1.9 7.1-1 .2-1 1.8-1.5-.2-.4-1.4-1.1-1.5 0-2-1.1-4.5 .2-2-.6-1.6-1.5-1.9-.9-.5-1.6-.2-2 .4-5 2.5-4.5 3.3-7 3.3-5 3.8-4.2 1.9-4.3 3.1-1.9 .9-2.6 2.5-2 .5-3.5 2.5-3 1.1-3.7 2.4-2.1 2-2.7 .8-6.5 4.5-4.5 2.3-3 2-2 .6-1 1.2-2.5 1.4-2.2 2.2-3.1 2.5-2.2 .5-1.6 0 0-.5 2.1-1.7 1-1.3 4.4-2.5 2.1-1.8 2.5-1.2 2.5-2.6 6.2-5.4 2.3-1 7.5-6.3 2-1.1 2-1.9 2-.9 2.6-3.3 3.9-3.6 2.8-1.4 1.4-1.5 2.3-1.3 1-1.4 1.5-.7 8.5-7.2 2-1 2.5-1.9 1-1 .4-1-2.4-1.6-4.5-.2-6.5-2.3-4.5-.3-6.5 .3-2-.8-8.5-.3-3 .3-2-.6-4-.6-4 .3-4-1.2-4.5 .3-2-.9-4.9-.4-2.4-2.5 .3-.5 2.5 0 2-1 12-2.4 6-.6 4 0 5.5-1.1 4.5 .1 7.5-.7 2 .2 2-.4 2.5 .1 3.5-.4 2.5-1.1 2 .2 4-.4 4.5-1 1.5-.8 5.5-.3 1.3-.4 5.7-3.3 2.5-2.7 .3-3.5-.2-2 1.2-5.5-.7-5.5-.9-4.5 .1-2-.7-4.5-.8-3 .5-7.5-.4-4 .6-2.5-.6-7.5 .3-8.5-.1-6.5 .6-6.5 .6-2.5 1.2-2.5 2.1-2.5 3.4-1 2-.3 1.5 .7 1.1 1.1 .8 2 3.1 16-.7 6-.2 6 .3 2-.3 4.5 .3 2-.5 3 .3 2.5-.3 7-1.7 8-.2 5-.7 5.5-1.1 3-.3 2.5 .1 .8 .8 1.2 .3 3 .9 1.5 1 1 2 .8 4.3-.3 1.7-1.6 4.8-1.9 5.7-3.9 3.5-1.4 3-1.8 7-4.9 3.5-1.7 2-1.6 1.5-.4 2.5-1.7 2-.8 4-2.5 6.9-5.3 5.1-2.5 3-1.8 1.3-1.2 2.2-.5 2.5-1.2 1.5-1.1 1.5-.4zM107 174l-6.5 5-4.6 2.3-.3-.3 4.6-3.5 6.2-3.5zM94.9 182l-1.5 1.6-2 1.1-1 .2-.1-.4 1.6-1.5 2-1zM454.2 204.5l.1 .5-.4 .5-1 .2-.3-.2 .7-1zM271.3 51.5l-.3 2.5-2.1 2-2.2 1.5-.9 2-.8 1-1.6 .3-2.5 1.4-1.7 .3-3.3 1.5-1 .8-4 2.4-3.5 .6-1.5 .8-3 .7-5.5 2.2-1.5-.1-1.5-.6-2 .9-5 1-3 .3-2.5-.8-2 .3-1.5-.5-2 0-2 1-1.5-1.1-1.5 0-2-.8-3-.4-4.5-2.7-2 0-.5-.5-.6-2 .7-2.5 1.3-2 2.3-2.5 1.8-1.2 1.5-.5 1.5-1.4 4-1.5 2-.4 3-1.4 2-.3 1.5-.8 2-.3 4-1.6 2.5-.1 5-1.7 5.5-.1 7-.9 4 0 3.5-.9 2.5 .3 3-.2 1.6 .5 2.9 1.8 2 0 1.5 .7 2-.5 .6 .5-.1 1.5zM289.2 58l-2.3 2.1-2.5 1.3-1.5 1.2-3.5 2-2 1.8-6.5 3.8-11.5 8.3-6.3 3.5-5.7 4.7-7 3.9-2 1.9-3 1.8-2 2.1-7.3 4.6-3.1 3-2.5 3-.7 3 .4 1.5-.3 .4-1.8 .6-1.5 1.5-1.7 .8-3 2.5-5.5 3.5-4 2.1-2 .6-3-.6-3 .2-2.5 1.4-8.7 3.5-5.3 3.3-7.5 4-3 2.6-7 3.2-4 2.5-5 2.7-8.5 5.8-3.5 1.7-12.4 7.7-2.1 1-.6 0 5.9-4.5 5.2-3.5 3.5-1.9 5-4.1 3.5-2 7.5-5.7 6.8-4.3 1.7-1.8 8.6-5.7 2.4-2.4 8-5.8 1-1.2 1.5-.9 .4-.7 .4-2.5-.3-1-1-1.1-3.5-.4-1.5-.8-1.5 .3-4.3-.5 .3-.5 5.5-.1 1.5-.6 2 .2 2-.8 8-7 2.2-1.2 .8-1.7 .8-3.8 1.2-1.2 2.5-.9 2 .4 1.7 2.2 1 3 .8 .8 1.5 .7 1.5 .1 5.5-1.8 3.5-2 1.2-1.3 3.1-1 9.2-5.5 9.4-4 2.6-2.1 5-2.4 3-2.2 4-1.8 2.5-2.1 7.3-3.9 1.2-1.3 2.5-1.1 4-2.7 3-1.1 6.5-4.1 2-.9 2.4-1.8zM434.9 217.5l.1 1-.6 .6-1.5 .7-2.9 2.7-1.6 .8-1.7 1.7-2.8 1.5-3 2.4-1.5 .8-5 4.8-2 1-3.7 3-1.3 1.5-1.5 .7-5.2 3.8-2.3 1.2-6.5 4.8-3.7 3.5-1.6 1-.8 1.5 .3 .5 2.8 1.2 7 1 1.5 .6 3.5 0 5 .7 7.5 .5 3.5-.3 2.5 .4 5.5-.3 9 1.8 5.5 .2 3.5 .4 4.5 1.7 1.7-.4-1.7 2-2 .3-2 .9-2 0-5 1.1-2-.1-5.5 .8-6.5 .2-8 1.1-8.5 0-5 .3-2-.2-8 1.4-4.5 1.2-2.5 .2-7 1.8-3 1.2-4 .9-2 .9-1.3 1.5-1.2 3.5 .2 4-1.2 4.4-1 1.2-2.5 .8-.6-.4-1.1-5.5-.1-3-1.2-3.5-1-.8-1.5-.6-3.5 .7-6 3-1.5 1.4-2.5 1.6-6 2.7-6.3 4.5-2.2 1-6 4-1.5 .7-3 2.5-2 .7-3 2.1-3.9 1.5-1.1 1.1-2.4 1.4-2.1 1.9-2.5 .8-2.5 1.9-1.5 .6-1.5 1.3-2.5 .9-1.7 1.1-1 0 .2-1 .5-.6 2-.9 1.5-1.6 5-3.6 4.5-3.9 1.5-.7 1.5-1.7 3-1.6 2.5-3 4.5-4 2.5-1.3 1.6-1.6 1.9-1.1 10.5-8.9 6.7-4.5 .9-1 .2-1-.8-1.2-2-.4-1.7-.9-4.3 0-1.5-.7-5-1.1-11-.4-1.5-.5-12-.1-4.5-.9-5 0-6-1.4-2.5 .5-.9-.4-.7-1 0-1.5 2.1-.9 1.4-1.1 1.6 0 2-.9 2-.4 9.5-.6 5.5-.8 4 0 8-.8 2 .2 2.5-.4 2.5 .2 3-.6 3-.9 1.5 .2 8.5-1.3 1.5-.7 5-.4 2-.6 4-2.1 2.5-.9 2-2.3 .4-.9-.1-2 .5-1.5 .1-2.5 .7-2 .1-2.5-.9-6.5-.9-4.5 .1-2-1.3-6.5-.2-3 .4-4-.4-5.5 .5-3-.4-7.5 .3-6.5-.2-8 .8-7.3 1.8-3.7 1.7-2.3 5.5-.9 1 .5 .5 .7 .9 2 2.4 12.5 .3 4.5-.6 10.5 .3 3-.3 3 .2 2.5-.3 3 0 9-1.7 8.5-.4 5-.7 4-1.3 4.5-.2 3 1 4.5 1.9 3.5 .5 .4 2.5 .6 3.5-.5 1.3-.5 1.7-1.6 4.6-1.9 3.4-2.3 8.5-4.6 7.5-5.1 3.5-1.8 1.5-1.2 1.5-.6 2.9-1.9 2.1-.8 2-1.5 2-.8 4-3.4 3-1.8 5-2.5 4.5-3zM266.3 51l-.6 2.5 .6 2-1.9 2.5-2 1.6-2.5 1.4-4.5 1.8-4.5 2.8-2.5 1-2.7 .4-1.6 1-5.2 1.7-2-.1-3 .2-2.5 .8-4 .6-6-.4-2 .3-4.5-.6-3 .2-3.5-1-1.5-1-1.5-.6-1-1.3-1.5-.8-1.1-2.5 .2-1.5 1.9-2.6 1-.9 2-.8 1.9-1.7 5.1-1.5 3-1.5 2-.5 2-.9 2-.3 3.5-1.3 3-.3 4.5-1.5 5-.2 9-.9 5-.1 2-.4 5 .5 1.5 1.4 3.5 1.1zM274.8 67l-1.9 1.6-1.7 .4 2-2 1.2-.3zM269.9 70l-1.4 1.5-4.1 2.6-2 1.7-3.5 2.4-6 3.3-6.4 5-6.1 3.4-7.5 5.9-8 5.3-5.5 5.4-1.7 .5-1.8 2 0 1 1 2-.7 1-4.8 4-5 3.3-5.5 2.5-3.5-.5-3 0-11.5 5.3-5 3.1-6 3-5 3.8-6.5 3-4 2.6-5 2.7-4.5 3.2-5 3-2 .7 .4-.7 3.6-2.9 4-2.4 7.7-5.7 6.3-4 2-2 9-6 12.9-10 1.4-2.5-.8-2-1.6-2.5 .2-.5 3.5-4 4.9-3.9 2.5-1.6 .6-1.5 .6-3.5 1.4-1.5 1.9-.6 1 .1 1 .5 1.3 2 .7 3.1 1.5 1.5 3 .6 3.5-1 17-9.3 1.5-1.2 10.5-4.8 3-2.4 4.5-2.1 2.5-1.7 4-2 5.5-3.7 5-2.6 1.7-1.4zM365.4 169l1 .7 .8 1.3 2 9.5 .5 6.5-.5 32-3 17.5-1.2 4.5-.1 3 .9 4.5 1.7 4 .9 .7 2.5 .7 3.5-.6 2-.7 2.3-1.6 1.7-.6 6-3.8 7.5-4 8-5.2 2-.9 7.5-4.8 2-.7 2.5-1.5 1-.2 .6 .2-.1 .5-1.6 2-2.1 2-4.4 3-5.2 4.5-6.2 3.9-11.9 9.1-1.3 1.5-.2 1.5 .9 .7 3 .7 2.5 .3 6.5 1.3 15.5 1 12 .1 5.5 .9 3 .9 3 .3 2 1 2.5-.2 .7 1-.7 1-.5 .3-2-.2-2 1-2-.1-2 .7-18 1.9-15.5 .3-5.5 .7-16.5 3.6-3 1.4-5.4 1.4-2.1 1.2-.7 1.3-.7 3 0 3.5-.6 2.5-.5 .8-2 1.2-.5-.4-1-2.1-.1-2-1.7-6-2.2-1.2-2.5 0-5.5 2.2-3.4 2-1.6 1.6-4.8 1.9-7.9 5.5-11.3 6.6-3 2.3-1.7 .6-1.3 1-5 2.3-2-.1 .1-.7 2.4-1.6 4.9-4.9 3.1-2.5 2.5-1.5 9-7.8 2.5-1.6 3.7-3.1 5.8-3.9 .9-1.6 .3-1-.2-.9-.8-.6-4.7-1.4-4.5-.1-2-.8-3.5-.6-13-.9-14-.4-3.5-.7-3.5-.1-3-.5-1.1-.5-1.8-2 1.9-1.6 2-.9 2-.4 2 .1 10.5-1.2 9-.2 11-.7 6-1.2 6-.6 5-1.1 5-.7 8.8-3.5 1.7-1 1.2-3-.2-1.5 1.6-7.5-.3-4.5-1.8-8-1.3-11.5 .2-36 .8-5.5 2.8-5 1-.6 2.5 .2zM425.6 224l-.2 .5-2 1.1-2 1.9-1.5 .8-.7-.3 .7-1 1.9-1.5 2.8-1.5zM302.6 308.5l0-.5 .8-.7 .7 .2-.7 .9zM263.6 52.5l0 2.5-.5 1.5-.7 .8-2 .6-2.5 1.6-2 1.8-5 2.3-2 1.4-3.5 .8-2 1.3-4.5 1.5-2-.2-2 .5-2-.1-7 1.2-8-.2-4.5-.9-2.5 .1-1.5-.5-5-4.4-.3-.6 .8-3.1 1.5-.6 3-2.5 2-1.2 9.5-3.7 13.5-3.5 16.5-1.1 6.5 .1 4.8 2.6zM251.7 81.5l-5.7 4.5-5.1 2.8-12 9-2.2 1.2-6.8 5.6-3 1.7-2.1 2.2 .1 1.5 .7 2-4.2 4.4-5 3.5-6 2.5-5-.9-1.5 .2-11.5 5.5-5 3.2-5.5 2.7-5 3.6-6.5 3.2-4.9 3.1-1.8 .5 2.2-2 4-2.5 2.5-1.8 1.6-1.7 7.4-4.7 10.5-7.7 5-4.1 1.4-2-2.3-5 .3-1 3.5-4 3.6-2.8 2.8-1.7 .7-1.5 .5-3.5 1.5-1.7 2-.4 1.5 .8 .8 1.3 .7 4 .9 1 3.1 1 2.5 0 2-.7 9.6-5.3 9.4-5.6 10-4.8 3.5-2.6 5-2.2 1.5-1zM365.4 170.4l1 .6 1.2 4 1 5.5 .5 6.5 0 14.5-.6 17.5-4.3 22.5 .2 4 1.5 5.4 .9 2.1 1.6 1 2.5 .5 4.5-.8 5.5-2.8 5.5-3.5 7.5-4.1 8.5-5.4 2.5-1.1 3.3-2.3 3.7-1.9 .8-.1 .1 .5-.3 .5-2.6 2.1-1.5 .8-5.5 5.1-2.5 1.4-4 3.1-5.9 4-5.7 4.5-1.3 2-.2 1 .2 .5 1.4 1 12.5 2.2 5.5 .5 21.5 .6 6 1.2 .8 .5 .8 1.5-.6 1.2-1 .5-6 1.4-2.5 0-8 .8-11 .2-9 .8-16.5 3.6-3.5 1.4-4.2 1.1-3.7 1.5-.7 1-.7 2-.7 5-.5 .7-.5 .2-2.1-1.9-1.3-4.5-.6-1-2.5-1.2-3 .2-5.5 2.5-3 1.8-2 1.6-4.5 1.8-8.5 6-11 5.9-3 2.4-1.1 0-.7-.5 .1-.5 3.2-3 5-3.8 6.5-5.8 2-1.2 2-1.8 8-5.8 1.6-2.6 .1-1.5-1.2-1.1-3-1-2.5-.5-4.5-.2-5-1.3-12.5-.8-15.5-.4-3-1.2-2 .1-1-.7-2.5-.4-.5-.5 .2-.5 1.8-1.5 1-.4 2 .1 6.5-1.3 19.5-.9 17-2.1 9.5-1.9 10-4 .7-.5 .8-1.9 1-5.1 .5-1.2 .4-4.3-.3-5-.7-4-1.1-3.5-1.4-11.5-.1-29.5 .2-7 1.1-5 1.9-3.7 1-.7 2 .2zM260.2 53.5l.1 1.5-.3 1-3 2.5-1.3 1.5-2.8 1.7-2.5 .9-2 1.2-2.9 .7-2.6 1.4-4.5 1.5-13 1.3-8-.1-6.5-1.8-2.5-2.3-.9-1.5 .1-1.5 1.3-2 4-2.9 5.5-2.3 3.5-1.2 12.5-3.2 16.5-1.3 4.5 .4 2 .5 1.6 1 .5 .5zM236 91l-.5 1-2.6 2-18.2 13-.8 1.5 .8 3-.3 1-3.1 3.5-4.9 3.5-6 2.4-5-1.1-2 .3-11.5 5.7-5.1 3.2-4.9 2.3-5.1 3.7-1.9 1-1.6 .5 1.1-1.5 5-3 17.5-13 2.1-2 .1-1.5-2.1-3.5-.4-1.5 1.3-2 2-2.1 3.5-2.7 3.5-2.2 .5-1 .3-3.5 1.2-1.7 1-.5 1 0 1.5 1 .7 1.7 .1 3 .5 1 3.7 1.5 3 .3 2.5-.9 19-10.9 3-1.3zM365.4 171.6l.5 .5 1 2.5 1 4.5 .6 4.4 .1 18-.7 17.5-1.5 8-1.4 3.5-1.7 11 .3 3.5 1.8 6.9 .5 1.1 1.5 1.2 2.5 .8 2 .1 3-.6 6.5-3.1 19.3-11.4 1.2-.2 .3 .2-.1 .5-.5 .5-2.2 1.2-3.4 3.3-6.1 3.9-2.1 2.1-3.9 2.9-1.7 2.6-.1 1 .2 .5 2.6 1.3 5.5 .6 6 1.2 6.5 .6 10.5 .3 10.5 .7 2.5 .8 1.7 1.5-1.2 1.2-2.5 1-10.5 1.1-11 .2-7.5 .7-5.5 .8-10.5 2.3-5.5 2.1-8 2.4-1.1 1.2-1.4 4-1 1.1-1.5-1.2-1-2.8-1-1.2-2.5-1-2.5 .3-3.7 1.3-7.3 4.2-4.5 2.1-9.5 6.4-2.5 .9-1.5 1-1 0 0-.6 4.6-4.5 4.9-3.8 4.1-2.7 4.1-3.5 2.6-4-.5-1-2.3-1.5-3-.9-7-.6-5-1.2-27.5-1.4-1.1-.4-1.1-2 .1-.5 1.1-.9 3.5-1.1 22-1.2 14-1.7 5.5-1.1 5.5-1.5 9-3.5 1-.9 .7-1.6 1-5 .7-1.5 .3-7.5-.9-6-1.1-3-.7-3.4-1.1-8.6-.2-11.5 .4-25 1-4.5 1.4-2.7 1-.7zM257.7 52l0 3-.8 1.5-4.5 4.1-10.5 4.4-6.5 1.7-9.5 .7-5 .1-3.5-.4-5.5-1.8-1.5-2.3 .2-2 1.3-2.2 2-1.6 5-2.3 11.5-3.3 7-1.3 13-.8 2 .2 3 .9zM226.8 97l-6.4 5-6.5 4.5-.7 1-.1 1 .9 3-.3 1-2.9 3.5-4.4 3.1-6 2.4-5-1.2-2.6 .2-11.4 5.7-2 1.4-1.7 .4 .9-1 9.3-6.9 2-2 .1-1.1-2.5-4-.3-1.5 1.2-2 2-2.1 3.5-2.6 3.8-2.3 .4-.5 0-4 1.3-1.6 1.5-.1 1.5 1.2 .4 1.5-.2 2.5 .4 1 3.9 1.9 3 .6 3-.8 12-6.7zM362.9 173.2l2 .1 1 .8 .7 1.4 .9 4 .5 4.5 .1 17.5-.9 18.5-1.4 6-2.5 3.5-.4 3.1-.5 1-.3-2.1-2.2-3.5-1-4-1-7.4-.3-25.6 .4-10.5 .9-4.5 1.5-2.4zM423.2 265.5l-.9 1-1.9 1-7 .8-10.5 .2-7.5 .7-10.5 1.6-5 1.3-6 2.3-8.5 2.6-1 1-1.2 3-.8 1-1-.4-1-2.6-1.5-1.5-2.5-.7-2 .1-6.5 2.3-2 1.3-8 3.7-.7-.2 .3-.5 4.8-4.5 3.3-4-.1-1.5-1.5-1-2.6-1.2-2.5-.7-7-.7-5-1-21-1.2-2-.6-2.1-.1-1.5-1-.2-.5 1.3-1.2 2.5-.5 24.5-1.9 9.5-1.3 8-1.8 12.6-4.8 1.1-2 1.3-5.3 1.5-1.9 .9 1.7 1.6 6.1 1.2 1.4 1.3 .8 4 .8 3.5-.4 6.5-3 5.5-3.3 1-.1 .5 .2-1 1.8-4 3.1-1.6 1.6-.9 1.5-.1 1.5 1.3 1 3.1 1 4.7 .5 6.5 1.2 22 1.2 2.5 .6 1.5 .7zM254.7 53l.1 1.5-.5 1.5-2.9 3.5-4.5 2-3 1.7-7 2-9.5 1.2-6.5-.2-3.5-.8-4.5-2.5-.7-.9 .4-1.5 1.3-1.7 4.5-2.8 7-2.3 8-2 10.5-1.1 6.5-.1 2.2 .5zM213.3 105.5l-1 2.5 1.1 3.5-.2 1-2.4 3-4.4 3.3-3 1.4-3 1-5.5-1.4-2.5 .1-3 1.2-2.5 1.5-.6-.1 4-3.5 .6-1-.4-1.5-2.9-4.5 .3-1 1.4-2 2-2 3.1-2.2 4.2-2.3 .2-.5-.5-3 .3-1 .8-1.1 1.5-.2 1 .8 .5 1.5-.5 3 1 1 5.5 2.3 2 .3zM361.4 174.5l3.5 .2 .9 .8 1.1 4 .6 4.5 .1 17.5-.8 17.5-.9 4-.5 1.2-2.2 2.8-.8 .5-1.5-1-1.5-3.4-1-7.1-.3-8 0-17 .4-10.5 1.3-5 .6-.7zM305.4 265.5l1.9-1 3.1-.5 23.5-2.2 8.5-1.4 3-.9 13.5-5.1 1.1-1.4 1.4-4.7 .5-.6 .5 0 1.3 2.3 .5 2.5 .5 1 1.2 1 1.5 .7 3.5 .8 3 0 3-.9 3.5-1.6 1.5-.1-2.3 3.6-.2 1 1.1 1.5 2.4 1 2.5 .6 10.5 1.5 18 1.1 4 .7 1.7 1.1-.4 .5-2.3 1-3.5 .7-15 .6-9.5 1.2-5.5 1.1-4.5 1.3-6 2.4-7.5 2.2-1.3 1-1.7 2.8-.5-.2-1.5-2.1-1-.9-1.5-.6-2.5-.3-4 .7-4.5 1.5-2 1.1-.7 0-.1-.5 2.5-3.5 .1-2-1.8-1.4-3.5-1.5-14.5-2.2-17-1.1-3.5-1.1zM252.6 53.5l-.2 1.5-.8 1.5-4.4 3.5-3.3 2-6 2-11 1.3-6.5-.5-3.1-1.3-1.8-1.5-.6-1 .6-1.5 3.3-2.5 6.6-2.6 8.5-2.1 10.5-.8 4 .1 2.4 .4 1.1 .6zM200.4 97.1l1 .4 .7 1.5-.2 1.5-.9 1.5 .3 .5 6.6 3.1 3.3 .9 .5 2 1.3 3-.3 1-1 1.5-2.8 2.7-3.5 2.3-5 1.8-5.5-1.5-3.1-.3-.5-2-2.6-3.5-.7-1.5 1.3-2.5 2.4-2.5 3.2-2.2 4.6-2.3 .3-.5-1-1.5-.1-1.5 .6-1.5zM361.4 176l3 .3 1 .6 1 3 .5 4.1 .2 17.5-.9 17-1.3 4.2-2.5 1.7-2-1.7-.5-1.2-.9-6-.4-7.5 .1-23.5 .4-4 .6-2.5 .7-1.5zM310.2 265.5l2.2-1 2.5-.5 14-1.1 14-2.1 16.5-6.1 .8-.7 1.2-2.8 1-1.2 .7 1 .9 2.5 1.7 1.5 3.2 1 3 .5 2.5 0 4-.5-.5 1.5 .2 1 2.3 1.7 2.2 .8 12.1 2 18.7 1.5 1.8 1-.2 .5-.7 .5-1.4 .5-14.5 .8-14 2-5 1.5-7.5 2.9-6.5 1.8-1.5 1-1.5 1.7-.5-.1-2-1.8-2.2-.8-3.8-.3-5.5 .7-.5-.4 .1-2-.5-1-1.4-1-4.7-2-14.5-2.1-12-.8-3.5-.7zM249.8 54l-1.4 3-2.5 2.2-2.5 1.4-5.9 2.4-4.1 .6-9 .4-5-1.4-1.3-1.6 .2-1.5 .6-1 3.4-2 3.6-1.4 8-2 3.5-.4 7.5-.2 4 .6zM200.4 97.5l1 1-.6 .5 .6 1.5-1 .8-1-.6-.2-1.2 .2-1.4zM200.4 102.8l9.8 4.2 1.9 3.5 .4 1.5-1.6 2.5-3 2.6-3 1.9-4.5 1.5-7.5-2.1-3.4-4.4-1.1-2 1.3-2.5 2.5-2.5 3.7-2.4zM362.9 177.7l2 .8 1 2 .5 3.5 .2 11.5-.3 14.5-.4 5.5-.5 3.5-.5 .8-1.5 .7-2.5-.5-.5-.9-.8-3.6-.6-7.5 0-16.5 .5-9.5 .9-3.4 .8-.6zM314.1 265.5l1.8-.8 18.5-1.9 8-1.3 10.5-4.3 6.5-1.9 1.2-.8 1.8-2.4 1.5 2.3 1.8 1.1 5.2 1.3 5 .5 2.3 2.2 2.7 1.5 1.6 .5 11.9 1.9 12.2 1.1 3.3 .5 1.5 .5-.7 .5-1.8 .4-10.5 .9-14 2-4.5 1.4-7.5 3-7.5 2.1-2.5 2-3.5-2-8-1-3.7-2.8-5.8-2.5-11-1.6-13.8-1.4-1.7-.4zM246.7 55l-1 2-4.3 3-6.5 2.4-10.5 .1-2.5-1-.8-1.5 0-.5 .7-1 2.9-2 10.2-2.8 7.2-.2 3.2 .5zM200.4 103.2l4.5 1.7 5 2.6 1.8 3 .4 1.5-1.6 2.5-2.9 2.5-2.7 1.7-4.5 1.6-2.5-.6-4.5-1.7-3.1-3.5-1.5-2.5 1.2-2.5 2.6-2.5 3.3-2.1zM362.9 180l2 .4 .5 1.2 .4 2.9 .3 18-.6 10-.6 3.1-.5 .5-1 .3-2.5-.2-.5-.7-.8-7 .1-24 .7-3.6 .5-.6zM318.4 265.5l3.5-.8 12.5-1.5 7.5-1.1 10.5-4.4 7.5-2.1 2.5-1.9 1.4 1.3 1.6 .8 9.5 2.1 5 3.1 2.7 1 11.8 1.9 9.5 1 2.3 .6-.8 .5-2.3 .5-9.7 .9-9.5 1.5-3.5 1.1-8 3.4-7.8 2.1-2.2 1.4-3.5-1.5-7-1.1-4.8-2.8-5.7-2.5-4.5-.8-13-1.4-4.5-.8zM242.9 55.5l-.3 1-2.2 2-2.5 1.5-3.5 1.2-9-.6-1.1-.6 .2-1.5 2.1-1.5 8.5-2.5 5.8 .2 1.3 .3zM200.4 103.6l4.5 1.6 4.2 2.3 1.9 2.5 .7 2-1.6 2.5-2.9 2.5-2.8 1.6-4 1.4-3-.8-3.8-1.7-3.2-3.3-1.2-2.2 1.2-2.5 2.6-2.5 3.4-2.1zM362.9 182.9l1.5 .3 .5 .5 .5 5.3 .2 13.5-.7 7.6-.5 .5-2.5 .9-1-.3-.7-2.7-.1-19.5 .3-4.8 .5-.9zM322.5 265.5l2.4-.6 17-2.4 10.5-4.4 7.5-2.1 2.5-1.3 3 1.6 8.5 1.8 6.2 3.4 3.3 1.1 19 2.9-1.6 .5-16.9 2.4-11.5 4.7-8 2.1-2 .9-3.5-1.1-6.5-1.2-11-5.2-4.5-.8-12.5-1.6zM238.4 56.5l-.1 1-.7 1-3.7 1.3-3.5-.6-1.3-1.2 .4-.5 2.9-1.3 3-.7 2.5 .4zM200.4 103.9l4 1.3 4.5 2.6 2 2.7 .4 1.5-1.6 2.5-2.8 2.4-3 1.7-3.5 1.1-3-.8-3.5-1.6-2.9-2.8-1.5-2.5 .3-1 1-1.5 2.6-2.5 3-1.8zM362.4 187.5l1.5 .4 .6 1.1 .5 6.5 0 7-.6 3.3-.5 .4-2.5 .3-.5-2-.2-14 .2-1.7 .5-1zM397.6 265.5l-2.7 .7-11 1.8-11.5 4.8-10 2.7-10-2.2-8.9-4.3-2.6-1-11.5-1.6-3.7-.9 15.7-2.5 11.5-4.8 9.5-2.7 2.5 1 8.5 1.9 7 3.6 3 1.1zM200.4 104.1l4 1.4 4.2 2.5 1.9 2.5 .5 1.5-1.6 2.5-2.5 2.1-3 1.7-3.5 1.2-3-.8-3.3-1.7-2.7-2.5-1.5-2.5 .8-2 2.7-2.7 3.5-2.1zM329.5 265.5l11.9-2.1 11.5-4.9 9.5-2.4 11 2.7 7 3.5 3 1.2 10.5 2-3.5 1-7 1.2-11.5 5-9.5 2.3-9.5-2-9.7-4.5-2.8-1-9.4-1.5zM200.4 104.4l4 1.4 3.7 2.2 2.1 2.5 .4 1.5-1.2 2-2.8 2.5-2.7 1.6-3.5 1.1-3-.8-3-1.5-2.6-2.4-1.6-2.5 .9-2 2.8-2.7 3-1.8zM333.6 265.5l8.3-1.9 11.5-5 9-2.1 10 2.3 10.5 4.9 7.9 1.8-1.1 .5-6.3 1.3-12 5.2-9 2.1-9-1.8-12-5.4-6.8-1.4zM200.4 104.7l3.5 1.1 3.7 2.2 2.2 2.5 .5 1.5-1.4 2.2-2.7 2.3-2.8 1.6-3 .9-3-.9-3-1.6-2.5-2.3-1.3-2.2 .8-2 2.6-2.5 2.9-1.8zM337.1 265.5l5.3-1.7 10.5-4.8 9.5-2 10 2.1 10.5 5 4.9 1.4-4.4 1.4-11.5 5.2-4 1.1-5.5 1-5.5-.8-4-1.1-11.5-5.3zM200.4 104.9l3 .9 3.8 2.2 1.9 2 .8 2-1.2 2-2.8 2.4-3 1.6-2.5 .7-3-.8-2.6-1.4-2.7-2.5-1.2-2 .9-2 2.6-2.5 3-1.7zM339.4 265.5l13.5-6.2 4.5-1.2 5-.8 5.5 1 4.5 1.2 12.9 6-9.4 4.7-4 1.6-5 1.4-5 .6-5-.7-4-1.1-6-2.6zM200.4 105.2l3 .9 3.4 1.9 2 2 .8 2-1.2 2-2.5 2.1-2.5 1.5-3 .9-3-.9-2.5-1.4-2.5-2.2-1.2-2 .9-2 2.3-2.2 3-1.8zM340.5 265.5l6.9-3.6 5-2.2 5-1.3 5-.7 5 .7 5 1.3 11.7 5.8-6.7 3.7-5 2.2-5 1.4-5.5 .7-5-.7-4-1.1-6-2.6zM200.4 105.4l3 .9 3 1.7 2 2 .9 2-1.3 2-2.3 2-2.8 1.5-2.5 .7-2.7-.7-2.7-1.5-2.2-2-1.2-2 .9-2 2.4-2.3 3-1.6zM341.3 265.5l6.1-3.3 5.5-2.4 5-1.2 4.5-.6 5 .7 4.5 1.1 5.5 2.5 5.9 3.2-5.4 3.2-5.5 2.4-5 1.4-5.5 .7-5-.7-4.5-1.3-5.5-2.4zM200.4 105.6l2.9 .9 3.1 1.8 1.7 1.7 .8 2-1.2 2-2.3 1.9-2.5 1.4-2.5 .7-2.5-.7-2.5-1.3-2.3-2-1.2-2 .9-2 2.1-2 3-1.7zM341.9 265.5l5.5-3.1 5.5-2.3 5-1.3 4.5-.5 4.5 .6 5 1.2 5 2.2 5.8 3.2-5.3 3.2-5.5 2.4-5 1.3-5 .5-5-.6-5-1.5-5-2.3-4-2.2zM200.4 105.9l2.5 .7 3.3 1.9 1.9 2 .5 1.5-1.2 1.9-2 1.7-2.5 1.4-2.5 .8-2.5-.7-2.5-1.4-2-1.8-1.2-1.9 1-2 2.1-2 2.6-1.4zM342.5 265.5l5.4-3.1 5-2.1 5-1.2 4.5-.5 4.5 .5 4.5 1.1 5.5 2.4 5.3 2.9-5 3-5.3 2.3-5 1.3-5 .5-4.5-.5-5-1.4-5.5-2.4z"/>
</g>
<path class="ax" d="M71.40 12.50H484.30V373.45H71.40ZM71.40 373.45v7.2M103.18 373.45v3.4M134.95 373.45v7.2M166.73 373.45v3.4M198.50 373.45v7.2M230.28 373.45v3.4M262.05 373.45v7.2M293.83 373.45v3.4M325.60 373.45v7.2M357.38 373.45v3.4M389.15 373.45v7.2M420.93 373.45v3.4M452.70 373.45v7.2M484.48 373.45v3.4M71.40 12.50h-7.2M71.40 40.26h-3.4M71.40 68.03h-7.2M71.40 95.80h-3.4M71.40 123.56h-7.2M71.40 151.33h-3.4M71.40 179.09h-7.2M71.40 206.86h-3.4M71.40 234.62h-7.2M71.40 262.39h-3.4M71.40 290.15h-7.2M71.40 317.92h-3.4M71.40 345.68h-7.2M71.40 373.45h-3.4"/>
<g class="tk" text-anchor="middle">
<text x="70.90" y="399.2">−0.385</text>
<text x="134.45" y="399.2">−0.380</text>
<text x="198.00" y="399.2">−0.375</text>
<text x="261.55" y="399.2">−0.370</text>
<text x="325.10" y="399.2">−0.365</text>
<text x="388.65" y="399.2">−0.360</text>
<text x="452.20" y="399.2">−0.355</text>
</g><g class="tk" text-anchor="end">
<text x="58.2" y="18.10">1.01</text>
<text x="58.2" y="73.63">1.00</text>
<text x="58.2" y="129.16">0.99</text>
<text x="58.2" y="184.69">0.98</text>
<text x="58.2" y="240.22">0.97</text>
<text x="58.2" y="295.75">0.96</text>
<text x="58.2" y="351.28">0.95</text>
</g>
<text class="ti" x="246" y="428.2">Q<tspan dy="4" font-size="12">x</tspan><tspan dy="-4"> (1/A)</tspan></text>
<text class="ti" transform="translate(17.3,224.6) rotate(-90)">Q<tspan dy="4" font-size="12">z</tspan><tspan dy="-4"> (1/A)</tspan></text>
<g class="cb">
<rect x="490" y="347.58" width="18" height="13.72" fill="#0000ff"/>
<rect x="490" y="334.15" width="18" height="13.72" fill="#002aff"/>
<rect x="490" y="320.73" width="18" height="13.72" fill="#0055ff"/>
<rect x="490" y="307.31" width="18" height="13.72" fill="#0080ff"/>
<rect x="490" y="293.88" width="18" height="13.72" fill="#00aaff"/>
<rect x="490" y="280.46" width="18" height="13.72" fill="#00d4ff"/>
<rect x="490" y="267.04" width="18" height="13.72" fill="#00ffff"/>
<rect x="490" y="253.62" width="18" height="13.72" fill="#00ffd4"/>
<rect x="490" y="240.19" width="18" height="13.72" fill="#00ffaa"/>
<rect x="490" y="226.77" width="18" height="13.72" fill="#00ff80"/>
<rect x="490" y="213.35" width="18" height="13.72" fill="#00ff55"/>
<rect x="490" y="199.92" width="18" height="13.72" fill="#00ff2b"/>
<rect x="490" y="186.50" width="18" height="13.72" fill="#00ff00"/>
<rect x="490" y="173.08" width="18" height="13.72" fill="#2aff00"/>
<rect x="490" y="159.65" width="18" height="13.72" fill="#55ff00"/>
<rect x="490" y="146.23" width="18" height="13.72" fill="#80ff00"/>
<rect x="490" y="132.81" width="18" height="13.72" fill="#aaff00"/>
<rect x="490" y="119.38" width="18" height="13.72" fill="#d5ff00"/>
<rect x="490" y="105.96" width="18" height="13.72" fill="#ffff00"/>
<rect x="490" y="92.54" width="18" height="13.72" fill="#ffd500"/>
<rect x="490" y="79.12" width="18" height="13.72" fill="#ffaa00"/>
<rect x="490" y="65.69" width="18" height="13.72" fill="#ff8000"/>
<rect x="490" y="52.27" width="18" height="13.72" fill="#ff5500"/>
<rect x="490" y="38.85" width="18" height="13.72" fill="#ff2a00"/>
<rect x="490" y="25.42" width="18" height="13.72" fill="#ff0000"/>
<rect x="490" y="12.00" width="18" height="13.72" fill="#ff00ff"/>
<text x="513.5" y="365.80">2.00</text>
<text x="513.5" y="352.38">2.56</text>
<text x="513.5" y="338.95">3.29</text>
<text x="513.5" y="325.53">4.22</text>
<text x="513.5" y="312.11">5.41</text>
<text x="513.5" y="298.68">6.93</text>
<text x="513.5" y="285.26">8.89</text>
<text x="513.5" y="271.84">11.4</text>
<text x="513.5" y="258.42">14.6</text>
<text x="513.5" y="244.99">18.7</text>
<text x="513.5" y="231.57">24.0</text>
<text x="513.5" y="218.15">30.8</text>
<text x="513.5" y="204.72">39.5</text>
<text x="513.5" y="191.30">50.6</text>
<text x="513.5" y="177.88">64.9</text>
<text x="513.5" y="164.45">83.3</text>
<text x="513.5" y="151.03">107</text>
<text x="513.5" y="137.61">137</text>
<text x="513.5" y="124.18">176</text>
<text x="513.5" y="110.76">225</text>
<text x="513.5" y="97.34">289</text>
<text x="513.5" y="83.92">370</text>
<text x="513.5" y="70.49">474</text>
<text x="513.5" y="57.07">608</text>
<text x="513.5" y="43.65">780</text>
<text x="513.5" y="30.22">1000</text>
</g>
<g class="an">
<text transform="translate(135.51,34.90) scale(1.100,1)">AlN</text>
<text transform="translate(244.24,163.60) scale(1.080,1)">SiC</text>
<text transform="translate(408.95,166.20) scale(1.070,1)">AlGaN</text>
<text transform="translate(246.55,227.10) scale(1.070,1)">GaN</text>
<text transform="translate(88.29,338.50) scale(1.060,1)">WS</text>
<text transform="translate(81.73,363.00) scale(1.090,1)">(114)</text>
</g>
<path class="ar" d="M172.5 36.5L188.9 44.2"/><path d="M197.0 48.0L186.4 47.1L189.5 40.4Z" fill="#000"/>
<path class="ar" d="M244.3 151.1L228.2 139.6"/><path d="M220.9 134.4L231.2 137.2L226.9 143.2Z" fill="#000"/>
<path class="ar" d="M404.7 162.9L378.5 155.4"/><path d="M369.8 152.9L380.4 152.1L378.4 159.2Z" fill="#000"/>
<path class="ar" d="M403.6 167.7L391.0 176.2"/><path d="M383.6 181.3L389.8 172.6L393.9 178.7Z" fill="#000"/>
<path class="ar" d="M283.8 229.0L303.6 239.4"/><path d="M311.6 243.6L301.0 242.2L304.5 235.7Z" fill="#000"/>
</svg></body></html>
